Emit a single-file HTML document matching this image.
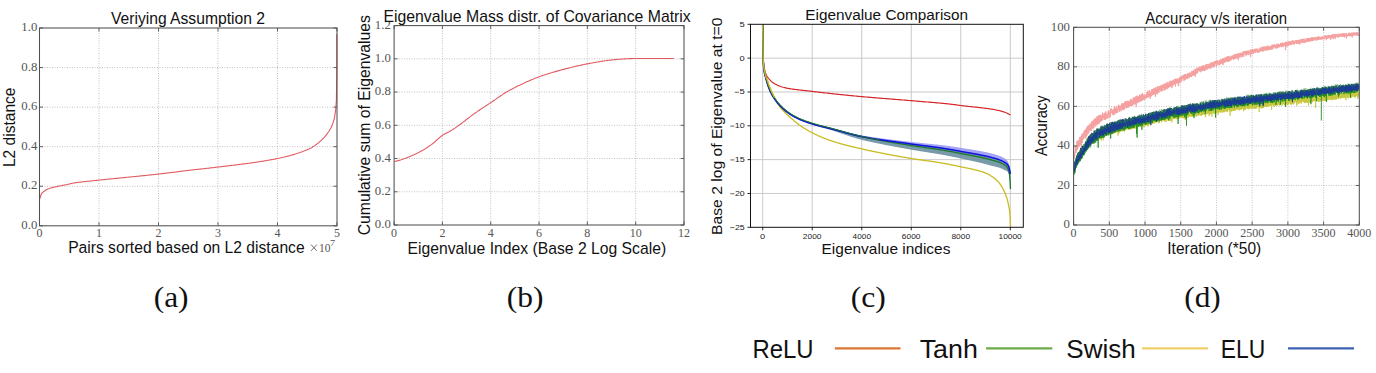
<!DOCTYPE html><html><head><meta charset="utf-8"><style>html,body{margin:0;padding:0;background:#fff;width:1376px;height:373px;overflow:hidden}svg{display:block}</style></head><body>
<svg width="1376" height="373" viewBox="0 0 1376 373">
<line x1="99" y1="28" x2="99" y2="225.8" stroke="#c0c0c0" stroke-width="1" stroke-dasharray="1 1.5"/>
<line x1="158.5" y1="28" x2="158.5" y2="225.8" stroke="#c0c0c0" stroke-width="1" stroke-dasharray="1 1.5"/>
<line x1="218" y1="28" x2="218" y2="225.8" stroke="#c0c0c0" stroke-width="1" stroke-dasharray="1 1.5"/>
<line x1="277.5" y1="28" x2="277.5" y2="225.8" stroke="#c0c0c0" stroke-width="1" stroke-dasharray="1 1.5"/>
<line x1="39.5" y1="186.24" x2="337" y2="186.24" stroke="#c0c0c0" stroke-width="1" stroke-dasharray="1 1.5"/>
<line x1="39.5" y1="146.68" x2="337" y2="146.68" stroke="#c0c0c0" stroke-width="1" stroke-dasharray="1 1.5"/>
<line x1="39.5" y1="107.12" x2="337" y2="107.12" stroke="#c0c0c0" stroke-width="1" stroke-dasharray="1 1.5"/>
<line x1="39.5" y1="67.56" x2="337" y2="67.56" stroke="#c0c0c0" stroke-width="1" stroke-dasharray="1 1.5"/>
<path d="M39.6 199 L40.3 197.2 L41.1 194.5 L41.8 193.3 L42.6 192.5 L43.3 191.8 L44.1 191.2 L44.8 190.7 L45.6 190.2 L46.3 189.8 L47 189.4 L47.8 189.1 L48.5 188.8 L49.3 188.5 L50 188.2 L50.8 188 L51.5 187.8 L52.2 187.6 L53 187.4 L53.7 187.2 L54.5 187 L55.2 186.9 L56 186.7 L56.7 186.6 L57.5 186.4 L58.2 186.3 L58.9 186.1 L59.7 186 L60.4 185.8 L61.2 185.7 L61.9 185.5 L62.7 185.4 L63.4 185.3 L64.1 185.1 L64.9 185 L65.6 184.8 L66.4 184.7 L67.1 184.5 L67.9 184.3 L68.6 184.2 L69.4 184 L70.1 183.8 L70.8 183.6 L71.6 183.5 L72.3 183.3 L73.1 183.2 L73.8 183 L74.6 182.9 L75.3 182.8 L76 182.7 L76.8 182.6 L77.5 182.5 L78.3 182.4 L79 182.3 L79.8 182.2 L80.5 182.1 L81.3 182 L82 181.9 L82.7 181.8 L83.5 181.7 L84.2 181.7 L85 181.6 L85.7 181.5 L86.5 181.4 L87.2 181.3 L88 181.3 L88.7 181.2 L89.4 181.1 L90.2 181 L90.9 181 L91.7 180.9 L92.4 180.8 L93.2 180.7 L93.9 180.7 L94.6 180.6 L95.4 180.5 L96.1 180.4 L96.9 180.4 L97.6 180.3 L98.4 180.2 L99.1 180.1 L99.9 180 L100.6 180 L101.3 179.9 L102.1 179.8 L102.8 179.7 L103.6 179.6 L104.3 179.6 L105.1 179.5 L105.8 179.4 L106.5 179.3 L107.3 179.3 L108 179.2 L108.8 179.1 L109.5 179 L110.3 179 L111 178.9 L111.8 178.8 L112.5 178.7 L113.2 178.7 L114 178.6 L114.7 178.5 L115.5 178.4 L116.2 178.4 L117 178.3 L117.7 178.2 L118.4 178.1 L119.2 178.1 L119.9 178 L120.7 177.9 L121.4 177.8 L122.2 177.8 L122.9 177.7 L123.7 177.6 L124.4 177.6 L125.1 177.5 L125.9 177.4 L126.6 177.3 L127.4 177.3 L128.1 177.2 L128.9 177.1 L129.6 177 L130.4 177 L131.1 176.9 L131.8 176.8 L132.6 176.8 L133.3 176.7 L134.1 176.6 L134.8 176.5 L135.6 176.5 L136.3 176.4 L137 176.3 L137.8 176.2 L138.5 176.2 L139.3 176.1 L140 176 L140.8 175.9 L141.5 175.9 L142.3 175.8 L143 175.7 L143.7 175.6 L144.5 175.6 L145.2 175.5 L146 175.4 L146.7 175.3 L147.5 175.3 L148.2 175.2 L148.9 175.1 L149.7 175 L150.4 174.9 L151.2 174.9 L151.9 174.8 L152.7 174.7 L153.4 174.6 L154.2 174.5 L154.9 174.5 L155.6 174.4 L156.4 174.3 L157.1 174.2 L157.9 174.1 L158.6 174.1 L159.4 174 L160.1 173.9 L160.8 173.8 L161.6 173.7 L162.3 173.6 L163.1 173.5 L163.8 173.4 L164.6 173.4 L165.3 173.3 L166.1 173.2 L166.8 173.1 L167.5 173 L168.3 172.9 L169 172.8 L169.8 172.7 L170.5 172.6 L171.3 172.5 L172 172.4 L172.8 172.3 L173.5 172.2 L174.2 172.2 L175 172.1 L175.7 172 L176.5 171.9 L177.2 171.8 L178 171.7 L178.7 171.6 L179.4 171.5 L180.2 171.4 L180.9 171.3 L181.7 171.2 L182.4 171.1 L183.2 171 L183.9 170.9 L184.7 170.8 L185.4 170.8 L186.1 170.7 L186.9 170.6 L187.6 170.5 L188.4 170.4 L189.1 170.3 L189.9 170.2 L190.6 170.1 L191.3 170 L192.1 170 L192.8 169.9 L193.6 169.8 L194.3 169.7 L195.1 169.6 L195.8 169.5 L196.6 169.5 L197.3 169.4 L198 169.3 L198.8 169.2 L199.5 169.1 L200.3 169.1 L201 169 L201.8 168.9 L202.5 168.8 L203.2 168.7 L204 168.7 L204.7 168.6 L205.5 168.5 L206.2 168.4 L207 168.3 L207.7 168.3 L208.5 168.2 L209.2 168.1 L209.9 168 L210.7 167.9 L211.4 167.8 L212.2 167.8 L212.9 167.7 L213.7 167.6 L214.4 167.5 L215.2 167.4 L215.9 167.3 L216.6 167.2 L217.4 167.1 L218.1 167 L218.9 167 L219.6 166.9 L220.4 166.8 L221.1 166.7 L221.8 166.6 L222.6 166.5 L223.3 166.4 L224.1 166.3 L224.8 166.2 L225.6 166.1 L226.3 166.1 L227.1 166 L227.8 165.9 L228.5 165.8 L229.3 165.7 L230 165.6 L230.8 165.5 L231.5 165.4 L232.3 165.3 L233 165.2 L233.7 165.2 L234.5 165.1 L235.2 165 L236 164.9 L236.7 164.8 L237.5 164.7 L238.2 164.6 L239 164.5 L239.7 164.4 L240.4 164.3 L241.2 164.2 L241.9 164.1 L242.7 164 L243.4 163.9 L244.2 163.9 L244.9 163.8 L245.6 163.7 L246.4 163.6 L247.1 163.5 L247.9 163.4 L248.6 163.3 L249.4 163.2 L250.1 163.1 L250.9 163 L251.6 162.9 L252.3 162.7 L253.1 162.6 L253.8 162.5 L254.6 162.4 L255.3 162.3 L256.1 162.2 L256.8 162.1 L257.6 162 L258.3 161.9 L259 161.8 L259.8 161.7 L260.5 161.5 L261.3 161.4 L262 161.3 L262.8 161.2 L263.5 161.1 L264.2 160.9 L265 160.8 L265.7 160.7 L266.5 160.6 L267.2 160.4 L268 160.3 L268.7 160.2 L269.5 160 L270.2 159.9 L270.9 159.8 L271.7 159.6 L272.4 159.5 L273.2 159.4 L273.9 159.2 L274.7 159.1 L275.4 158.9 L276.1 158.8 L276.9 158.6 L277.6 158.5 L278.4 158.3 L279.1 158.2 L279.9 158 L280.6 157.8 L281.4 157.7 L282.1 157.5 L282.8 157.3 L283.6 157.2 L284.3 157 L285.1 156.8 L285.8 156.6 L286.6 156.5 L287.3 156.3 L288 156.1 L288.8 155.9 L289.5 155.7 L290.3 155.5 L291 155.3 L291.8 155.1 L292.5 154.9 L293.3 154.6 L294 154.4 L294.7 154.2 L295.5 154 L296.2 153.7 L297 153.5 L297.7 153.2 L298.5 153 L299.2 152.7 L300 152.5 L300.7 152.2 L301.4 151.9 L302.2 151.7 L302.9 151.4 L303.7 151.1 L304.4 150.8 L305.2 150.5 L305.9 150.2 L306.6 149.9 L307.4 149.6 L308.1 149.2 L308.9 148.9 L309.6 148.6 L310.4 148.2 L311.1 147.9 L311.9 147.5 L312.6 147 L313.3 146.6 L314.1 146.1 L314.8 145.6 L315.6 145 L316.3 144.5 L317.1 143.9 L317.8 143.3 L318.5 142.7 L319.3 142.1 L320 141.4 L320.8 140.8 L321.5 140.1 L322.3 139.4 L323 138.7 L323.8 137.9 L324.5 137.1 L325.2 136.2 L326 135.3 L326.7 134.4 L327.5 133.4 L328.2 132.3 L329 131.2 L329.7 130 L330.4 128.8 L331.2 127.3 L331.9 125.7 L332.7 123.9 L333.4 121.7 L334.2 119 L334.9 115.2 L335.7 109.7 L336.4 100 L336.8 70 L336.8 34" fill="none" stroke="#e25a60" stroke-width="1.1"/>
<path d="M39.5 225.8V222.3M39.5 28V31.5M99 225.8V222.3M99 28V31.5M158.5 225.8V222.3M158.5 28V31.5M218 225.8V222.3M218 28V31.5M277.5 225.8V222.3M277.5 28V31.5M337 225.8V222.3M337 28V31.5M39.5 225.8H43M337 225.8H333.5M39.5 186.24H43M337 186.24H333.5M39.5 146.68H43M337 146.68H333.5M39.5 107.12H43M337 107.12H333.5M39.5 67.56H43M337 67.56H333.5M39.5 28H43M337 28H333.5" stroke="#505050" stroke-width="0.9" fill="none"/>
<rect x="39.5" y="28" width="297.5" height="197.8" fill="none" stroke="#505050" stroke-width="1.05"/>
<text x="39.5" y="236.7" font-family='"Liberation Serif",serif' font-size="12" text-anchor="middle" fill="#555" >0</text>
<text x="99" y="236.7" font-family='"Liberation Serif",serif' font-size="12" text-anchor="middle" fill="#555" >1</text>
<text x="158.5" y="236.7" font-family='"Liberation Serif",serif' font-size="12" text-anchor="middle" fill="#555" >2</text>
<text x="218" y="236.7" font-family='"Liberation Serif",serif' font-size="12" text-anchor="middle" fill="#555" >3</text>
<text x="277.5" y="236.7" font-family='"Liberation Serif",serif' font-size="12" text-anchor="middle" fill="#555" >4</text>
<text x="337" y="236.7" font-family='"Liberation Serif",serif' font-size="12" text-anchor="middle" fill="#555" >5</text>
<text x="37.3" y="229" font-family='"Liberation Serif",serif' font-size="12.8" text-anchor="end" fill="#555" >0.0</text>
<text x="37.3" y="189.44" font-family='"Liberation Serif",serif' font-size="12.8" text-anchor="end" fill="#555" >0.2</text>
<text x="37.3" y="149.88" font-family='"Liberation Serif",serif' font-size="12.8" text-anchor="end" fill="#555" >0.4</text>
<text x="37.3" y="110.32" font-family='"Liberation Serif",serif' font-size="12.8" text-anchor="end" fill="#555" >0.6</text>
<text x="37.3" y="70.76" font-family='"Liberation Serif",serif' font-size="12.8" text-anchor="end" fill="#555" >0.8</text>
<text x="37.3" y="31.2" font-family='"Liberation Serif",serif' font-size="12.8" text-anchor="end" fill="#555" >1.0</text>
<text x="110.92" y="23.6" font-family='"Liberation Sans",sans-serif' font-size="16.81" textLength="154.05" lengthAdjust="spacingAndGlyphs" fill="#111" >Veriying Assumption 2</text>
<text x="68.15" y="253.3" font-family='"Liberation Sans",sans-serif' font-size="16.67" textLength="236.47" lengthAdjust="spacingAndGlyphs" fill="#111" >Pairs sorted based on L2 distance</text>
<path d="M311 244.6L316.8 250.9M316.8 244.6L311 250.9" stroke="#555" stroke-width="0.85" fill="none"/>
<text x="319.03" y="251.6" font-family='"Liberation Serif",serif' font-size="12.52" textLength="11.43" lengthAdjust="spacingAndGlyphs" fill="#555" >10</text>
<text x="330.03" y="246.1" font-family='"Liberation Serif",serif' font-size="8.7" textLength="5.19" lengthAdjust="spacingAndGlyphs" fill="#555" >7</text>
<text x="14.8" y="167.04" font-family='"Liberation Sans",sans-serif' font-size="16.67" textLength="79.54" lengthAdjust="spacingAndGlyphs" fill="#111" transform="rotate(-90 14.8 167.04)">L2 distance</text>
<line x1="442.42" y1="25.6" x2="442.42" y2="225" stroke="#c0c0c0" stroke-width="1" stroke-dasharray="1 1.5"/>
<line x1="490.73" y1="25.6" x2="490.73" y2="225" stroke="#c0c0c0" stroke-width="1" stroke-dasharray="1 1.5"/>
<line x1="539.05" y1="25.6" x2="539.05" y2="225" stroke="#c0c0c0" stroke-width="1" stroke-dasharray="1 1.5"/>
<line x1="587.37" y1="25.6" x2="587.37" y2="225" stroke="#c0c0c0" stroke-width="1" stroke-dasharray="1 1.5"/>
<line x1="635.68" y1="25.6" x2="635.68" y2="225" stroke="#c0c0c0" stroke-width="1" stroke-dasharray="1 1.5"/>
<line x1="394.1" y1="191.77" x2="684" y2="191.77" stroke="#c0c0c0" stroke-width="1" stroke-dasharray="1 1.5"/>
<line x1="394.1" y1="158.53" x2="684" y2="158.53" stroke="#c0c0c0" stroke-width="1" stroke-dasharray="1 1.5"/>
<line x1="394.1" y1="125.3" x2="684" y2="125.3" stroke="#c0c0c0" stroke-width="1" stroke-dasharray="1 1.5"/>
<line x1="394.1" y1="92.07" x2="684" y2="92.07" stroke="#c0c0c0" stroke-width="1" stroke-dasharray="1 1.5"/>
<line x1="394.1" y1="58.83" x2="684" y2="58.83" stroke="#c0c0c0" stroke-width="1" stroke-dasharray="1 1.5"/>
<path d="M394.1 225V221.5M394.1 25.6V29.1M442.42 225V221.5M442.42 25.6V29.1M490.73 225V221.5M490.73 25.6V29.1M539.05 225V221.5M539.05 25.6V29.1M587.37 225V221.5M587.37 25.6V29.1M635.68 225V221.5M635.68 25.6V29.1M684 225V221.5M684 25.6V29.1M394.1 225H397.6M684 225H680.5M394.1 191.77H397.6M684 191.77H680.5M394.1 158.53H397.6M684 158.53H680.5M394.1 125.3H397.6M684 125.3H680.5M394.1 92.07H397.6M684 92.07H680.5M394.1 58.83H397.6M684 58.83H680.5M394.1 25.6H397.6M684 25.6H680.5" stroke="#505050" stroke-width="0.9" fill="none"/>
<rect x="394.1" y="25.6" width="289.9" height="199.4" fill="none" stroke="#505050" stroke-width="1.05"/>
<path d="M394.2 161.6 L395.1 161.4 L396.1 161.2 L397 160.9 L397.9 160.7 L398.9 160.4 L399.8 160.2 L400.7 159.9 L401.7 159.6 L402.6 159.3 L403.6 158.9 L404.5 158.6 L405.4 158.3 L406.4 157.9 L407.3 157.6 L408.2 157.2 L409.2 156.8 L410.1 156.4 L411 156 L412 155.6 L412.9 155.2 L413.8 154.8 L414.8 154.3 L415.7 153.9 L416.7 153.5 L417.6 153 L418.5 152.6 L419.5 152.1 L420.4 151.6 L421.3 151.1 L422.3 150.6 L423.2 150 L424.1 149.5 L425.1 148.9 L426 148.3 L426.9 147.7 L427.9 147 L428.8 146.4 L429.7 145.7 L430.7 145.1 L431.6 144.4 L432.6 143.7 L433.5 143 L434.4 142.2 L435.4 141.4 L436.3 140.5 L437.2 139.7 L438.2 138.8 L439.1 138 L440 137.2 L441 136.5 L441.9 135.8 L442.8 135.1 L443.8 134.5 L444.7 134 L445.6 133.5 L446.6 133 L447.5 132.5 L448.5 132 L449.4 131.5 L450.3 131 L451.3 130.4 L452.2 129.9 L453.1 129.3 L454.1 128.7 L455 128.1 L455.9 127.4 L456.9 126.8 L457.8 126.1 L458.7 125.4 L459.7 124.7 L460.6 124 L461.6 123.3 L462.5 122.6 L463.4 121.9 L464.4 121.2 L465.3 120.5 L466.2 119.7 L467.2 119 L468.1 118.3 L469 117.6 L470 116.9 L470.9 116.1 L471.8 115.4 L472.8 114.8 L473.7 114.1 L474.6 113.4 L475.6 112.7 L476.5 112.1 L477.5 111.4 L478.4 110.8 L479.3 110.2 L480.3 109.5 L481.2 108.9 L482.1 108.3 L483.1 107.7 L484 107.1 L484.9 106.4 L485.9 105.8 L486.8 105.2 L487.7 104.6 L488.7 104 L489.6 103.4 L490.6 102.7 L491.5 102.1 L492.4 101.5 L493.4 100.8 L494.3 100.2 L495.2 99.6 L496.2 98.9 L497.1 98.3 L498 97.6 L499 97 L499.9 96.3 L500.8 95.7 L501.8 95.1 L502.7 94.4 L503.6 93.8 L504.6 93.2 L505.5 92.6 L506.5 92.1 L507.4 91.5 L508.3 91 L509.3 90.4 L510.2 89.9 L511.1 89.4 L512.1 88.9 L513 88.4 L513.9 87.9 L514.9 87.5 L515.8 87 L516.7 86.5 L517.7 86.1 L518.6 85.6 L519.6 85.2 L520.5 84.7 L521.4 84.3 L522.4 83.9 L523.3 83.4 L524.2 83 L525.2 82.6 L526.1 82.1 L527 81.7 L528 81.3 L528.9 80.9 L529.8 80.5 L530.8 80.1 L531.7 79.7 L532.6 79.3 L533.6 78.9 L534.5 78.5 L535.5 78.1 L536.4 77.7 L537.3 77.4 L538.3 77 L539.2 76.7 L540.1 76.4 L541.1 76 L542 75.7 L542.9 75.4 L543.9 75.1 L544.8 74.8 L545.7 74.5 L546.7 74.2 L547.6 73.9 L548.5 73.6 L549.5 73.3 L550.4 73 L551.4 72.7 L552.3 72.5 L553.2 72.2 L554.2 71.9 L555.1 71.6 L556 71.4 L557 71.1 L557.9 70.9 L558.8 70.6 L559.8 70.3 L560.7 70.1 L561.6 69.8 L562.6 69.6 L563.5 69.4 L564.5 69.1 L565.4 68.9 L566.3 68.6 L567.3 68.4 L568.2 68.2 L569.1 67.9 L570.1 67.7 L571 67.5 L571.9 67.2 L572.9 67 L573.8 66.8 L574.7 66.6 L575.7 66.3 L576.6 66.1 L577.5 65.9 L578.5 65.7 L579.4 65.5 L580.4 65.3 L581.3 65.1 L582.2 64.9 L583.2 64.7 L584.1 64.5 L585 64.3 L586 64.1 L586.9 63.9 L587.8 63.8 L588.8 63.6 L589.7 63.4 L590.6 63.2 L591.6 63 L592.5 62.9 L593.5 62.7 L594.4 62.5 L595.3 62.4 L596.3 62.2 L597.2 62 L598.1 61.9 L599.1 61.7 L600 61.5 L600.9 61.4 L601.9 61.2 L602.8 61.1 L603.7 61 L604.7 60.8 L605.6 60.7 L606.5 60.6 L607.5 60.4 L608.4 60.3 L609.4 60.2 L610.3 60.1 L611.2 60 L612.2 59.9 L613.1 59.8 L614 59.7 L615 59.6 L615.9 59.6 L616.8 59.5 L617.8 59.4 L618.7 59.3 L619.6 59.2 L620.6 59.2 L621.5 59.1 L622.5 59 L623.4 59 L624.3 58.9 L625.3 58.9 L626.2 58.8 L627.1 58.8 L628.1 58.7 L629 58.7 L629.9 58.6 L630.9 58.6 L631.8 58.6 L632.7 58.5 L633.7 58.5 L634.6 58.5 L635.5 58.5 L636.5 58.5 L637.4 58.5 L638.4 58.5 L639.3 58.5 L640.2 58.5 L641.2 58.5 L642.1 58.5 L643 58.5 L644 58.5 L644.9 58.5 L645.8 58.5 L646.8 58.5 L647.7 58.5 L648.6 58.5 L649.6 58.5 L650.5 58.5 L651.4 58.5 L652.4 58.5 L653.3 58.5 L654.3 58.5 L655.2 58.5 L656.1 58.5 L657.1 58.5 L658 58.5 L658.9 58.5 L659.9 58.5 L660.8 58.5 L661.7 58.5 L662.7 58.5 L663.6 58.5 L664.5 58.5 L665.5 58.5 L666.4 58.5 L667.4 58.5 L668.3 58.5 L669.2 58.5 L670.2 58.5 L671.1 58.5 L672 58.5 L673 58.5 L673.9 58.5" fill="none" stroke="#e25a60" stroke-width="1.1"/>
<text x="394.1" y="236.8" font-family='"Liberation Serif",serif' font-size="12" text-anchor="middle" fill="#555" >0</text>
<text x="442.42" y="236.8" font-family='"Liberation Serif",serif' font-size="12" text-anchor="middle" fill="#555" >2</text>
<text x="490.73" y="236.8" font-family='"Liberation Serif",serif' font-size="12" text-anchor="middle" fill="#555" >4</text>
<text x="539.05" y="236.8" font-family='"Liberation Serif",serif' font-size="12" text-anchor="middle" fill="#555" >6</text>
<text x="587.37" y="236.8" font-family='"Liberation Serif",serif' font-size="12" text-anchor="middle" fill="#555" >8</text>
<text x="635.68" y="236.8" font-family='"Liberation Serif",serif' font-size="12" text-anchor="middle" fill="#555" >10</text>
<text x="684" y="236.8" font-family='"Liberation Serif",serif' font-size="12" text-anchor="middle" fill="#555" >12</text>
<text x="390.8" y="228.2" font-family='"Liberation Serif",serif' font-size="12.8" text-anchor="end" fill="#555" >0.0</text>
<text x="390.8" y="194.97" font-family='"Liberation Serif",serif' font-size="12.8" text-anchor="end" fill="#555" >0.2</text>
<text x="390.8" y="161.73" font-family='"Liberation Serif",serif' font-size="12.8" text-anchor="end" fill="#555" >0.4</text>
<text x="390.8" y="128.5" font-family='"Liberation Serif",serif' font-size="12.8" text-anchor="end" fill="#555" >0.6</text>
<text x="390.8" y="95.27" font-family='"Liberation Serif",serif' font-size="12.8" text-anchor="end" fill="#555" >0.8</text>
<text x="390.8" y="62.03" font-family='"Liberation Serif",serif' font-size="12.8" text-anchor="end" fill="#555" >1.0</text>
<text x="390.8" y="28.8" font-family='"Liberation Serif",serif' font-size="12.8" text-anchor="end" fill="#555" >1.2</text>
<text x="383.44" y="21.6" font-family='"Liberation Sans",sans-serif' font-size="16.81" textLength="307.29" lengthAdjust="spacingAndGlyphs" fill="#111" >Eigenvalue Mass distr. of Covariance Matrix</text>
<text x="407.54" y="253.7" font-family='"Liberation Sans",sans-serif' font-size="16.96" textLength="258.61" lengthAdjust="spacingAndGlyphs" fill="#111" >Eigenvalue Index (Base 2 Log Scale)</text>
<text x="369.6" y="235.29" font-family='"Liberation Sans",sans-serif' font-size="16.38" textLength="220.17" lengthAdjust="spacingAndGlyphs" fill="#111" transform="rotate(-90 369.6 235.29)">Cumulative sum of Eigenvalues</text>
<line x1="762.7" y1="24.3" x2="762.7" y2="227.3" stroke="#c4c4c4" stroke-width="0.9"/>
<line x1="812.22" y1="24.3" x2="812.22" y2="227.3" stroke="#c4c4c4" stroke-width="0.9"/>
<line x1="861.74" y1="24.3" x2="861.74" y2="227.3" stroke="#c4c4c4" stroke-width="0.9"/>
<line x1="911.26" y1="24.3" x2="911.26" y2="227.3" stroke="#c4c4c4" stroke-width="0.9"/>
<line x1="960.78" y1="24.3" x2="960.78" y2="227.3" stroke="#c4c4c4" stroke-width="0.9"/>
<line x1="1010.3" y1="24.3" x2="1010.3" y2="227.3" stroke="#c4c4c4" stroke-width="0.9"/>
<line x1="750.5" y1="58.13" x2="1023.3" y2="58.13" stroke="#c4c4c4" stroke-width="0.9"/>
<line x1="750.5" y1="91.97" x2="1023.3" y2="91.97" stroke="#c4c4c4" stroke-width="0.9"/>
<line x1="750.5" y1="125.8" x2="1023.3" y2="125.8" stroke="#c4c4c4" stroke-width="0.9"/>
<line x1="750.5" y1="159.63" x2="1023.3" y2="159.63" stroke="#c4c4c4" stroke-width="0.9"/>
<line x1="750.5" y1="193.47" x2="1023.3" y2="193.47" stroke="#c4c4c4" stroke-width="0.9"/>
<clipPath id="cc"><rect x="750.5" y="24.3" width="272.8" height="203"/></clipPath><g clip-path="url(#cc)">
<path d="M762.6 19.7 L763.1 56.9 L763.6 66.6 L764.1 70.6 L764.6 73.3 L765.1 75.3 L765.6 77.1 L766.1 79 L766.6 80.8 L767.1 82.5 L767.6 84.1 L768.1 85.6 L768.6 86.9 L769.1 88.2 L769.6 89.4 L770 90.5 L770.5 91.6 L771 92.6 L771.5 93.6 L772 94.5 L772.5 95.4 L773 96.2 L773.5 97 L774 97.8 L774.5 98.5 L775 99.2 L775.5 99.9 L776 100.6 L776.5 101.2 L777 101.8 L777.5 102.4 L778 103 L778.5 103.6 L779 104.2 L779.5 104.7 L780 105.2 L780.5 105.8 L781 106.3 L781.5 106.8 L782 107.3 L782.5 107.7 L783 108.2 L783.5 108.7 L784 109.1 L784.5 109.5 L784.9 109.9 L785.4 110.3 L785.9 110.7 L786.4 111.1 L786.9 111.5 L787.4 111.9 L787.9 112.2 L788.4 112.6 L788.9 112.9 L789.4 113.3 L789.9 113.6 L790.4 113.9 L790.9 114.2 L791.4 114.5 L791.9 114.8 L792.4 115.1 L792.9 115.4 L793.4 115.7 L793.9 116 L794.4 116.3 L794.9 116.5 L795.4 116.8 L795.9 117 L796.4 117.3 L796.9 117.5 L797.4 117.8 L797.9 118 L798.4 118.2 L798.9 118.4 L799.3 118.7 L799.8 118.9 L800.3 119.1 L800.8 119.3 L801.3 119.5 L801.8 119.7 L802.3 119.9 L802.8 120.1 L803.3 120.3 L803.8 120.4 L804.3 120.6 L804.8 120.8 L805.3 121 L805.8 121.2 L806.3 121.3 L806.8 121.5 L807.3 121.7 L807.8 121.8 L808.3 122 L808.8 122.2 L809.3 122.3 L809.8 122.5 L810.3 122.6 L810.8 122.8 L811.3 122.9 L811.8 123.1 L812.3 123.2 L812.8 123.4 L813.3 123.5 L813.7 123.7 L814.2 123.8 L814.7 123.9 L815.2 124.1 L815.7 124.2 L816.2 124.3 L816.7 124.5 L817.2 124.6 L817.7 124.7 L818.2 124.9 L818.7 125 L819.2 125.1 L819.7 125.2 L820.2 125.4 L820.7 125.5 L821.2 125.6 L821.7 125.7 L822.2 125.8 L822.7 125.9 L823.2 126.1 L823.7 126.2 L824.2 126.3 L824.7 126.4 L825.2 126.5 L825.7 126.6 L826.2 126.8 L826.7 126.9 L827.2 127 L827.7 127.1 L828.2 127.2 L828.6 127.3 L829.1 127.5 L829.6 127.6 L830.1 127.7 L830.6 127.8 L831.1 127.9 L831.6 128.1 L832.1 128.2 L832.6 128.3 L833.1 128.4 L833.6 128.5 L834.1 128.7 L834.6 128.8 L835.1 128.9 L835.6 129.1 L836.1 129.2 L836.6 129.3 L837.1 129.4 L837.6 129.6 L838.1 129.7 L838.6 129.8 L839.1 130 L839.6 130.1 L840.1 130.2 L840.6 130.4 L841.1 130.5 L841.6 130.6 L842.1 130.8 L842.6 130.9 L843 131 L843.5 131.2 L844 131.3 L844.5 131.4 L845 131.6 L845.5 131.7 L846 131.8 L846.5 132 L847 132.1 L847.5 132.2 L848 132.3 L848.5 132.5 L849 132.6 L849.5 132.7 L850 132.9 L850.5 133 L851 133.1 L851.5 133.2 L852 133.3 L852.5 133.5 L853 133.6 L853.5 133.7 L854 133.8 L854.5 133.9 L855 134 L855.5 134.1 L856 134.2 L856.5 134.3 L857 134.5 L857.4 134.6 L857.9 134.7 L858.4 134.8 L858.9 134.9 L859.4 135 L859.9 135 L860.4 135.1 L860.9 135.2 L861.4 135.3 L861.9 135.4 L862.4 135.5 L862.9 135.6 L863.4 135.7 L863.9 135.7 L864.4 135.8 L864.9 135.9 L865.4 136 L865.9 136.1 L866.4 136.2 L866.9 136.2 L867.4 136.3 L867.9 136.4 L868.4 136.5 L868.9 136.6 L869.4 136.6 L869.9 136.7 L870.4 136.8 L870.9 136.9 L871.4 136.9 L871.9 137 L872.3 137.1 L872.8 137.2 L873.3 137.2 L873.8 137.3 L874.3 137.4 L874.8 137.4 L875.3 137.5 L875.8 137.6 L876.3 137.6 L876.8 137.7 L877.3 137.8 L877.8 137.9 L878.3 137.9 L878.8 138 L879.3 138.1 L879.8 138.1 L880.3 138.2 L880.8 138.3 L881.3 138.3 L881.8 138.4 L882.3 138.4 L882.8 138.5 L883.3 138.6 L883.8 138.6 L884.3 138.7 L884.8 138.8 L885.3 138.8 L885.8 138.9 L886.3 139 L886.7 139 L887.2 139.1 L887.7 139.1 L888.2 139.2 L888.7 139.3 L889.2 139.3 L889.7 139.4 L890.2 139.4 L890.7 139.5 L891.2 139.6 L891.7 139.6 L892.2 139.7 L892.7 139.7 L893.2 139.8 L893.7 139.9 L894.2 139.9 L894.7 140 L895.2 140 L895.7 140.1 L896.2 140.2 L896.7 140.2 L897.2 140.3 L897.7 140.3 L898.2 140.4 L898.7 140.4 L899.2 140.5 L899.7 140.6 L900.2 140.6 L900.7 140.7 L901.1 140.7 L901.6 140.8 L902.1 140.9 L902.6 140.9 L903.1 141 L903.6 141 L904.1 141.1 L904.6 141.2 L905.1 141.2 L905.6 141.3 L906.1 141.3 L906.6 141.4 L907.1 141.5 L907.6 141.5 L908.1 141.6 L908.6 141.6 L909.1 141.7 L909.6 141.8 L910.1 141.8 L910.6 141.9 L911.1 142 L911.6 142 L912.1 142.1 L912.6 142.1 L913.1 142.2 L913.6 142.2 L914.1 142.3 L914.6 142.3 L915.1 142.4 L915.6 142.4 L916 142.5 L916.5 142.5 L917 142.6 L917.5 142.6 L918 142.7 L918.5 142.7 L919 142.8 L919.5 142.8 L920 142.9 L920.5 142.9 L921 143 L921.5 143 L922 143.1 L922.5 143.1 L923 143.2 L923.5 143.2 L924 143.3 L924.5 143.3 L925 143.4 L925.5 143.4 L926 143.5 L926.5 143.5 L927 143.6 L927.5 143.6 L928 143.7 L928.5 143.7 L929 143.8 L929.5 143.8 L930 143.9 L930.4 143.9 L930.9 144 L931.4 144 L931.9 144.1 L932.4 144.1 L932.9 144.2 L933.4 144.2 L933.9 144.3 L934.4 144.3 L934.9 144.4 L935.4 144.4 L935.9 144.5 L936.4 144.5 L936.9 144.6 L937.4 144.6 L937.9 144.7 L938.4 144.7 L938.9 144.8 L939.4 144.9 L939.9 144.9 L940.4 145 L940.9 145 L941.4 145.1 L941.9 145.1 L942.4 145.2 L942.9 145.3 L943.4 145.3 L943.9 145.4 L944.4 145.4 L944.8 145.5 L945.3 145.6 L945.8 145.6 L946.3 145.7 L946.8 145.7 L947.3 145.8 L947.8 145.9 L948.3 145.9 L948.8 146 L949.3 146.1 L949.8 146.2 L950.3 146.2 L950.8 146.3 L951.3 146.4 L951.8 146.4 L952.3 146.5 L952.8 146.6 L953.3 146.7 L953.8 146.7 L954.3 146.8 L954.8 146.9 L955.3 147 L955.8 147 L956.3 147.1 L956.8 147.2 L957.3 147.3 L957.8 147.3 L958.3 147.4 L958.8 147.5 L959.3 147.6 L959.7 147.6 L960.2 147.7 L960.7 147.8 L961.2 147.9 L961.7 148 L962.2 148 L962.7 148.1 L963.2 148.2 L963.7 148.3 L964.2 148.4 L964.7 148.4 L965.2 148.5 L965.7 148.6 L966.2 148.7 L966.7 148.8 L967.2 148.8 L967.7 148.9 L968.2 149 L968.7 149.1 L969.2 149.2 L969.7 149.2 L970.2 149.3 L970.7 149.4 L971.2 149.5 L971.7 149.6 L972.2 149.6 L972.7 149.7 L973.2 149.8 L973.7 149.9 L974.1 150 L974.6 150 L975.1 150.1 L975.6 150.2 L976.1 150.3 L976.6 150.4 L977.1 150.5 L977.6 150.6 L978.1 150.6 L978.6 150.7 L979.1 150.8 L979.6 150.9 L980.1 151 L980.6 151.1 L981.1 151.2 L981.6 151.3 L982.1 151.4 L982.6 151.5 L983.1 151.6 L983.6 151.7 L984.1 151.8 L984.6 151.9 L985.1 152 L985.6 152.1 L986.1 152.2 L986.6 152.3 L987.1 152.4 L987.6 152.5 L988.1 152.6 L988.5 152.7 L989 152.9 L989.5 153 L990 153.1 L990.5 153.2 L991 153.4 L991.5 153.5 L992 153.6 L992.5 153.8 L993 153.9 L993.5 154 L994 154.2 L994.5 154.3 L995 154.4 L995.5 154.6 L996 154.7 L996.5 154.9 L997 155 L997.5 155.2 L998 155.4 L998.5 155.5 L999 155.7 L999.5 155.9 L1000 156.1 L1000.5 156.3 L1001 156.5 L1001.5 156.7 L1002 156.9 L1002.5 157.2 L1003 157.4 L1003.4 157.6 L1003.9 157.9 L1004.4 158.2 L1004.9 158.5 L1005.4 158.8 L1005.9 159.3 L1006.4 159.7 L1006.9 160.3 L1007.4 160.9 L1007.9 161.6 L1008.4 162.5 L1008.9 163.7 L1009.4 165.7 L1009.9 168.2 L1010.4 170.9 L1010.4 174.2 L1009.9 171.6 L1009.4 169.2 L1008.9 167.3 L1008.4 166.2 L1007.9 165.4 L1007.4 164.8 L1006.9 164.2 L1006.4 163.8 L1005.9 163.4 L1005.4 163.1 L1004.9 162.8 L1004.4 162.5 L1003.9 162.2 L1003.4 161.9 L1003 161.7 L1002.5 161.5 L1002 161.2 L1001.5 161 L1001 160.8 L1000.5 160.6 L1000 160.4 L999.5 160.2 L999 160 L998.5 159.8 L998 159.7 L997.5 159.5 L997 159.3 L996.5 159.2 L996 159 L995.5 158.9 L995 158.7 L994.5 158.6 L994 158.5 L993.5 158.3 L993 158.2 L992.5 158.1 L992 157.9 L991.5 157.8 L991 157.7 L990.5 157.5 L990 157.4 L989.5 157.3 L989 157.2 L988.5 157 L988.1 156.9 L987.6 156.8 L987.1 156.7 L986.6 156.5 L986.1 156.4 L985.6 156.3 L985.1 156.2 L984.6 156.1 L984.1 156 L983.6 155.9 L983.1 155.8 L982.6 155.7 L982.1 155.6 L981.6 155.5 L981.1 155.4 L980.6 155.3 L980.1 155.2 L979.6 155.1 L979.1 155 L978.6 154.9 L978.1 154.8 L977.6 154.7 L977.1 154.6 L976.6 154.5 L976.1 154.4 L975.6 154.3 L975.1 154.2 L974.6 154.1 L974.1 154 L973.7 154 L973.2 153.9 L972.7 153.8 L972.2 153.7 L971.7 153.6 L971.2 153.5 L970.7 153.4 L970.2 153.3 L969.7 153.3 L969.2 153.2 L968.7 153.1 L968.2 153 L967.7 152.9 L967.2 152.8 L966.7 152.7 L966.2 152.7 L965.7 152.6 L965.2 152.5 L964.7 152.4 L964.2 152.3 L963.7 152.2 L963.2 152.1 L962.7 152 L962.2 152 L961.7 151.9 L961.2 151.8 L960.7 151.7 L960.2 151.6 L959.7 151.5 L959.3 151.4 L958.8 151.3 L958.3 151.2 L957.8 151.1 L957.3 151 L956.8 150.9 L956.3 150.9 L955.8 150.8 L955.3 150.7 L954.8 150.6 L954.3 150.5 L953.8 150.4 L953.3 150.3 L952.8 150.2 L952.3 150.1 L951.8 150 L951.3 150 L950.8 149.9 L950.3 149.8 L949.8 149.7 L949.3 149.6 L948.8 149.5 L948.3 149.4 L947.8 149.4 L947.3 149.3 L946.8 149.2 L946.3 149.1 L945.8 149 L945.3 149 L944.8 148.9 L944.4 148.8 L943.9 148.7 L943.4 148.6 L942.9 148.6 L942.4 148.5 L941.9 148.4 L941.4 148.3 L940.9 148.3 L940.4 148.2 L939.9 148.1 L939.4 148.1 L938.9 148 L938.4 147.9 L937.9 147.8 L937.4 147.8 L936.9 147.7 L936.4 147.6 L935.9 147.6 L935.4 147.5 L934.9 147.4 L934.4 147.4 L933.9 147.3 L933.4 147.2 L932.9 147.2 L932.4 147.1 L931.9 147 L931.4 147 L930.9 146.9 L930.4 146.8 L930 146.8 L929.5 146.7 L929 146.6 L928.5 146.6 L928 146.5 L927.5 146.4 L927 146.4 L926.5 146.3 L926 146.3 L925.5 146.2 L925 146.1 L924.5 146.1 L924 146 L923.5 145.9 L923 145.9 L922.5 145.8 L922 145.7 L921.5 145.7 L921 145.6 L920.5 145.5 L920 145.5 L919.5 145.4 L919 145.3 L918.5 145.3 L918 145.2 L917.5 145.1 L917 145.1 L916.5 145 L916 144.9 L915.6 144.9 L915.1 144.8 L914.6 144.7 L914.1 144.7 L913.6 144.6 L913.1 144.5 L912.6 144.5 L912.1 144.4 L911.6 144.3 L911.1 144.3 L910.6 144.2 L910.1 144.1 L909.6 144 L909.1 144 L908.6 143.9 L908.1 143.8 L907.6 143.8 L907.1 143.7 L906.6 143.6 L906.1 143.6 L905.6 143.5 L905.1 143.4 L904.6 143.4 L904.1 143.3 L903.6 143.2 L903.1 143.2 L902.6 143.1 L902.1 143 L901.6 142.9 L901.1 142.9 L900.7 142.8 L900.2 142.7 L899.7 142.7 L899.2 142.6 L898.7 142.5 L898.2 142.5 L897.7 142.4 L897.2 142.3 L896.7 142.3 L896.2 142.2 L895.7 142.1 L895.2 142.1 L894.7 142 L894.2 141.9 L893.7 141.9 L893.2 141.8 L892.7 141.7 L892.2 141.7 L891.7 141.6 L891.2 141.5 L890.7 141.5 L890.2 141.4 L889.7 141.3 L889.2 141.3 L888.7 141.2 L888.2 141.1 L887.7 141.1 L887.2 141 L886.7 140.9 L886.3 140.8 L885.8 140.8 L885.3 140.7 L884.8 140.6 L884.3 140.6 L883.8 140.5 L883.3 140.4 L882.8 140.3 L882.3 140.3 L881.8 140.2 L881.3 140.1 L880.8 140.1 L880.3 140 L879.8 139.9 L879.3 139.8 L878.8 139.8 L878.3 139.7 L877.8 139.6 L877.3 139.5 L876.8 139.5 L876.3 139.4 L875.8 139.3 L875.3 139.2 L874.8 139.1 L874.3 139.1 L873.8 139 L873.3 138.9 L872.8 138.8 L872.3 138.7 L871.9 138.7 L871.4 138.6 L870.9 138.5 L870.4 138.4 L869.9 138.3 L869.4 138.2 L868.9 138.2 L868.4 138.1 L867.9 138 L867.4 137.9 L866.9 137.8 L866.4 137.7 L865.9 137.6 L865.4 137.5 L864.9 137.5 L864.4 137.4 L863.9 137.3 L863.4 137.2 L862.9 137.1 L862.4 137 L861.9 136.9 L861.4 136.8 L860.9 136.7 L860.4 136.6 L859.9 136.5 L859.4 136.4 L858.9 136.3 L858.4 136.2 L857.9 136.1 L857.4 136 L857 135.9 L856.5 135.8 L856 135.6 L855.5 135.5 L855 135.4 L854.5 135.3 L854 135.2 L853.5 135 L853 134.9 L852.5 134.8 L852 134.7 L851.5 134.5 L851 134.4 L850.5 134.3 L850 134.2 L849.5 134 L849 133.9 L848.5 133.8 L848 133.6 L847.5 133.5 L847 133.4 L846.5 133.2 L846 133.1 L845.5 133 L845 132.8 L844.5 132.7 L844 132.6 L843.5 132.4 L843 132.3 L842.6 132.1 L842.1 132 L841.6 131.9 L841.1 131.7 L840.6 131.6 L840.1 131.5 L839.6 131.3 L839.1 131.2 L838.6 131.1 L838.1 130.9 L837.6 130.8 L837.1 130.6 L836.6 130.5 L836.1 130.4 L835.6 130.2 L835.1 130.1 L834.6 130 L834.1 129.8 L833.6 129.7 L833.1 129.6 L832.6 129.5 L832.1 129.3 L831.6 129.2 L831.1 129.1 L830.6 129 L830.1 128.8 L829.6 128.7 L829.1 128.6 L828.6 128.5 L828.2 128.3 L827.7 128.2 L827.2 128.1 L826.7 128 L826.2 127.9 L825.7 127.7 L825.2 127.6 L824.7 127.5 L824.2 127.4 L823.7 127.3 L823.2 127.1 L822.7 127 L822.2 126.9 L821.7 126.8 L821.2 126.7 L820.7 126.5 L820.2 126.4 L819.7 126.3 L819.2 126.2 L818.7 126 L818.2 125.9 L817.7 125.8 L817.2 125.6 L816.7 125.5 L816.2 125.4 L815.7 125.2 L815.2 125.1 L814.7 125 L814.2 124.8 L813.7 124.7 L813.3 124.5 L812.8 124.4 L812.3 124.2 L811.8 124.1 L811.3 123.9 L810.8 123.8 L810.3 123.6 L809.8 123.4 L809.3 123.3 L808.8 123.1 L808.3 123 L807.8 122.8 L807.3 122.6 L806.8 122.5 L806.3 122.3 L805.8 122.1 L805.3 121.9 L804.8 121.7 L804.3 121.6 L803.8 121.4 L803.3 121.2 L802.8 121 L802.3 120.8 L801.8 120.6 L801.3 120.4 L800.8 120.2 L800.3 120 L799.8 119.8 L799.3 119.6 L798.9 119.3 L798.4 119.1 L797.9 118.9 L797.4 118.6 L796.9 118.4 L796.4 118.2 L795.9 117.9 L795.4 117.7 L794.9 117.4 L794.4 117.1 L793.9 116.8 L793.4 116.6 L792.9 116.3 L792.4 116 L791.9 115.7 L791.4 115.4 L790.9 115.1 L790.4 114.7 L789.9 114.4 L789.4 114.1 L788.9 113.7 L788.4 113.4 L787.9 113 L787.4 112.7 L786.9 112.3 L786.4 111.9 L785.9 111.5 L785.4 111.1 L784.9 110.7 L784.5 110.3 L784 109.9 L783.5 109.4 L783 109 L782.5 108.5 L782 108 L781.5 107.5 L781 107 L780.5 106.5 L780 106 L779.5 105.5 L779 104.9 L778.5 104.3 L778 103.8 L777.5 103.2 L777 102.6 L776.5 101.9 L776 101.3 L775.5 100.6 L775 99.9 L774.5 99.2 L774 98.5 L773.5 97.7 L773 96.9 L772.5 96.1 L772 95.2 L771.5 94.2 L771 93.3 L770.5 92.3 L770 91.2 L769.6 90.1 L769.1 88.9 L768.6 87.6 L768.1 86.2 L767.6 84.7 L767.1 83.1 L766.6 81.4 L766.1 79.6 L765.6 77.7 L765.1 76 L764.6 74 L764.1 71.2 L763.6 67.2 L763.1 57.5 L762.6 20.3 Z" fill="#9a9af5" fill-opacity="0.9" stroke="none"/>
<path d="M762.6 20 L763.1 57.2 L763.6 66.9 L764.1 70.9 L764.6 73.7 L765.1 75.7 L765.6 77.4 L766.1 79.3 L766.6 81.1 L767.1 82.8 L767.6 84.4 L768.1 85.9 L768.6 87.3 L769.1 88.6 L769.6 89.8 L770.1 90.9 L770.5 92 L771 93 L771.5 93.9 L772 94.9 L772.5 95.8 L773 96.6 L773.5 97.4 L774 98.2 L774.5 98.9 L775 99.7 L775.5 100.3 L776 101 L776.5 101.6 L777 102.3 L777.5 102.9 L778 103.5 L778.5 104 L779 104.6 L779.5 105.2 L780 105.7 L780.5 106.2 L781 106.7 L781.5 107.2 L782 107.7 L782.5 108.2 L783 108.7 L783.5 109.1 L784 109.6 L784.5 110 L785 110.4 L785.5 110.8 L785.9 111.2 L786.4 111.6 L786.9 112 L787.4 112.4 L787.9 112.7 L788.4 113.1 L788.9 113.4 L789.4 113.8 L789.9 114.1 L790.4 114.5 L790.9 114.8 L791.4 115.1 L791.9 115.4 L792.4 115.7 L792.9 116 L793.4 116.3 L793.9 116.6 L794.4 116.8 L794.9 117.1 L795.4 117.4 L795.9 117.6 L796.4 117.9 L796.9 118.1 L797.4 118.4 L797.9 118.6 L798.4 118.8 L798.9 119 L799.4 119.3 L799.9 119.5 L800.4 119.7 L800.9 119.9 L801.3 120.1 L801.8 120.3 L802.3 120.5 L802.8 120.7 L803.3 120.9 L803.8 121.1 L804.3 121.3 L804.8 121.5 L805.3 121.6 L805.8 121.8 L806.3 122 L806.8 122.2 L807.3 122.3 L807.8 122.5 L808.3 122.7 L808.8 122.8 L809.3 123 L809.8 123.2 L810.3 123.3 L810.8 123.5 L811.3 123.6 L811.8 123.8 L812.3 123.9 L812.8 124.1 L813.3 124.2 L813.8 124.4 L814.3 124.5 L814.8 124.7 L815.3 124.8 L815.8 124.9 L816.3 125.1 L816.8 125.2 L817.2 125.4 L817.7 125.5 L818.2 125.6 L818.7 125.7 L819.2 125.9 L819.7 126 L820.2 126.1 L820.7 126.2 L821.2 126.4 L821.7 126.5 L822.2 126.6 L822.7 126.7 L823.2 126.9 L823.7 127 L824.2 127.1 L824.7 127.2 L825.2 127.3 L825.7 127.5 L826.2 127.6 L826.7 127.7 L827.2 127.8 L827.7 127.9 L828.2 128.1 L828.7 128.2 L829.2 128.3 L829.7 128.4 L830.2 128.5 L830.7 128.7 L831.2 128.8 L831.7 128.9 L832.2 129 L832.6 129.2 L833.1 129.3 L833.6 129.4 L834.1 129.6 L834.6 129.7 L835.1 129.8 L835.6 130 L836.1 130.1 L836.6 130.2 L837.1 130.4 L837.6 130.5 L838.1 130.6 L838.6 130.8 L839.1 130.9 L839.6 131 L840.1 131.2 L840.6 131.3 L841.1 131.4 L841.6 131.6 L842.1 131.7 L842.6 131.9 L843.1 132 L843.6 132.1 L844.1 132.3 L844.6 132.4 L845.1 132.5 L845.6 132.7 L846.1 132.8 L846.6 132.9 L847.1 133.1 L847.6 133.2 L848 133.3 L848.5 133.5 L849 133.6 L849.5 133.7 L850 133.9 L850.5 134 L851 134.1 L851.5 134.3 L852 134.4 L852.5 134.5 L853 134.6 L853.5 134.8 L854 134.9 L854.5 135 L855 135.1 L855.5 135.2 L856 135.3 L856.5 135.5 L857 135.6 L857.5 135.7 L858 135.8 L858.5 135.9 L859 136 L859.5 136.1 L860 136.2 L860.5 136.3 L861 136.4 L861.5 136.5 L862 136.6 L862.5 136.7 L863 136.8 L863.4 136.9 L863.9 137 L864.4 137.1 L864.9 137.2 L865.4 137.3 L865.9 137.3 L866.4 137.4 L866.9 137.5 L867.4 137.6 L867.9 137.7 L868.4 137.8 L868.9 137.9 L869.4 138 L869.9 138 L870.4 138.1 L870.9 138.2 L871.4 138.3 L871.9 138.4 L872.4 138.5 L872.9 138.5 L873.4 138.6 L873.9 138.7 L874.4 138.8 L874.9 138.9 L875.4 138.9 L875.9 139 L876.4 139.1 L876.9 139.2 L877.4 139.2 L877.9 139.3 L878.4 139.4 L878.8 139.5 L879.3 139.5 L879.8 139.6 L880.3 139.7 L880.8 139.8 L881.3 139.8 L881.8 139.9 L882.3 140 L882.8 140.1 L883.3 140.1 L883.8 140.2 L884.3 140.3 L884.8 140.3 L885.3 140.4 L885.8 140.5 L886.3 140.6 L886.8 140.6 L887.3 140.7 L887.8 140.8 L888.3 140.8 L888.8 140.9 L889.3 141 L889.8 141 L890.3 141.1 L890.8 141.2 L891.3 141.2 L891.8 141.3 L892.3 141.4 L892.8 141.4 L893.3 141.5 L893.8 141.6 L894.3 141.6 L894.7 141.7 L895.2 141.8 L895.7 141.9 L896.2 141.9 L896.7 142 L897.2 142.1 L897.7 142.1 L898.2 142.2 L898.7 142.3 L899.2 142.3 L899.7 142.4 L900.2 142.5 L900.7 142.5 L901.2 142.6 L901.7 142.7 L902.2 142.7 L902.7 142.8 L903.2 142.9 L903.7 142.9 L904.2 143 L904.7 143.1 L905.2 143.1 L905.7 143.2 L906.2 143.3 L906.7 143.3 L907.2 143.4 L907.7 143.5 L908.2 143.5 L908.7 143.6 L909.2 143.7 L909.7 143.8 L910.1 143.8 L910.6 143.9 L911.1 144 L911.6 144 L912.1 144.1 L912.6 144.2 L913.1 144.2 L913.6 144.3 L914.1 144.4 L914.6 144.5 L915.1 144.5 L915.6 144.6 L916.1 144.7 L916.6 144.7 L917.1 144.8 L917.6 144.9 L918.1 144.9 L918.6 145 L919.1 145.1 L919.6 145.1 L920.1 145.2 L920.6 145.2 L921.1 145.3 L921.6 145.4 L922.1 145.4 L922.6 145.5 L923.1 145.6 L923.6 145.6 L924.1 145.7 L924.6 145.8 L925.1 145.8 L925.5 145.9 L926 146 L926.5 146 L927 146.1 L927.5 146.2 L928 146.2 L928.5 146.3 L929 146.3 L929.5 146.4 L930 146.5 L930.5 146.5 L931 146.6 L931.5 146.7 L932 146.7 L932.5 146.8 L933 146.9 L933.5 146.9 L934 147 L934.5 147.1 L935 147.1 L935.5 147.2 L936 147.3 L936.5 147.3 L937 147.4 L937.5 147.5 L938 147.6 L938.5 147.6 L939 147.7 L939.5 147.8 L940 147.8 L940.5 147.9 L940.9 148 L941.4 148.1 L941.9 148.1 L942.4 148.2 L942.9 148.3 L943.4 148.4 L943.9 148.4 L944.4 148.5 L944.9 148.6 L945.4 148.7 L945.9 148.7 L946.4 148.8 L946.9 148.9 L947.4 149 L947.9 149.1 L948.4 149.2 L948.9 149.2 L949.4 149.3 L949.9 149.4 L950.4 149.5 L950.9 149.6 L951.4 149.7 L951.9 149.8 L952.4 149.8 L952.9 149.9 L953.4 150 L953.9 150.1 L954.4 150.2 L954.9 150.3 L955.4 150.4 L955.9 150.5 L956.3 150.6 L956.8 150.7 L957.3 150.7 L957.8 150.8 L958.3 150.9 L958.8 151 L959.3 151.1 L959.8 151.2 L960.3 151.3 L960.8 151.4 L961.3 151.5 L961.8 151.6 L962.3 151.7 L962.8 151.8 L963.3 151.8 L963.8 151.9 L964.3 152 L964.8 152.1 L965.3 152.2 L965.8 152.3 L966.3 152.4 L966.8 152.5 L967.3 152.5 L967.8 152.6 L968.3 152.7 L968.8 152.8 L969.3 152.9 L969.8 153 L970.3 153.1 L970.8 153.2 L971.3 153.2 L971.8 153.3 L972.2 153.4 L972.7 153.5 L973.2 153.6 L973.7 153.7 L974.2 153.8 L974.7 153.9 L975.2 153.9 L975.7 154 L976.2 154.1 L976.7 154.2 L977.2 154.3 L977.7 154.4 L978.2 154.5 L978.7 154.6 L979.2 154.7 L979.7 154.8 L980.2 154.9 L980.7 155 L981.2 155.1 L981.7 155.2 L982.2 155.3 L982.7 155.4 L983.2 155.5 L983.7 155.6 L984.2 155.7 L984.7 155.8 L985.2 155.9 L985.7 156 L986.2 156.2 L986.7 156.3 L987.2 156.4 L987.6 156.5 L988.1 156.6 L988.6 156.8 L989.1 156.9 L989.6 157 L990.1 157.1 L990.6 157.3 L991.1 157.4 L991.6 157.5 L992.1 157.7 L992.6 157.8 L993.1 157.9 L993.6 158 L994.1 158.2 L994.6 158.3 L995.1 158.5 L995.6 158.6 L996.1 158.7 L996.6 158.9 L997.1 159.1 L997.6 159.2 L998.1 159.4 L998.6 159.6 L999.1 159.7 L999.6 159.9 L1000.1 160.1 L1000.6 160.3 L1001.1 160.5 L1001.6 160.7 L1002.1 161 L1002.6 161.2 L1003 161.4 L1003.5 161.7 L1004 162 L1004.5 162.2 L1005 162.5 L1005.5 162.8 L1006 163.2 L1006.5 163.6 L1007 164 L1007.5 164.6 L1008 165.2 L1008.5 166.1 L1009 167.4 L1009.5 169.4 L1010 171.8 L1010.5 173.9 L1010.5 191 L1010 181.6 L1009.5 177.1 L1009 174.5 L1008.5 173.2 L1008 172.3 L1007.5 171.6 L1007 171.2 L1006.5 170.8 L1006 170.6 L1005.5 170.5 L1005 170.4 L1004.5 170.1 L1004 169.8 L1003.5 169.6 L1003 169.3 L1002.6 169 L1002.1 168.8 L1001.6 168.6 L1001.1 168.4 L1000.6 168.2 L1000.1 168 L999.6 167.8 L999.1 167.7 L998.6 167.5 L998.1 167.3 L997.6 167.2 L997.1 167.1 L996.6 166.9 L996.1 166.8 L995.6 166.7 L995.1 166.6 L994.6 166.4 L994.1 166.3 L993.6 166.2 L993.1 166.1 L992.6 166 L992.1 165.9 L991.6 165.8 L991.1 165.7 L990.6 165.5 L990.1 165.4 L989.6 165.3 L989.1 165.1 L988.6 165 L988.1 164.8 L987.6 164.7 L987.2 164.6 L986.7 164.4 L986.2 164.3 L985.7 164.2 L985.2 164 L984.7 163.9 L984.2 163.8 L983.7 163.6 L983.2 163.5 L982.7 163.4 L982.2 163.2 L981.7 163.1 L981.2 163 L980.7 162.9 L980.2 162.8 L979.7 162.6 L979.2 162.5 L978.7 162.4 L978.2 162.3 L977.7 162.2 L977.2 162.1 L976.7 162 L976.2 161.8 L975.7 161.7 L975.2 161.6 L974.7 161.5 L974.2 161.4 L973.7 161.3 L973.2 161.2 L972.7 161.1 L972.2 161 L971.8 160.9 L971.3 160.8 L970.8 160.6 L970.3 160.5 L969.8 160.4 L969.3 160.3 L968.8 160.2 L968.3 160.1 L967.8 160 L967.3 159.9 L966.8 159.8 L966.3 159.7 L965.8 159.6 L965.3 159.5 L964.8 159.4 L964.3 159.3 L963.8 159.1 L963.3 159 L962.8 158.9 L962.3 158.8 L961.8 158.7 L961.3 158.6 L960.8 158.5 L960.3 158.4 L959.8 158.3 L959.3 158.2 L958.8 158.1 L958.3 158 L957.8 157.8 L957.3 157.7 L956.8 157.6 L956.3 157.5 L955.9 157.4 L955.4 157.3 L954.9 157.2 L954.4 157.1 L953.9 157 L953.4 156.9 L952.9 156.8 L952.4 156.7 L951.9 156.6 L951.4 156.5 L950.9 156.4 L950.4 156.3 L949.9 156.2 L949.4 156.1 L948.9 156 L948.4 155.9 L947.9 155.8 L947.4 155.7 L946.9 155.6 L946.4 155.5 L945.9 155.4 L945.4 155.3 L944.9 155.2 L944.4 155.1 L943.9 155 L943.4 155 L942.9 154.9 L942.4 154.8 L941.9 154.7 L941.4 154.6 L940.9 154.5 L940.5 154.4 L940 154.3 L939.5 154.3 L939 154.2 L938.5 154.1 L938 154 L937.5 153.9 L937 153.8 L936.5 153.8 L936 153.7 L935.5 153.6 L935 153.5 L934.5 153.4 L934 153.4 L933.5 153.3 L933 153.2 L932.5 153.1 L932 153 L931.5 153 L931 152.9 L930.5 152.8 L930 152.7 L929.5 152.7 L929 152.6 L928.5 152.5 L928 152.4 L927.5 152.3 L927 152.3 L926.5 152.2 L926 152.1 L925.5 152 L925.1 151.9 L924.6 151.9 L924.1 151.8 L923.6 151.7 L923.1 151.6 L922.6 151.6 L922.1 151.5 L921.6 151.4 L921.1 151.3 L920.6 151.2 L920.1 151.2 L919.6 151.1 L919.1 151 L918.6 150.9 L918.1 150.8 L917.6 150.8 L917.1 150.7 L916.6 150.6 L916.1 150.5 L915.6 150.4 L915.1 150.3 L914.6 150.3 L914.1 150.2 L913.6 150.1 L913.1 150 L912.6 149.9 L912.1 149.8 L911.6 149.7 L911.1 149.7 L910.6 149.6 L910.1 149.5 L909.7 149.4 L909.2 149.3 L908.7 149.2 L908.2 149.1 L907.7 149 L907.2 148.9 L906.7 148.9 L906.2 148.8 L905.7 148.7 L905.2 148.6 L904.7 148.5 L904.2 148.4 L903.7 148.3 L903.2 148.2 L902.7 148.1 L902.2 148 L901.7 148 L901.2 147.9 L900.7 147.8 L900.2 147.7 L899.7 147.6 L899.2 147.5 L898.7 147.4 L898.2 147.3 L897.7 147.2 L897.2 147.1 L896.7 147 L896.2 147 L895.7 146.9 L895.2 146.8 L894.7 146.7 L894.3 146.6 L893.8 146.5 L893.3 146.4 L892.8 146.3 L892.3 146.2 L891.8 146.1 L891.3 146 L890.8 145.9 L890.3 145.8 L889.8 145.7 L889.3 145.7 L888.8 145.6 L888.3 145.5 L887.8 145.4 L887.3 145.3 L886.8 145.2 L886.3 145.1 L885.8 145 L885.3 144.9 L884.8 144.8 L884.3 144.7 L883.8 144.6 L883.3 144.5 L882.8 144.4 L882.3 144.3 L881.8 144.2 L881.3 144.1 L880.8 144 L880.3 143.9 L879.8 143.8 L879.3 143.7 L878.8 143.6 L878.4 143.5 L877.9 143.4 L877.4 143.3 L876.9 143.2 L876.4 143.1 L875.9 143 L875.4 142.9 L874.9 142.8 L874.4 142.7 L873.9 142.6 L873.4 142.5 L872.9 142.4 L872.4 142.3 L871.9 142.2 L871.4 142.1 L870.9 142 L870.4 141.8 L869.9 141.7 L869.4 141.6 L868.9 141.5 L868.4 141.4 L867.9 141.3 L867.4 141.2 L866.9 141.1 L866.4 141 L865.9 140.9 L865.4 140.7 L864.9 140.6 L864.4 140.5 L863.9 140.4 L863.4 140.3 L863 140.2 L862.5 140.1 L862 139.9 L861.5 139.8 L861 139.7 L860.5 139.6 L860 139.4 L859.5 139.3 L859 139.1 L858.5 139 L858 138.9 L857.5 138.7 L857 138.6 L856.5 138.4 L856 138.3 L855.5 138.1 L855 138 L854.5 137.8 L854 137.7 L853.5 137.5 L853 137.3 L852.5 137.2 L852 137 L851.5 136.9 L851 136.7 L850.5 136.6 L850 136.4 L849.5 136.2 L849 136.1 L848.5 135.9 L848 135.7 L847.6 135.6 L847.1 135.4 L846.6 135.2 L846.1 135.1 L845.6 134.9 L845.1 134.8 L844.6 134.6 L844.1 134.4 L843.6 134.3 L843.1 134.1 L842.6 133.9 L842.1 133.8 L841.6 133.6 L841.1 133.4 L840.6 133.3 L840.1 133.1 L839.6 132.9 L839.1 132.8 L838.6 132.6 L838.1 132.4 L837.6 132.3 L837.1 132.1 L836.6 131.9 L836.1 131.8 L835.6 131.6 L835.1 131.4 L834.6 131.3 L834.1 131.1 L833.6 130.9 L833.1 130.8 L832.6 130.6 L832.2 130.5 L831.7 130.3 L831.2 130.1 L830.7 130 L830.2 129.8 L829.7 129.7 L829.2 129.5 L828.7 129.4 L828.2 129.3 L827.7 129.1 L827.2 129 L826.7 128.9 L826.2 128.7 L825.7 128.6 L825.2 128.5 L824.7 128.3 L824.2 128.2 L823.7 128.1 L823.2 127.9 L822.7 127.8 L822.2 127.7 L821.7 127.5 L821.2 127.4 L820.7 127.3 L820.2 127.1 L819.7 127 L819.2 126.8 L818.7 126.7 L818.2 126.6 L817.7 126.4 L817.2 126.3 L816.8 126.1 L816.3 126 L815.8 125.8 L815.3 125.7 L814.8 125.5 L814.3 125.4 L813.8 125.2 L813.3 125 L812.8 124.9 L812.3 124.7 L811.8 124.6 L811.3 124.4 L810.8 124.2 L810.3 124 L809.8 123.9 L809.3 123.7 L808.8 123.5 L808.3 123.3 L807.8 123.2 L807.3 123 L806.8 122.8 L806.3 122.6 L805.8 122.4 L805.3 122.2 L804.8 122 L804.3 121.9 L803.8 121.7 L803.3 121.5 L802.8 121.2 L802.3 121 L801.8 120.8 L801.3 120.6 L800.9 120.4 L800.4 120.2 L799.9 120 L799.4 119.7 L798.9 119.5 L798.4 119.3 L797.9 119 L797.4 118.8 L796.9 118.5 L796.4 118.3 L795.9 118 L795.4 117.7 L794.9 117.5 L794.4 117.2 L793.9 116.9 L793.4 116.6 L792.9 116.3 L792.4 116 L791.9 115.7 L791.4 115.4 L790.9 115.1 L790.4 114.7 L789.9 114.4 L789.4 114.1 L788.9 113.7 L788.4 113.4 L787.9 113 L787.4 112.6 L786.9 112.2 L786.4 111.9 L785.9 111.5 L785.5 111.1 L785 110.6 L784.5 110.2 L784 109.8 L783.5 109.3 L783 108.8 L782.5 108.4 L782 107.9 L781.5 107.4 L781 106.9 L780.5 106.4 L780 105.8 L779.5 105.3 L779 104.7 L778.5 104.1 L778 103.5 L777.5 102.9 L777 102.3 L776.5 101.7 L776 101 L775.5 100.4 L775 99.7 L774.5 99 L774 98.2 L773.5 97.4 L773 96.6 L772.5 95.7 L772 94.9 L771.5 93.9 L771 92.9 L770.5 91.9 L770.1 90.9 L769.6 89.7 L769.1 88.5 L768.6 87.2 L768.1 85.8 L767.6 84.3 L767.1 82.7 L766.6 81 L766.1 79.2 L765.6 77.3 L765.1 75.5 L764.6 73.5 L764.1 70.7 L763.6 66.8 L763.1 57.3 L762.6 20.3 Z" fill="#6a8fa0" fill-opacity="0.9" stroke="none"/>
<path d="M762.6 20 L763.4 61.2 L764.3 67.8 L765.1 71.8 L765.9 74.1 L766.7 75.8 L767.6 77.2 L768.4 78.3 L769.2 79.2 L770.1 80.1 L770.9 80.9 L771.7 81.6 L772.5 82.3 L773.4 82.9 L774.2 83.5 L775 84 L775.9 84.4 L776.7 84.8 L777.5 85.2 L778.3 85.6 L779.2 85.9 L780 86.2 L780.8 86.5 L781.7 86.8 L782.5 87 L783.3 87.3 L784.1 87.5 L785 87.7 L785.8 87.9 L786.6 88.1 L787.5 88.3 L788.3 88.4 L789.1 88.6 L789.9 88.7 L790.8 88.8 L791.6 89 L792.4 89.1 L793.3 89.2 L794.1 89.3 L794.9 89.4 L795.8 89.5 L796.6 89.6 L797.4 89.7 L798.2 89.8 L799.1 89.9 L799.9 90 L800.7 90.1 L801.6 90.2 L802.4 90.3 L803.2 90.4 L804 90.5 L804.9 90.6 L805.7 90.6 L806.5 90.7 L807.4 90.8 L808.2 90.9 L809 91 L809.8 91.1 L810.7 91.2 L811.5 91.3 L812.3 91.4 L813.2 91.5 L814 91.6 L814.8 91.7 L815.6 91.8 L816.5 91.9 L817.3 92 L818.1 92.1 L819 92.2 L819.8 92.3 L820.6 92.4 L821.4 92.5 L822.3 92.6 L823.1 92.7 L823.9 92.8 L824.8 92.9 L825.6 93 L826.4 93 L827.2 93.1 L828.1 93.2 L828.9 93.3 L829.7 93.4 L830.6 93.5 L831.4 93.6 L832.2 93.7 L833 93.8 L833.9 93.9 L834.7 94 L835.5 94.1 L836.4 94.1 L837.2 94.2 L838 94.3 L838.8 94.4 L839.7 94.5 L840.5 94.6 L841.3 94.7 L842.2 94.7 L843 94.8 L843.8 94.9 L844.6 95 L845.5 95.1 L846.3 95.2 L847.1 95.2 L848 95.3 L848.8 95.4 L849.6 95.5 L850.4 95.6 L851.3 95.7 L852.1 95.7 L852.9 95.8 L853.8 95.9 L854.6 96 L855.4 96 L856.3 96.1 L857.1 96.2 L857.9 96.3 L858.7 96.4 L859.6 96.4 L860.4 96.5 L861.2 96.6 L862.1 96.7 L862.9 96.7 L863.7 96.8 L864.5 96.9 L865.4 97 L866.2 97 L867 97.1 L867.9 97.2 L868.7 97.2 L869.5 97.3 L870.3 97.4 L871.2 97.4 L872 97.5 L872.8 97.6 L873.7 97.7 L874.5 97.7 L875.3 97.8 L876.1 97.9 L877 97.9 L877.8 98 L878.6 98.1 L879.5 98.1 L880.3 98.2 L881.1 98.3 L881.9 98.3 L882.8 98.4 L883.6 98.5 L884.4 98.5 L885.3 98.6 L886.1 98.7 L886.9 98.7 L887.7 98.8 L888.6 98.9 L889.4 98.9 L890.2 99 L891.1 99.1 L891.9 99.1 L892.7 99.2 L893.5 99.2 L894.4 99.3 L895.2 99.4 L896 99.4 L896.9 99.5 L897.7 99.6 L898.5 99.6 L899.3 99.7 L900.2 99.8 L901 99.8 L901.8 99.9 L902.7 100 L903.5 100 L904.3 100.1 L905.1 100.2 L906 100.2 L906.8 100.3 L907.6 100.4 L908.5 100.5 L909.3 100.5 L910.1 100.6 L910.9 100.7 L911.8 100.7 L912.6 100.8 L913.4 100.9 L914.3 100.9 L915.1 101 L915.9 101.1 L916.7 101.1 L917.6 101.2 L918.4 101.3 L919.2 101.3 L920.1 101.4 L920.9 101.5 L921.7 101.6 L922.6 101.6 L923.4 101.7 L924.2 101.8 L925 101.8 L925.9 101.9 L926.7 102 L927.5 102 L928.4 102.1 L929.2 102.2 L930 102.2 L930.8 102.3 L931.7 102.4 L932.5 102.4 L933.3 102.5 L934.2 102.6 L935 102.6 L935.8 102.7 L936.6 102.8 L937.5 102.9 L938.3 102.9 L939.1 103 L940 103.1 L940.8 103.2 L941.6 103.2 L942.4 103.3 L943.3 103.4 L944.1 103.5 L944.9 103.6 L945.8 103.7 L946.6 103.7 L947.4 103.8 L948.2 103.9 L949.1 104 L949.9 104.1 L950.7 104.2 L951.6 104.3 L952.4 104.4 L953.2 104.5 L954 104.6 L954.9 104.7 L955.7 104.8 L956.5 104.9 L957.4 105 L958.2 105.2 L959 105.3 L959.8 105.4 L960.7 105.5 L961.5 105.6 L962.3 105.7 L963.2 105.8 L964 105.9 L964.8 106 L965.6 106.1 L966.5 106.2 L967.3 106.3 L968.1 106.4 L969 106.5 L969.8 106.5 L970.6 106.6 L971.4 106.7 L972.3 106.8 L973.1 106.9 L973.9 107 L974.8 107.1 L975.6 107.2 L976.4 107.2 L977.2 107.3 L978.1 107.4 L978.9 107.5 L979.7 107.6 L980.6 107.7 L981.4 107.8 L982.2 107.9 L983.1 108 L983.9 108.1 L984.7 108.2 L985.5 108.3 L986.4 108.4 L987.2 108.5 L988 108.6 L988.9 108.7 L989.7 108.9 L990.5 109 L991.3 109.1 L992.2 109.2 L993 109.4 L993.8 109.5 L994.7 109.7 L995.5 109.8 L996.3 110 L997.1 110.2 L998 110.3 L998.8 110.5 L999.6 110.7 L1000.5 110.9 L1001.3 111.1 L1002.1 111.4 L1002.9 111.6 L1003.8 111.9 L1004.6 112.2 L1005.4 112.5 L1006.3 112.8 L1007.1 113.2 L1007.9 113.6 L1008.7 114.1 L1009.6 114.6 L1010.4 115.1" fill="none" stroke="#d62728" stroke-width="1.2"/>
<path d="M762.6 20 L763.2 59.6 L763.8 66.9 L764.5 70.8 L765.1 73.8 L765.7 76.2 L766.3 78 L767 79.6 L767.6 81.2 L768.2 83.1 L768.8 84.9 L769.4 86.5 L770.1 88.1 L770.7 89.6 L771.3 91 L771.9 92.3 L772.5 93.6 L773.2 94.9 L773.8 96.2 L774.4 97.4 L775 98.6 L775.7 99.8 L776.3 101 L776.9 102.1 L777.5 103.1 L778.1 104.2 L778.8 105.2 L779.4 106.1 L780 107 L780.6 107.8 L781.2 108.6 L781.9 109.3 L782.5 110 L783.1 110.7 L783.7 111.4 L784.4 112 L785 112.6 L785.6 113.2 L786.2 113.8 L786.8 114.3 L787.5 114.9 L788.1 115.4 L788.7 116 L789.3 116.5 L789.9 117.1 L790.6 117.6 L791.2 118.2 L791.8 118.7 L792.4 119.3 L793.1 119.8 L793.7 120.3 L794.3 120.9 L794.9 121.4 L795.5 121.9 L796.2 122.4 L796.8 122.9 L797.4 123.4 L798 123.9 L798.7 124.4 L799.3 124.9 L799.9 125.3 L800.5 125.8 L801.1 126.2 L801.8 126.7 L802.4 127.1 L803 127.5 L803.6 127.9 L804.2 128.3 L804.9 128.6 L805.5 129 L806.1 129.4 L806.7 129.7 L807.4 130.1 L808 130.4 L808.6 130.8 L809.2 131.1 L809.8 131.5 L810.5 131.8 L811.1 132.1 L811.7 132.5 L812.3 132.8 L812.9 133.1 L813.6 133.4 L814.2 133.7 L814.8 134.1 L815.4 134.4 L816.1 134.7 L816.7 135 L817.3 135.2 L817.9 135.5 L818.5 135.8 L819.2 136.1 L819.8 136.4 L820.4 136.7 L821 136.9 L821.6 137.2 L822.3 137.5 L822.9 137.7 L823.5 138 L824.1 138.2 L824.8 138.5 L825.4 138.7 L826 138.9 L826.6 139.2 L827.2 139.4 L827.9 139.6 L828.5 139.9 L829.1 140.1 L829.7 140.3 L830.3 140.5 L831 140.7 L831.6 140.9 L832.2 141.1 L832.8 141.3 L833.5 141.5 L834.1 141.7 L834.7 141.9 L835.3 142.1 L835.9 142.3 L836.6 142.5 L837.2 142.7 L837.8 142.9 L838.4 143.1 L839.1 143.2 L839.7 143.4 L840.3 143.6 L840.9 143.8 L841.5 143.9 L842.2 144.1 L842.8 144.3 L843.4 144.5 L844 144.6 L844.6 144.8 L845.3 144.9 L845.9 145.1 L846.5 145.3 L847.1 145.4 L847.8 145.6 L848.4 145.7 L849 145.9 L849.6 146 L850.2 146.2 L850.9 146.3 L851.5 146.5 L852.1 146.6 L852.7 146.8 L853.3 146.9 L854 147.1 L854.6 147.2 L855.2 147.4 L855.8 147.5 L856.5 147.7 L857.1 147.8 L857.7 148 L858.3 148.1 L858.9 148.2 L859.6 148.4 L860.2 148.5 L860.8 148.7 L861.4 148.8 L862 148.9 L862.7 149.1 L863.3 149.2 L863.9 149.4 L864.5 149.5 L865.2 149.6 L865.8 149.8 L866.4 149.9 L867 150.1 L867.6 150.2 L868.3 150.3 L868.9 150.5 L869.5 150.6 L870.1 150.7 L870.8 150.9 L871.4 151 L872 151.1 L872.6 151.3 L873.2 151.4 L873.9 151.5 L874.5 151.7 L875.1 151.8 L875.7 151.9 L876.3 152 L877 152.2 L877.6 152.3 L878.2 152.4 L878.8 152.5 L879.5 152.7 L880.1 152.8 L880.7 152.9 L881.3 153 L881.9 153.2 L882.6 153.3 L883.2 153.4 L883.8 153.5 L884.4 153.7 L885 153.8 L885.7 153.9 L886.3 154 L886.9 154.1 L887.5 154.3 L888.2 154.4 L888.8 154.5 L889.4 154.6 L890 154.7 L890.6 154.8 L891.3 155 L891.9 155.1 L892.5 155.2 L893.1 155.3 L893.7 155.4 L894.4 155.5 L895 155.7 L895.6 155.8 L896.2 155.9 L896.9 156 L897.5 156.1 L898.1 156.2 L898.7 156.3 L899.3 156.4 L900 156.5 L900.6 156.7 L901.2 156.8 L901.8 156.9 L902.4 157 L903.1 157.1 L903.7 157.2 L904.3 157.3 L904.9 157.4 L905.6 157.5 L906.2 157.6 L906.8 157.7 L907.4 157.8 L908 157.9 L908.7 158 L909.3 158.1 L909.9 158.3 L910.5 158.4 L911.2 158.5 L911.8 158.6 L912.4 158.7 L913 158.8 L913.6 158.9 L914.3 159 L914.9 159.1 L915.5 159.1 L916.1 159.2 L916.7 159.3 L917.4 159.4 L918 159.5 L918.6 159.6 L919.2 159.7 L919.9 159.8 L920.5 159.9 L921.1 160 L921.7 160 L922.3 160.1 L923 160.2 L923.6 160.3 L924.2 160.4 L924.8 160.5 L925.4 160.6 L926.1 160.6 L926.7 160.7 L927.3 160.8 L927.9 160.9 L928.6 161 L929.2 161.1 L929.8 161.2 L930.4 161.2 L931 161.3 L931.7 161.4 L932.3 161.5 L932.9 161.6 L933.5 161.7 L934.1 161.8 L934.8 161.9 L935.4 162 L936 162.1 L936.6 162.2 L937.3 162.3 L937.9 162.4 L938.5 162.5 L939.1 162.6 L939.7 162.7 L940.4 162.8 L941 162.9 L941.6 163 L942.2 163.1 L942.9 163.2 L943.5 163.3 L944.1 163.4 L944.7 163.5 L945.3 163.6 L946 163.8 L946.6 163.9 L947.2 164 L947.8 164.1 L948.4 164.2 L949.1 164.4 L949.7 164.5 L950.3 164.6 L950.9 164.7 L951.6 164.8 L952.2 165 L952.8 165.1 L953.4 165.2 L954 165.3 L954.7 165.5 L955.3 165.6 L955.9 165.7 L956.5 165.9 L957.1 166 L957.8 166.1 L958.4 166.3 L959 166.4 L959.6 166.5 L960.3 166.7 L960.9 166.8 L961.5 166.9 L962.1 167.1 L962.7 167.2 L963.4 167.3 L964 167.4 L964.6 167.6 L965.2 167.7 L965.8 167.8 L966.5 167.9 L967.1 168.1 L967.7 168.2 L968.3 168.3 L969 168.4 L969.6 168.6 L970.2 168.7 L970.8 168.8 L971.4 169 L972.1 169.1 L972.7 169.2 L973.3 169.4 L973.9 169.5 L974.5 169.7 L975.2 169.8 L975.8 170 L976.4 170.1 L977 170.3 L977.7 170.4 L978.3 170.6 L978.9 170.8 L979.5 170.9 L980.1 171.1 L980.8 171.3 L981.4 171.5 L982 171.7 L982.6 171.9 L983.3 172.1 L983.9 172.4 L984.5 172.6 L985.1 172.8 L985.7 173.1 L986.4 173.4 L987 173.6 L987.6 173.9 L988.2 174.3 L988.8 174.6 L989.5 174.9 L990.1 175.3 L990.7 175.7 L991.3 176.1 L992 176.5 L992.6 176.9 L993.2 177.4 L993.8 177.8 L994.4 178.3 L995.1 178.8 L995.7 179.3 L996.3 179.9 L996.9 180.4 L997.5 181 L998.2 181.7 L998.8 182.4 L999.4 183.2 L1000 184 L1000.7 184.9 L1001.3 185.9 L1001.9 186.9 L1002.5 188 L1003.1 189.1 L1003.8 190.4 L1004.4 191.6 L1005 193 L1005.6 194.5 L1006.2 196.2 L1006.9 198.1 L1007.5 200.3 L1008.1 202.9 L1008.7 205.9 L1009.4 209.2 L1010 214.3 L1010.6 227.3" fill="none" stroke="#c8bc20" stroke-width="1.3"/>
<path d="M762.6 20 L763.1 57 L763.6 66.4 L764.1 70.4 L764.6 73.1 L765.1 75.1 L765.6 76.9 L766.1 78.8 L766.6 80.7 L767.1 82.3 L767.6 83.9 L768.1 85.4 L768.6 86.8 L769.1 88.1 L769.6 89.3 L770.1 90.4 L770.5 91.5 L771 92.5 L771.5 93.4 L772 94.4 L772.5 95.3 L773 96.1 L773.5 96.9 L774 97.7 L774.5 98.4 L775 99.2 L775.5 99.8 L776 100.5 L776.5 101.1 L777 101.8 L777.5 102.4 L778 103 L778.5 103.5 L779 104.1 L779.5 104.7 L780 105.2 L780.5 105.7 L781 106.2 L781.5 106.7 L782 107.2 L782.5 107.7 L783 108.2 L783.5 108.6 L784 109.1 L784.5 109.5 L785 109.9 L785.5 110.3 L785.9 110.7 L786.4 111.1 L786.9 111.5 L787.4 111.9 L787.9 112.2 L788.4 112.6 L788.9 112.9 L789.4 113.3 L789.9 113.6 L790.4 113.9 L790.9 114.3 L791.4 114.6 L791.9 114.9 L792.4 115.2 L792.9 115.5 L793.4 115.8 L793.9 116 L794.4 116.3 L794.9 116.6 L795.4 116.9 L795.9 117.1 L796.4 117.4 L796.9 117.6 L797.4 117.9 L797.9 118.1 L798.4 118.3 L798.9 118.5 L799.4 118.8 L799.9 119 L800.4 119.2 L800.9 119.4 L801.3 119.6 L801.8 119.8 L802.3 120 L802.8 120.2 L803.3 120.4 L803.8 120.6 L804.3 120.8 L804.8 121 L805.3 121.2 L805.8 121.4 L806.3 121.5 L806.8 121.7 L807.3 121.9 L807.8 122.1 L808.3 122.2 L808.8 122.4 L809.3 122.6 L809.8 122.7 L810.3 122.9 L810.8 123.1 L811.3 123.2 L811.8 123.4 L812.3 123.5 L812.8 123.7 L813.3 123.8 L813.8 124 L814.3 124.1 L814.8 124.3 L815.3 124.4 L815.8 124.6 L816.3 124.7 L816.8 124.9 L817.2 125 L817.7 125.1 L818.2 125.3 L818.7 125.4 L819.2 125.5 L819.7 125.7 L820.2 125.8 L820.7 125.9 L821.2 126.1 L821.7 126.2 L822.2 126.3 L822.7 126.4 L823.2 126.6 L823.7 126.7 L824.2 126.8 L824.7 126.9 L825.2 127.1 L825.7 127.2 L826.2 127.3 L826.7 127.4 L827.2 127.6 L827.7 127.7 L828.2 127.8 L828.7 127.9 L829.2 128.1 L829.7 128.2 L830.2 128.3 L830.7 128.4 L831.2 128.6 L831.7 128.7 L832.2 128.8 L832.6 129 L833.1 129.1 L833.6 129.2 L834.1 129.4 L834.6 129.5 L835.1 129.6 L835.6 129.8 L836.1 129.9 L836.6 130.1 L837.1 130.2 L837.6 130.3 L838.1 130.5 L838.6 130.6 L839.1 130.8 L839.6 130.9 L840.1 131 L840.6 131.2 L841.1 131.3 L841.6 131.4 L842.1 131.6 L842.6 131.7 L843.1 131.9 L843.6 132 L844.1 132.1 L844.6 132.3 L845.1 132.4 L845.6 132.6 L846.1 132.7 L846.6 132.8 L847.1 133 L847.6 133.1 L848 133.3 L848.5 133.4 L849 133.5 L849.5 133.7 L850 133.8 L850.5 133.9 L851 134.1 L851.5 134.2 L852 134.3 L852.5 134.5 L853 134.6 L853.5 134.7 L854 134.8 L854.5 135 L855 135.1 L855.5 135.2 L856 135.3 L856.5 135.5 L857 135.6 L857.5 135.7 L858 135.8 L858.5 135.9 L859 136.1 L859.5 136.2 L860 136.3 L860.5 136.4 L861 136.5 L861.5 136.6 L862 136.7 L862.5 136.8 L863 136.9 L863.4 137 L863.9 137.1 L864.4 137.2 L864.9 137.4 L865.4 137.5 L865.9 137.6 L866.4 137.7 L866.9 137.8 L867.4 137.9 L867.9 138 L868.4 138.1 L868.9 138.2 L869.4 138.3 L869.9 138.4 L870.4 138.5 L870.9 138.6 L871.4 138.7 L871.9 138.8 L872.4 138.8 L872.9 138.9 L873.4 139 L873.9 139.1 L874.4 139.2 L874.9 139.3 L875.4 139.4 L875.9 139.5 L876.4 139.6 L876.9 139.7 L877.4 139.8 L877.9 139.9 L878.4 140 L878.8 140.1 L879.3 140.1 L879.8 140.2 L880.3 140.3 L880.8 140.4 L881.3 140.5 L881.8 140.6 L882.3 140.7 L882.8 140.8 L883.3 140.9 L883.8 140.9 L884.3 141 L884.8 141.1 L885.3 141.2 L885.8 141.3 L886.3 141.4 L886.8 141.5 L887.3 141.6 L887.8 141.6 L888.3 141.7 L888.8 141.8 L889.3 141.9 L889.8 142 L890.3 142.1 L890.8 142.1 L891.3 142.2 L891.8 142.3 L892.3 142.4 L892.8 142.5 L893.3 142.6 L893.8 142.6 L894.3 142.7 L894.7 142.8 L895.2 142.9 L895.7 143 L896.2 143 L896.7 143.1 L897.2 143.2 L897.7 143.3 L898.2 143.4 L898.7 143.5 L899.2 143.5 L899.7 143.6 L900.2 143.7 L900.7 143.8 L901.2 143.9 L901.7 143.9 L902.2 144 L902.7 144.1 L903.2 144.2 L903.7 144.3 L904.2 144.3 L904.7 144.4 L905.2 144.5 L905.7 144.6 L906.2 144.7 L906.7 144.7 L907.2 144.8 L907.7 144.9 L908.2 145 L908.7 145.1 L909.2 145.1 L909.7 145.2 L910.1 145.3 L910.6 145.4 L911.1 145.5 L911.6 145.5 L912.1 145.6 L912.6 145.7 L913.1 145.8 L913.6 145.9 L914.1 145.9 L914.6 146 L915.1 146.1 L915.6 146.2 L916.1 146.2 L916.6 146.3 L917.1 146.4 L917.6 146.5 L918.1 146.5 L918.6 146.6 L919.1 146.7 L919.6 146.7 L920.1 146.8 L920.6 146.9 L921.1 147 L921.6 147 L922.1 147.1 L922.6 147.2 L923.1 147.2 L923.6 147.3 L924.1 147.4 L924.6 147.5 L925.1 147.5 L925.5 147.6 L926 147.7 L926.5 147.7 L927 147.8 L927.5 147.9 L928 147.9 L928.5 148 L929 148.1 L929.5 148.2 L930 148.2 L930.5 148.3 L931 148.4 L931.5 148.4 L932 148.5 L932.5 148.6 L933 148.6 L933.5 148.7 L934 148.8 L934.5 148.9 L935 148.9 L935.5 149 L936 149.1 L936.5 149.2 L937 149.2 L937.5 149.3 L938 149.4 L938.5 149.5 L939 149.5 L939.5 149.6 L940 149.7 L940.5 149.8 L940.9 149.8 L941.4 149.9 L941.9 150 L942.4 150.1 L942.9 150.2 L943.4 150.2 L943.9 150.3 L944.4 150.4 L944.9 150.5 L945.4 150.6 L945.9 150.7 L946.4 150.7 L946.9 150.8 L947.4 150.9 L947.9 151 L948.4 151.1 L948.9 151.2 L949.4 151.3 L949.9 151.4 L950.4 151.5 L950.9 151.6 L951.4 151.6 L951.9 151.7 L952.4 151.8 L952.9 151.9 L953.4 152 L953.9 152.1 L954.4 152.2 L954.9 152.3 L955.4 152.4 L955.9 152.5 L956.3 152.6 L956.8 152.7 L957.3 152.8 L957.8 152.9 L958.3 153 L958.8 153.1 L959.3 153.2 L959.8 153.3 L960.3 153.4 L960.8 153.5 L961.3 153.6 L961.8 153.7 L962.3 153.8 L962.8 153.9 L963.3 154 L963.8 154.1 L964.3 154.2 L964.8 154.3 L965.3 154.4 L965.8 154.4 L966.3 154.5 L966.8 154.6 L967.3 154.7 L967.8 154.8 L968.3 154.9 L968.8 155 L969.3 155.1 L969.8 155.2 L970.3 155.3 L970.8 155.4 L971.3 155.5 L971.8 155.6 L972.2 155.7 L972.7 155.7 L973.2 155.8 L973.7 155.9 L974.2 156 L974.7 156.1 L975.2 156.2 L975.7 156.3 L976.2 156.4 L976.7 156.5 L977.2 156.6 L977.7 156.7 L978.2 156.8 L978.7 156.9 L979.2 157 L979.7 157.1 L980.2 157.2 L980.7 157.3 L981.2 157.4 L981.7 157.6 L982.2 157.7 L982.7 157.8 L983.2 157.9 L983.7 158 L984.2 158.1 L984.7 158.2 L985.2 158.4 L985.7 158.5 L986.2 158.6 L986.7 158.7 L987.2 158.8 L987.6 159 L988.1 159.1 L988.6 159.2 L989.1 159.4 L989.6 159.5 L990.1 159.6 L990.6 159.8 L991.1 159.9 L991.6 160 L992.1 160.2 L992.6 160.3 L993.1 160.4 L993.6 160.6 L994.1 160.7 L994.6 160.8 L995.1 161 L995.6 161.1 L996.1 161.2 L996.6 161.4 L997.1 161.5 L997.6 161.7 L998.1 161.9 L998.6 162 L999.1 162.2 L999.6 162.4 L1000.1 162.6 L1000.6 162.8 L1001.1 163 L1001.6 163.3 L1002.1 163.5 L1002.6 163.8 L1003 164 L1003.5 164.3 L1004 164.6 L1004.5 164.9 L1005 165.2 L1005.5 165.6 L1006 166 L1006.5 166.5 L1007 167.2 L1007.5 167.9 L1008 168.9 L1008.5 170 L1009 171.7 L1009.5 174.6 L1010 179.4 L1010.5 189" fill="none" stroke="#1a7a2a" stroke-width="1.3"/>
<path d="M762.6 20 L763.1 57.2 L763.6 66.9 L764.1 70.9 L764.6 73.7 L765.1 75.7 L765.6 77.4 L766.1 79.3 L766.6 81.1 L767.1 82.8 L767.6 84.4 L768.1 85.9 L768.6 87.3 L769.1 88.6 L769.6 89.8 L770 90.9 L770.5 92 L771 93 L771.5 93.9 L772 94.9 L772.5 95.8 L773 96.6 L773.5 97.4 L774 98.2 L774.5 98.9 L775 99.6 L775.5 100.3 L776 101 L776.5 101.6 L777 102.3 L777.5 102.9 L778 103.5 L778.5 104 L779 104.6 L779.5 105.2 L780 105.7 L780.5 106.2 L781 106.7 L781.5 107.2 L782 107.7 L782.5 108.2 L783 108.7 L783.5 109.1 L784 109.6 L784.5 110 L784.9 110.4 L785.4 110.8 L785.9 111.2 L786.4 111.6 L786.9 112 L787.4 112.4 L787.9 112.7 L788.4 113.1 L788.9 113.4 L789.4 113.8 L789.9 114.1 L790.4 114.4 L790.9 114.8 L791.4 115.1 L791.9 115.4 L792.4 115.7 L792.9 116 L793.4 116.3 L793.9 116.5 L794.4 116.8 L794.9 117.1 L795.4 117.4 L795.9 117.6 L796.4 117.9 L796.9 118.1 L797.4 118.3 L797.9 118.6 L798.4 118.8 L798.9 119 L799.3 119.3 L799.8 119.5 L800.3 119.7 L800.8 119.9 L801.3 120.1 L801.8 120.3 L802.3 120.5 L802.8 120.7 L803.3 120.9 L803.8 121.1 L804.3 121.3 L804.8 121.4 L805.3 121.6 L805.8 121.8 L806.3 122 L806.8 122.2 L807.3 122.3 L807.8 122.5 L808.3 122.7 L808.8 122.8 L809.3 123 L809.8 123.1 L810.3 123.3 L810.8 123.5 L811.3 123.6 L811.8 123.8 L812.3 123.9 L812.8 124.1 L813.3 124.2 L813.7 124.4 L814.2 124.5 L814.7 124.7 L815.2 124.8 L815.7 124.9 L816.2 125.1 L816.7 125.2 L817.2 125.3 L817.7 125.5 L818.2 125.6 L818.7 125.7 L819.2 125.9 L819.7 126 L820.2 126.1 L820.7 126.2 L821.2 126.4 L821.7 126.5 L822.2 126.6 L822.7 126.7 L823.2 126.8 L823.7 127 L824.2 127.1 L824.7 127.2 L825.2 127.3 L825.7 127.4 L826.2 127.6 L826.7 127.7 L827.2 127.8 L827.7 127.9 L828.2 128 L828.6 128.2 L829.1 128.3 L829.6 128.4 L830.1 128.5 L830.6 128.7 L831.1 128.8 L831.6 128.9 L832.1 129 L832.6 129.2 L833.1 129.3 L833.6 129.4 L834.1 129.5 L834.6 129.7 L835.1 129.8 L835.6 129.9 L836.1 130.1 L836.6 130.2 L837.1 130.3 L837.6 130.5 L838.1 130.6 L838.6 130.8 L839.1 130.9 L839.6 131 L840.1 131.2 L840.6 131.3 L841.1 131.4 L841.6 131.6 L842.1 131.7 L842.6 131.8 L843 132 L843.5 132.1 L844 132.3 L844.5 132.4 L845 132.5 L845.5 132.7 L846 132.8 L846.5 132.9 L847 133.1 L847.5 133.2 L848 133.3 L848.5 133.5 L849 133.6 L849.5 133.7 L850 133.9 L850.5 134 L851 134.1 L851.5 134.2 L852 134.4 L852.5 134.5 L853 134.6 L853.5 134.7 L854 134.9 L854.5 135 L855 135.1 L855.5 135.2 L856 135.3 L856.5 135.5 L857 135.6 L857.4 135.7 L857.9 135.8 L858.4 135.9 L858.9 136 L859.4 136.1 L859.9 136.2 L860.4 136.3 L860.9 136.4 L861.4 136.5 L861.9 136.6 L862.4 136.7 L862.9 136.8 L863.4 136.9 L863.9 137 L864.4 137.1 L864.9 137.2 L865.4 137.2 L865.9 137.3 L866.4 137.4 L866.9 137.5 L867.4 137.6 L867.9 137.7 L868.4 137.8 L868.9 137.9 L869.4 137.9 L869.9 138 L870.4 138.1 L870.9 138.2 L871.4 138.3 L871.9 138.4 L872.3 138.4 L872.8 138.5 L873.3 138.6 L873.8 138.7 L874.3 138.8 L874.8 138.8 L875.3 138.9 L875.8 139 L876.3 139.1 L876.8 139.2 L877.3 139.2 L877.8 139.3 L878.3 139.4 L878.8 139.5 L879.3 139.5 L879.8 139.6 L880.3 139.7 L880.8 139.8 L881.3 139.8 L881.8 139.9 L882.3 140 L882.8 140 L883.3 140.1 L883.8 140.2 L884.3 140.3 L884.8 140.3 L885.3 140.4 L885.8 140.5 L886.3 140.5 L886.7 140.6 L887.2 140.7 L887.7 140.8 L888.2 140.8 L888.7 140.9 L889.2 141 L889.7 141 L890.2 141.1 L890.7 141.2 L891.2 141.2 L891.7 141.3 L892.2 141.4 L892.7 141.4 L893.2 141.5 L893.7 141.6 L894.2 141.6 L894.7 141.7 L895.2 141.8 L895.7 141.8 L896.2 141.9 L896.7 142 L897.2 142 L897.7 142.1 L898.2 142.2 L898.7 142.2 L899.2 142.3 L899.7 142.4 L900.2 142.4 L900.7 142.5 L901.1 142.6 L901.6 142.6 L902.1 142.7 L902.6 142.8 L903.1 142.9 L903.6 142.9 L904.1 143 L904.6 143.1 L905.1 143.1 L905.6 143.2 L906.1 143.3 L906.6 143.3 L907.1 143.4 L907.6 143.5 L908.1 143.5 L908.6 143.6 L909.1 143.7 L909.6 143.7 L910.1 143.8 L910.6 143.9 L911.1 144 L911.6 144 L912.1 144.1 L912.6 144.2 L913.1 144.2 L913.6 144.3 L914.1 144.4 L914.6 144.4 L915.1 144.5 L915.6 144.6 L916 144.6 L916.5 144.7 L917 144.8 L917.5 144.8 L918 144.9 L918.5 145 L919 145 L919.5 145.1 L920 145.2 L920.5 145.2 L921 145.3 L921.5 145.4 L922 145.4 L922.5 145.5 L923 145.6 L923.5 145.6 L924 145.7 L924.5 145.8 L925 145.8 L925.5 145.9 L926 146 L926.5 146 L927 146.1 L927.5 146.1 L928 146.2 L928.5 146.3 L929 146.3 L929.5 146.4 L930 146.5 L930.4 146.5 L930.9 146.6 L931.4 146.7 L931.9 146.7 L932.4 146.8 L932.9 146.9 L933.4 146.9 L933.9 147 L934.4 147.1 L934.9 147.1 L935.4 147.2 L935.9 147.3 L936.4 147.3 L936.9 147.4 L937.4 147.5 L937.9 147.5 L938.4 147.6 L938.9 147.7 L939.4 147.8 L939.9 147.8 L940.4 147.9 L940.9 148 L941.4 148 L941.9 148.1 L942.4 148.2 L942.9 148.3 L943.4 148.3 L943.9 148.4 L944.4 148.5 L944.8 148.6 L945.3 148.7 L945.8 148.7 L946.3 148.8 L946.8 148.9 L947.3 149 L947.8 149.1 L948.3 149.1 L948.8 149.2 L949.3 149.3 L949.8 149.4 L950.3 149.5 L950.8 149.6 L951.3 149.7 L951.8 149.7 L952.3 149.8 L952.8 149.9 L953.3 150 L953.8 150.1 L954.3 150.2 L954.8 150.3 L955.3 150.4 L955.8 150.5 L956.3 150.6 L956.8 150.6 L957.3 150.7 L957.8 150.8 L958.3 150.9 L958.8 151 L959.3 151.1 L959.7 151.2 L960.2 151.3 L960.7 151.4 L961.2 151.5 L961.7 151.6 L962.2 151.7 L962.7 151.7 L963.2 151.8 L963.7 151.9 L964.2 152 L964.7 152.1 L965.2 152.2 L965.7 152.3 L966.2 152.4 L966.7 152.4 L967.2 152.5 L967.7 152.6 L968.2 152.7 L968.7 152.8 L969.2 152.9 L969.7 153 L970.2 153 L970.7 153.1 L971.2 153.2 L971.7 153.3 L972.2 153.4 L972.7 153.5 L973.2 153.6 L973.7 153.7 L974.1 153.7 L974.6 153.8 L975.1 153.9 L975.6 154 L976.1 154.1 L976.6 154.2 L977.1 154.3 L977.6 154.4 L978.1 154.5 L978.6 154.6 L979.1 154.7 L979.6 154.8 L980.1 154.9 L980.6 155 L981.1 155.1 L981.6 155.2 L982.1 155.3 L982.6 155.4 L983.1 155.5 L983.6 155.6 L984.1 155.7 L984.6 155.8 L985.1 155.9 L985.6 156 L986.1 156.1 L986.6 156.2 L987.1 156.4 L987.6 156.5 L988.1 156.6 L988.5 156.7 L989 156.9 L989.5 157 L990 157.1 L990.5 157.2 L991 157.4 L991.5 157.5 L992 157.6 L992.5 157.8 L993 157.9 L993.5 158 L994 158.2 L994.5 158.3 L995 158.4 L995.5 158.6 L996 158.7 L996.5 158.9 L997 159 L997.5 159.2 L998 159.4 L998.5 159.5 L999 159.7 L999.5 159.9 L1000 160.1 L1000.5 160.3 L1001 160.5 L1001.5 160.7 L1002 160.9 L1002.5 161.2 L1003 161.4 L1003.4 161.6 L1003.9 161.9 L1004.4 162.2 L1004.9 162.5 L1005.4 162.8 L1005.9 163.1 L1006.4 163.5 L1006.9 163.9 L1007.4 164.5 L1007.9 165.1 L1008.4 165.9 L1008.9 167 L1009.4 168.9 L1009.9 171.3 L1010.4 173.9" fill="none" stroke="#1010e0" stroke-width="1.5"/>
<path d="M762.6 19.7 L763.1 56.7 L763.6 66.1 L764.1 70.1 L764.6 72.8 L765.1 74.8 L765.6 76.6 L766.1 78.5 L766.6 80.4 L767.1 82 L767.6 83.6 L768.1 85.1 L768.6 86.5 L769.1 87.8 L769.6 89 L770.1 90.1 L770.5 91.2 L771 92.2 L771.5 93.1 L772 94.1 L772.5 95 L773 95.8 L773.5 96.6 L774 97.4 L774.5 98.1 L775 98.9 L775.5 99.5 L776 100.2 L776.5 100.8 L777 101.5 L777.5 102.1 L778 102.7 L778.5 103.2 L779 103.8 L779.5 104.4 L780 104.9 L780.5 105.4 L781 105.9 L781.5 106.4 L782 106.9 L782.5 107.4 L783 107.9 L783.5 108.3 L784 108.8 L784.5 109.2 L785 109.6 L785.5 110 L785.9 110.4 L786.4 110.8 L786.9 111.2 L787.4 111.6 L787.9 111.9 L788.4 112.3 L788.9 112.6 L789.4 113 L789.9 113.3 L790.4 113.6 L790.9 114 L791.4 114.3 L791.9 114.6 L792.4 114.9 L792.9 115.2 L793.4 115.5 L793.9 115.7 L794.4 116 L794.9 116.3 L795.4 116.6 L795.9 116.8 L796.4 117.1 L796.9 117.3 L797.4 117.6 L797.9 117.8 L798.4 118 L798.9 118.2 L799.4 118.5 L799.9 118.7 L800.4 118.9 L800.9 119.1 L801.3 119.3 L801.8 119.5 L802.3 119.7 L802.8 119.9 L803.3 120.1 L803.8 120.3 L804.3 120.5 L804.8 120.7 L805.3 120.9 L805.8 121.1 L806.3 121.2 L806.8 121.4 L807.3 121.6 L807.8 121.8 L808.3 121.9 L808.8 122.1 L809.3 122.3 L809.8 122.4 L810.3 122.6 L810.8 122.8 L811.3 122.9 L811.8 123.1 L812.3 123.2 L812.8 123.4 L813.3 123.5 L813.8 123.7 L814.3 123.8 L814.8 124 L815.3 124.1 L815.8 124.3 L816.3 124.4 L816.8 124.6 L817.2 124.7 L817.7 124.8 L818.2 125 L818.7 125.1 L819.2 125.2 L819.7 125.4 L820.2 125.5 L820.7 125.6 L821.2 125.8 L821.7 125.9 L822.2 126 L822.7 126.1 L823.2 126.3 L823.7 126.4 L824.2 126.5 L824.7 126.6 L825.2 126.8 L825.7 126.9 L826.2 127 L826.7 127.1 L827.2 127.3 L827.7 127.4 L828.2 127.5 L828.7 127.6 L829.2 127.8 L829.7 127.9 L830.2 128 L830.7 128.1 L831.2 128.3 L831.7 128.4 L832.2 128.5 L832.6 128.7 L833.1 128.8 L833.6 128.9 L834.1 129.1 L834.6 129.2 L835.1 129.3 L835.6 129.5 L836.1 129.6 L836.6 129.8 L837.1 129.9 L837.6 130 L838.1 130.2 L838.6 130.3 L839.1 130.5 L839.6 130.6 L840.1 130.7 L840.6 130.9 L841.1 131 L841.6 131.1 L842.1 131.3 L842.6 131.4 L843.1 131.6 L843.6 131.7 L844.1 131.8 L844.6 132 L845.1 132.1 L845.6 132.3 L846.1 132.4 L846.6 132.5 L847.1 132.7 L847.6 132.8 L848 133 L848.5 133.1 L849 133.2 L849.5 133.4 L850 133.5 L850.5 133.6 L851 133.8 L851.5 133.9 L852 134 L852.5 134.2 L853 134.3 L853.5 134.4 L854 134.5 L854.5 134.7 L855 134.8 L855.5 134.9 L856 135 L856.5 135.2 L857 135.3 L857.5 135.4 L858 135.5 L858.5 135.6 L859 135.8 L859.5 135.9 L860 136 L860.5 136.1 L861 136.2 L861.5 136.3 L862 136.4 L862.5 136.5 L863 136.6 L863.4 136.7 L863.9 136.8 L864.4 136.9 L864.9 137.1 L865.4 137.2 L865.9 137.3 L866.4 137.4 L866.9 137.5 L867.4 137.6 L867.9 137.7 L868.4 137.8 L868.9 137.9 L869.4 138 L869.9 138.1 L870.4 138.2 L870.9 138.3 L871.4 138.4 L871.9 138.5 L872.4 138.5 L872.9 138.6 L873.4 138.7 L873.9 138.8 L874.4 138.9 L874.9 139 L875.4 139.1 L875.9 139.2 L876.4 139.3 L876.9 139.4 L877.4 139.5 L877.9 139.6 L878.4 139.7 L878.8 139.8 L879.3 139.8 L879.8 139.9" fill="none" stroke="#1a7a2a" stroke-width="1.1" stroke-opacity="0.8"/>
<path d="M762.6 20 L763.2 59.6 L763.8 66.9 L764.5 70.8 L765.1 73.8 L765.7 76.2 L766.3 78 L767 79.6 L767.6 81.2 L768.2 83.1 L768.8 84.9 L769.4 86.5 L770.1 88.1 L770.7 89.6 L771.3 91 L771.9 92.3 L772.5 93.6 L773.2 94.9 L773.8 96.2 L774.4 97.4" fill="none" stroke="#c8bc20" stroke-width="1.3"/>
</g>
<rect x="750.5" y="24.3" width="272.8" height="203" fill="none" stroke="#111" stroke-width="1"/>
<path d="M762.7 227.3V230.3M812.22 227.3V230.3M861.74 227.3V230.3M911.26 227.3V230.3M960.78 227.3V230.3M1010.3 227.3V230.3M747.5 24.3H750.5M747.5 58.13H750.5M747.5 91.97H750.5M747.5 125.8H750.5M747.5 159.63H750.5M747.5 193.47H750.5M747.5 227.3H750.5" stroke="#111" stroke-width="0.9" fill="none"/>
<text x="760.09" y="238.7" font-family='"Liberation Sans",sans-serif' font-size="7.1" textLength="5.19" lengthAdjust="spacingAndGlyphs" fill="#222" >0</text>
<text x="802.84" y="238.7" font-family='"Liberation Sans",sans-serif' font-size="7.1" textLength="18.63" lengthAdjust="spacingAndGlyphs" fill="#222" >2000</text>
<text x="852.61" y="238.7" font-family='"Liberation Sans",sans-serif' font-size="7.1" textLength="18.37" lengthAdjust="spacingAndGlyphs" fill="#222" >4000</text>
<text x="901.88" y="238.7" font-family='"Liberation Sans",sans-serif' font-size="7.1" textLength="18.63" lengthAdjust="spacingAndGlyphs" fill="#222" >6000</text>
<text x="951.44" y="238.7" font-family='"Liberation Sans",sans-serif' font-size="7.1" textLength="18.59" lengthAdjust="spacingAndGlyphs" fill="#222" >8000</text>
<text x="998.47" y="238.7" font-family='"Liberation Sans",sans-serif' font-size="7.1" textLength="23.33" lengthAdjust="spacingAndGlyphs" fill="#222" >10000</text>
<text x="739.44" y="26.7" font-family='"Liberation Sans",sans-serif' font-size="6.96" textLength="5.25" lengthAdjust="spacingAndGlyphs" fill="#222" >5</text>
<text x="739.45" y="60.53" font-family='"Liberation Sans",sans-serif' font-size="6.96" textLength="5.19" lengthAdjust="spacingAndGlyphs" fill="#222" >0</text>
<text x="739.44" y="94.37" font-family='"Liberation Sans",sans-serif' font-size="6.96" textLength="5.25" lengthAdjust="spacingAndGlyphs" fill="#222" >5</text>
<line x1="734.82" y1="92.27" x2="738.92" y2="92.27" stroke="#222" stroke-width="0.7"/>
<text x="734.67" y="128.2" font-family='"Liberation Sans",sans-serif' font-size="6.96" textLength="9.97" lengthAdjust="spacingAndGlyphs" fill="#222" >10</text>
<line x1="730.34" y1="126.1" x2="734.44" y2="126.1" stroke="#222" stroke-width="0.7"/>
<text x="734.66" y="162.03" font-family='"Liberation Sans",sans-serif' font-size="6.96" textLength="10.02" lengthAdjust="spacingAndGlyphs" fill="#222" >15</text>
<line x1="730.34" y1="159.93" x2="734.44" y2="159.93" stroke="#222" stroke-width="0.7"/>
<text x="734.9" y="195.87" font-family='"Liberation Sans",sans-serif' font-size="6.96" textLength="9.72" lengthAdjust="spacingAndGlyphs" fill="#222" >20</text>
<line x1="730.34" y1="193.77" x2="734.44" y2="193.77" stroke="#222" stroke-width="0.7"/>
<text x="734.9" y="229.7" font-family='"Liberation Sans",sans-serif' font-size="6.96" textLength="9.77" lengthAdjust="spacingAndGlyphs" fill="#222" >25</text>
<line x1="730.34" y1="227.6" x2="734.44" y2="227.6" stroke="#222" stroke-width="0.7"/>
<text x="805.27" y="19.6" font-family='"Liberation Sans",sans-serif' font-size="14.06" textLength="162.76" lengthAdjust="spacingAndGlyphs" fill="#111" >Eigenvalue Comparison</text>
<text x="821.56" y="253.8" font-family='"Liberation Sans",sans-serif' font-size="14.2" textLength="128.86" lengthAdjust="spacingAndGlyphs" fill="#111" >Eigenvalue indices</text>
<text x="722.5" y="234.95" font-family='"Liberation Sans",sans-serif' font-size="14.78" textLength="217.42" lengthAdjust="spacingAndGlyphs" fill="#111" transform="rotate(-90 722.5 234.95)">Base 2 log of Eigenvalue at t=0</text>
<line x1="1109.31" y1="27.3" x2="1109.31" y2="225" stroke="#c0c0c0" stroke-width="1" stroke-dasharray="1 1.5"/>
<line x1="1145.02" y1="27.3" x2="1145.02" y2="225" stroke="#c0c0c0" stroke-width="1" stroke-dasharray="1 1.5"/>
<line x1="1180.74" y1="27.3" x2="1180.74" y2="225" stroke="#c0c0c0" stroke-width="1" stroke-dasharray="1 1.5"/>
<line x1="1216.45" y1="27.3" x2="1216.45" y2="225" stroke="#c0c0c0" stroke-width="1" stroke-dasharray="1 1.5"/>
<line x1="1252.16" y1="27.3" x2="1252.16" y2="225" stroke="#c0c0c0" stroke-width="1" stroke-dasharray="1 1.5"/>
<line x1="1287.88" y1="27.3" x2="1287.88" y2="225" stroke="#c0c0c0" stroke-width="1" stroke-dasharray="1 1.5"/>
<line x1="1323.59" y1="27.3" x2="1323.59" y2="225" stroke="#c0c0c0" stroke-width="1" stroke-dasharray="1 1.5"/>
<line x1="1073.6" y1="185.46" x2="1359.3" y2="185.46" stroke="#c0c0c0" stroke-width="1" stroke-dasharray="1 1.5"/>
<line x1="1073.6" y1="145.92" x2="1359.3" y2="145.92" stroke="#c0c0c0" stroke-width="1" stroke-dasharray="1 1.5"/>
<line x1="1073.6" y1="106.38" x2="1359.3" y2="106.38" stroke="#c0c0c0" stroke-width="1" stroke-dasharray="1 1.5"/>
<line x1="1073.6" y1="66.84" x2="1359.3" y2="66.84" stroke="#c0c0c0" stroke-width="1" stroke-dasharray="1 1.5"/>
<path d="M1074.1 159.1 L1074.2 153.9 L1074.3 156.7 L1074.4 157.8 L1074.5 155.1 L1074.6 153.7 L1074.8 155.3 L1074.9 154.4 L1075 151.4 L1075.1 152 L1075.2 153.3 L1075.3 146.1 L1075.4 151.5 L1075.5 152 L1075.6 148.2 L1075.7 149 L1075.9 145.9 L1076 149.8 L1076.1 152.7 L1076.2 145.8 L1076.3 147.1 L1076.4 151.1 L1076.5 147.5 L1076.6 146 L1076.7 148.2 L1076.8 141.6 L1076.9 142.6 L1077.1 149.5 L1077.2 142.2 L1077.3 140.8 L1077.4 149.4 L1077.5 147.5 L1077.6 149.5 L1077.7 147.2 L1077.8 148.6 L1077.9 142.7 L1078 146.5 L1078.2 140.5 L1078.3 146.9 L1078.4 145.8 L1078.5 140.3 L1078.6 140 L1078.7 139.7 L1078.8 145.9 L1078.9 144.3 L1079 140.3 L1079.1 143.8 L1079.2 144 L1079.4 143.9 L1079.5 146.7 L1079.6 145.1 L1079.7 140.9 L1079.8 137 L1079.9 138.6 L1080 137 L1080.1 143.8 L1080.2 143.7 L1080.3 137.9 L1080.5 144.9 L1080.6 138.7 L1080.7 139.9 L1080.8 140.9 L1080.9 144.9 L1081 143.7 L1081.1 136.2 L1081.2 149.2 L1081.3 136.5 L1081.4 142.3 L1081.5 140.8 L1081.7 135.6 L1081.8 134.5 L1081.9 142.9 L1082 133.8 L1082.1 135 L1082.2 142.9 L1082.3 140.1 L1082.4 138.6 L1082.5 139.1 L1082.6 138.4 L1082.8 137.2 L1082.9 133.2 L1083 137 L1083.1 135.3 L1083.2 136.9 L1083.3 135.7 L1083.4 138.7 L1083.5 139.4 L1083.6 138.9 L1083.7 135.7 L1083.8 134.9 L1084 131.2 L1084.1 134.2 L1084.2 138.3 L1084.3 133.9 L1084.4 133.1 L1084.5 131.7 L1084.6 136.1 L1084.7 134.7 L1084.8 130.1 L1084.9 131.9 L1085.1 131.2 L1085.2 130.7 L1085.3 131.5 L1085.4 129.6 L1085.5 138.3 L1085.6 134.7 L1085.7 129.6 L1085.8 133.3 L1085.9 131.9 L1086 129.8 L1086.1 131.8 L1086.3 133.1 L1086.4 128.5 L1086.5 136.5 L1086.6 132 L1086.7 127.8 L1086.8 133.5 L1086.9 135.8 L1087 126.8 L1087.1 133 L1087.2 134.4 L1087.4 130.4 L1087.5 126.8 L1087.6 133.1 L1087.7 128.9 L1087.8 128.5 L1087.9 132.8 L1088 125.4 L1088.1 127.5 L1088.2 133.7 L1088.3 126.4 L1088.5 125.5 L1088.6 125.5 L1088.7 129.4 L1088.8 127.9 L1088.9 129.1 L1089 132.8 L1089.1 132.4 L1089.2 131.1 L1089.3 129.2 L1089.4 129.5 L1089.5 123.7 L1089.7 123.8 L1089.8 124.7 L1089.9 127.3 L1090 126.4 L1090.1 125.7 L1090.2 130.9 L1090.3 128 L1090.4 125.7 L1090.5 128.2 L1090.6 130.5 L1090.8 124 L1090.9 125.8 L1091 123.9 L1091.1 126.7 L1091.2 122.9 L1091.3 124.8 L1091.4 130.9 L1091.5 130 L1091.6 121.4 L1091.7 124.4 L1091.8 128.7 L1092 128.8 L1092.1 123.8 L1092.2 126.9 L1092.3 127.8 L1092.4 124.3 L1092.5 121.4 L1092.6 127.6 L1092.7 127.1 L1092.8 125.3 L1092.9 127.3 L1093.1 129.1 L1093.2 121.8 L1093.3 119.7 L1093.4 125.4 L1093.5 121.2 L1093.6 127.4 L1093.7 126.3 L1093.8 123.5 L1093.9 126.3 L1094 127.7 L1094.1 125.6 L1094.3 121.2 L1094.4 122.9 L1094.5 119.3 L1094.6 124.3 L1094.7 121.4 L1094.8 119.5 L1094.9 120.3 L1095 120.9 L1095.1 125.5 L1095.2 118 L1095.4 119.3 L1095.5 120.1 L1095.6 125.2 L1095.7 118.4 L1095.8 126.5 L1095.9 124.5 L1096 121 L1096.1 122.9 L1096.2 123.3 L1096.3 124.2 L1096.4 119 L1096.6 124.8 L1096.7 123.2 L1096.8 117.4 L1096.9 116.6 L1097 122.3 L1097.1 123.8 L1097.2 122.3 L1097.3 124.2 L1097.4 116 L1097.5 124.5 L1097.7 119.2 L1097.8 119.5 L1097.9 122.9 L1098 120.8 L1098.1 119.5 L1098.2 116.2 L1098.3 123.7 L1098.4 120.6 L1098.5 115.4 L1098.6 119.9 L1098.7 121.2 L1098.9 119.2 L1099 120.4 L1099.1 116.4 L1099.2 123.9 L1099.3 119.1 L1099.4 115 L1099.5 116.8 L1099.6 122.2 L1099.7 121.1 L1099.8 119.3 L1100 116.5 L1100.1 120.8 L1100.2 121.5 L1100.3 115 L1100.4 114.7 L1100.5 120.7 L1100.6 119.6 L1100.7 120.5 L1100.8 115.3 L1100.9 121.8 L1101 117.6 L1101.2 120.4 L1101.3 115.3 L1101.4 116.7 L1101.5 116.5 L1101.6 116.9 L1101.7 121 L1101.8 118.1 L1101.9 120.2 L1102 118.6 L1102.1 119.8 L1102.3 117.2 L1102.4 112.9 L1102.5 117.3 L1102.6 113.6 L1102.7 112.6 L1102.8 120.1 L1102.9 117.4 L1103 117.4 L1103.1 117.4 L1103.2 116.3 L1103.3 116.6 L1103.5 116.2 L1103.6 116.6 L1103.7 118.4 L1103.8 115.7 L1103.9 114.1 L1104 117.5 L1104.1 118 L1104.2 113.3 L1104.3 119.9 L1104.4 118.6 L1104.6 114.1 L1104.7 119.2 L1104.8 117.8 L1104.9 113.5 L1105 113.1 L1105.1 120 L1105.2 120.1 L1105.3 111.8 L1105.4 112.4 L1105.5 119.5 L1105.6 116.9 L1105.8 116.4 L1105.9 111.4 L1106 117.3 L1106.1 115.5 L1106.2 116.8 L1106.3 117.4 L1106.4 116.4 L1106.5 116.4 L1106.6 118.8 L1106.7 116.9 L1106.9 114.4 L1107 117.9 L1107.1 116.7 L1107.2 115.5 L1107.3 113.3 L1107.4 115.4 L1107.5 118.4 L1107.6 115.9 L1107.7 115.7 L1107.8 114.2 L1107.9 116.3 L1108.1 118.4 L1108.2 111.3 L1108.3 114.3 L1108.4 115.4 L1108.5 111.6 L1108.6 112.6 L1108.7 110.9 L1108.8 110.3 L1108.9 114 L1109 112.8 L1109.2 116.2 L1109.3 115.1 L1109.4 116.1 L1109.5 112.5 L1109.6 117.8 L1109.7 114.4 L1109.8 111.7 L1109.9 116.6 L1110 114.8 L1110.1 117 L1110.2 111.3 L1110.4 116.7 L1110.5 112 L1110.6 109.6 L1110.7 108.6 L1110.8 112.5 L1110.9 113.7 L1111 110.5 L1111.1 109.3 L1111.2 109.8 L1111.3 109.7 L1111.5 108.4 L1111.6 109.2 L1111.7 109.1 L1111.8 111.4 L1111.9 112.9 L1112 113.1 L1112.1 110.8 L1112.2 110.5 L1112.3 109.9 L1112.4 114.8 L1112.5 114.7 L1112.7 111.4 L1112.8 112.3 L1112.9 109.9 L1113 112.5 L1113.1 115 L1113.2 115.2 L1113.3 112.3 L1113.4 109.6 L1113.5 113.8 L1113.6 108.9 L1113.8 109 L1113.9 110 L1114 111.5 L1114.1 111.2 L1114.2 111.1 L1114.3 111.5 L1114.4 106.6 L1114.5 114.1 L1114.6 114.8 L1114.7 106.4 L1114.8 108.1 L1115 110.2 L1115.1 113.4 L1115.2 107.4 L1115.3 110.7 L1115.4 110.2 L1115.5 112.6 L1115.6 110.3 L1115.7 108.9 L1115.8 109.1 L1115.9 112.1 L1116.1 109.3 L1116.2 113.5 L1116.3 111.1 L1116.4 108.2 L1116.5 109.7 L1116.6 106.1 L1116.7 112.5 L1116.8 112.5 L1116.9 108 L1117 107.9 L1117.2 108.2 L1117.3 108.8 L1117.4 112.6 L1117.5 110.3 L1117.6 112.8 L1117.7 109.4 L1117.8 111.5 L1117.9 111.3 L1118 106.5 L1118.1 105.8 L1118.2 106.7 L1118.4 108.2 L1118.5 104.7 L1118.6 105.6 L1118.7 109.8 L1118.8 107.7 L1118.9 108.7 L1119 109 L1119.1 108.3 L1119.2 105.2 L1119.3 112 L1119.5 111.9 L1119.6 105.9 L1119.7 107.6 L1119.8 108.6 L1119.9 109.8 L1120 108.7 L1120.1 110.4 L1120.2 110.6 L1120.3 108.2 L1120.4 105.9 L1120.5 107.7 L1120.7 106.2 L1120.8 106.7 L1120.9 106.1 L1121 111.3 L1121.1 105.6 L1121.2 108 L1121.3 106.4 L1121.4 104.7 L1121.5 108.2 L1121.6 103.5 L1121.8 109.3 L1121.9 105.7 L1122 108.6 L1122.1 103.4 L1122.2 105.3 L1122.3 109.7 L1122.4 104 L1122.5 108.8 L1122.6 106 L1122.7 108.7 L1122.8 103.9 L1123 109.8 L1123.1 105.5 L1123.2 103.6 L1123.3 109.7 L1123.4 107.5 L1123.5 109.9 L1123.6 110.1 L1123.7 103 L1123.8 105.9 L1123.9 107.4 L1124.1 107.1 L1124.2 109.7 L1124.3 103 L1124.4 107.5 L1124.5 102.7 L1124.6 103.5 L1124.7 108.7 L1124.8 103.3 L1124.9 102.7 L1125 101.3 L1125.1 105.4 L1125.3 108 L1125.4 102.9 L1125.5 101.2 L1125.6 103.5 L1125.7 105 L1125.8 101.3 L1125.9 101.1 L1126 104.8 L1126.1 104 L1126.2 102.4 L1126.4 106.5 L1126.5 108.3 L1126.6 105.4 L1126.7 101.1 L1126.8 107.9 L1126.9 106.9 L1127 103.4 L1127.1 106.2 L1127.2 102.3 L1127.3 101.5 L1127.4 107.6 L1127.6 107.3 L1127.7 102.7 L1127.8 106.2 L1127.9 100.6 L1128 103.9 L1128.1 106.1 L1128.2 101.5 L1128.3 100.9 L1128.4 105 L1128.5 106.8 L1128.7 105 L1128.8 107.7 L1128.9 103.7 L1129 101.7 L1129.1 104.9 L1129.2 102.2 L1129.3 105.8 L1129.4 101.5 L1129.5 106.2 L1129.6 101.2 L1129.7 103 L1129.9 102.5 L1130 105.9 L1130.1 104.5 L1130.2 101.7 L1130.3 104.6 L1130.4 99.1 L1130.5 104.1 L1130.6 106 L1130.7 104.6 L1130.8 104.4 L1131 99.4 L1131.1 100.6 L1131.2 106.2 L1131.3 99.2 L1131.4 100.3 L1131.5 104.1 L1131.6 101.6 L1131.7 105.9 L1131.8 104.1 L1131.9 104.5 L1132 101.1 L1132.2 105.4 L1132.3 104.6 L1132.4 104.2 L1132.5 105.5 L1132.6 104.8 L1132.7 100.7 L1132.8 104.4 L1132.9 102 L1133 98.1 L1133.1 98.8 L1133.3 103.6 L1133.4 102.7 L1133.5 97.3 L1133.6 100.4 L1133.7 104.4 L1133.8 103 L1133.9 99.9 L1134 104.3 L1134.1 101 L1134.2 104.3 L1134.3 101.1 L1134.5 97.3 L1134.6 99.7 L1134.7 102.7 L1134.8 99.7 L1134.9 102.5 L1135 98.3 L1135.1 103.6 L1135.2 101 L1135.3 98.7 L1135.4 101.7 L1135.6 104.2 L1135.7 101.6 L1135.8 99.4 L1135.9 96.4 L1136 99.4 L1136.1 96.1 L1136.2 107.1 L1136.3 98.4 L1136.4 101.8 L1136.5 97.2 L1136.6 99.6 L1136.8 100.4 L1136.9 103.2 L1137 101.1 L1137.1 99.1 L1137.2 95.5 L1137.3 96.2 L1137.4 97.9 L1137.5 96.2 L1137.6 102.9 L1137.7 99.5 L1137.9 96.6 L1138 102.6 L1138.1 100.7 L1138.2 99.2 L1138.3 101.5 L1138.4 101.1 L1138.5 98 L1138.6 99.4 L1138.7 96.4 L1138.8 99.2 L1138.9 97.2 L1139.1 102.1 L1139.2 98.1 L1139.3 96.1 L1139.4 100 L1139.5 101.3 L1139.6 96.4 L1139.7 94.5 L1139.8 98.3 L1139.9 95 L1140 100.2 L1140.2 101 L1140.3 96.3 L1140.4 101.7 L1140.5 99.8 L1140.6 96.1 L1140.7 96.4 L1140.8 94.9 L1140.9 95.8 L1141 101.3 L1141.1 97.1 L1141.2 99.5 L1141.4 94.4 L1141.5 99.7 L1141.6 94.2 L1141.7 95.9 L1141.8 99.1 L1141.9 100.6 L1142 95.7 L1142.1 94.2 L1142.2 100.6 L1142.3 94.4 L1142.5 93.1 L1142.6 94.5 L1142.7 98.1 L1142.8 95.8 L1142.9 99.7 L1143 99 L1143.1 97.3 L1143.2 95.4 L1143.3 98.2 L1143.4 99.6 L1143.5 96.1 L1143.7 99.5 L1143.8 98.5 L1143.9 98.8 L1144 94.2 L1144.1 96.5 L1144.2 96.1 L1144.3 94.3 L1144.4 100.3 L1144.5 97.2 L1144.6 98.3 L1144.8 96 L1144.9 97.7 L1145 95.8 L1145.1 98.9 L1145.2 97.1 L1145.3 95.5 L1145.4 97.6 L1145.5 97.8 L1145.6 98.3 L1145.7 96.5 L1145.9 96.6 L1146 98.2 L1146.1 98.3 L1146.2 94 L1146.3 98.1 L1146.4 97.9 L1146.5 97.7 L1146.6 98.2 L1146.7 95 L1146.8 96.6 L1146.9 92.4 L1147.1 95.6 L1147.2 91.9 L1147.3 93 L1147.4 91.7 L1147.5 93.4 L1147.6 97.3 L1147.7 93.9 L1147.8 97.5 L1147.9 93.4 L1148 90.7 L1148.2 97 L1148.3 94.7 L1148.4 92.4 L1148.5 93 L1148.6 95.2 L1148.7 96 L1148.8 93.6 L1148.9 93.4 L1149 97.6 L1149.1 97.3 L1149.2 95.3 L1149.4 90.6 L1149.5 95.9 L1149.6 94.6 L1149.7 90.3 L1149.8 94.6 L1149.9 96 L1150 96.1 L1150.1 93.4 L1150.2 96.5 L1150.3 98.8 L1150.5 93.1 L1150.6 92.8 L1150.7 92.4 L1150.8 96.6 L1150.9 94.9 L1151 96.4 L1151.1 92.4 L1151.2 95.9 L1151.3 91.5 L1151.4 94.8 L1151.5 94.8 L1151.7 91.1 L1151.8 89.2 L1151.9 95.2 L1152 91.7 L1152.1 89.1 L1152.2 91.5 L1152.3 89.6 L1152.4 89 L1152.5 93.7 L1152.6 95.2 L1152.8 94 L1152.9 90.6 L1153 94.9 L1153.1 93.1 L1153.2 90.6 L1153.3 89.3 L1153.4 94.9 L1153.5 94.7 L1153.6 90 L1153.7 90.4 L1153.8 94.1 L1154 87.9 L1154.1 93 L1154.2 92.7 L1154.3 91.1 L1154.4 92.7 L1154.5 90.6 L1154.6 93.9 L1154.7 88.4 L1154.8 94.5 L1154.9 92.7 L1155.1 89.5 L1155.2 88.3 L1155.3 89.9 L1155.4 97 L1155.5 87.3 L1155.6 91.1 L1155.7 92.6 L1155.8 93.8 L1155.9 93.6 L1156 92.7 L1156.1 89.3 L1156.3 88.8 L1156.4 89.5 L1156.5 93.8 L1156.6 93.5 L1156.7 89.2 L1156.8 94 L1156.9 88.6 L1157 89 L1157.1 86.6 L1157.2 94.5 L1157.4 90.8 L1157.5 87.4 L1157.6 87.7 L1157.7 86.5 L1157.8 86.6 L1157.9 90.9 L1158 90.4 L1158.1 92.2 L1158.2 86 L1158.3 86.3 L1158.4 92.4 L1158.6 87.8 L1158.7 90.4 L1158.8 88.7 L1158.9 92 L1159 92.8 L1159.1 86.3 L1159.2 86.5 L1159.3 90.4 L1159.4 87.9 L1159.5 87.7 L1159.7 87.4 L1159.8 87.9 L1159.9 86.5 L1160 86.3 L1160.1 90 L1160.2 91.7 L1160.3 85.9 L1160.4 89.6 L1160.5 90.2 L1160.6 90.7 L1160.7 86.8 L1160.9 86.1 L1161 90.5 L1161.1 86.8 L1161.2 84.9 L1161.3 90.5 L1161.4 87.9 L1161.5 91 L1161.6 85.5 L1161.7 86.7 L1161.8 91.3 L1162 89.1 L1162.1 86.3 L1162.2 90.5 L1162.3 84.7 L1162.4 86.8 L1162.5 89.3 L1162.6 87.4 L1162.7 86.5 L1162.8 89.8 L1162.9 91.1 L1163 88.9 L1163.2 87.7 L1163.3 85.8 L1163.4 84.5 L1163.5 87.6 L1163.6 85.7 L1163.7 85.1 L1163.8 88.3 L1163.9 85.4 L1164 84.2 L1164.1 88.1 L1164.3 83.8 L1164.4 90.5 L1164.5 85.7 L1164.6 86.2 L1164.7 84 L1164.8 88.6 L1164.9 88.6 L1165 86.3 L1165.1 89 L1165.2 90 L1165.3 85.6 L1165.5 87.4 L1165.6 82.8 L1165.7 89.6 L1165.8 89.7 L1165.9 84.5 L1166 85.5 L1166.1 83.7 L1166.2 88 L1166.3 85.7 L1166.4 84.6 L1166.6 88.1 L1166.7 84.3 L1166.8 84.7 L1166.9 86.2 L1167 89.1 L1167.1 82.8 L1167.2 84.7 L1167.3 87.8 L1167.4 82.5 L1167.5 83.1 L1167.6 88.7 L1167.8 81.9 L1167.9 82.9 L1168 86.8 L1168.1 85.9 L1168.2 88.1 L1168.3 85.2 L1168.4 87.3 L1168.5 84.7 L1168.6 84.4 L1168.7 83.3 L1168.9 84.9 L1169 83 L1169.1 87.4 L1169.2 87.2 L1169.3 83.7 L1169.4 81.1 L1169.5 85.3 L1169.6 86.2 L1169.7 82.3 L1169.8 86.1 L1169.9 83.2 L1170.1 86.9 L1170.2 86.9 L1170.3 81.1 L1170.4 80.7 L1170.5 84.9 L1170.6 87 L1170.7 81.2 L1170.8 81.9 L1170.9 85.9 L1171 82.7 L1171.2 81.3 L1171.3 84.2 L1171.4 81.3 L1171.5 83.1 L1171.6 85.3 L1171.7 83.5 L1171.8 85.3 L1171.9 88.2 L1172 83.9 L1172.1 86.6 L1172.2 80.2 L1172.4 80.1 L1172.5 84.5 L1172.6 85.1 L1172.7 80.8 L1172.8 82.5 L1172.9 84.2 L1173 82.2 L1173.1 85.8 L1173.2 84.5 L1173.3 84 L1173.5 81.5 L1173.6 83 L1173.7 83.2 L1173.8 80.5 L1173.9 83.6 L1174 80.3 L1174.1 84.8 L1174.2 83.2 L1174.3 80.6 L1174.4 79 L1174.6 83.6 L1174.7 83.7 L1174.8 84 L1174.9 79.2 L1175 79.5 L1175.1 84.2 L1175.2 81.2 L1175.3 83.1 L1175.4 79.5 L1175.5 86.8 L1175.6 84.1 L1175.8 78.5 L1175.9 83.7 L1176 81.6 L1176.1 82.5 L1176.2 78.9 L1176.3 79.8 L1176.4 81.8 L1176.5 81.7 L1176.6 81 L1176.7 79.7 L1176.9 82.7 L1177 78.8 L1177.1 83.9 L1177.2 79.8 L1177.3 80.9 L1177.4 81 L1177.5 80.6 L1177.6 82.4 L1177.7 82.3 L1177.8 79 L1177.9 81.5 L1178.1 78.9 L1178.2 78.3 L1178.3 83.8 L1178.4 86.1 L1178.5 81.1 L1178.6 78.6 L1178.7 85.9 L1178.8 80.2 L1178.9 79.4 L1179 82.4 L1179.2 82.3 L1179.3 82.2 L1179.4 81.7 L1179.5 82 L1179.6 77.3 L1179.7 78.6 L1179.8 77.8 L1179.9 81.7 L1180 83 L1180.1 77.2 L1180.2 79 L1180.4 77.7 L1180.5 80.7 L1180.6 77 L1180.7 82.6 L1180.8 79.6 L1180.9 77.1 L1181 76 L1181.1 76.6 L1181.2 76.9 L1181.3 80.2 L1181.5 78.8 L1181.6 79.4 L1181.7 76.2 L1181.8 81.3 L1181.9 77.6 L1182 79.3 L1182.1 78.8 L1182.2 76.5 L1182.3 76 L1182.4 75.7 L1182.5 77.1 L1182.7 75.5 L1182.8 79 L1182.9 76.9 L1183 77.9 L1183.1 77.9 L1183.2 76.3 L1183.3 76.4 L1183.4 78.9 L1183.5 78.9 L1183.6 77.8 L1183.8 75.5 L1183.9 79 L1184 81 L1184.1 74.4 L1184.2 79.4 L1184.3 77.6 L1184.4 77.2 L1184.5 79.5 L1184.6 79.2 L1184.7 74.8 L1184.8 77.3 L1185 76.5 L1185.1 76.1 L1185.2 74 L1185.3 80.1 L1185.4 74.2 L1185.5 74.7 L1185.6 77.6 L1185.7 78.1 L1185.8 79.2 L1185.9 75.6 L1186.1 75.3 L1186.2 75 L1186.3 77.8 L1186.4 74.5 L1186.5 76.4 L1186.6 77.9 L1186.7 75.1 L1186.8 77.9 L1186.9 78.5 L1187 76.9 L1187.1 78.9 L1187.3 78.8 L1187.4 73.4 L1187.5 75.1 L1187.6 77.2 L1187.7 74 L1187.8 74 L1187.9 76.6 L1188 76 L1188.1 76.1 L1188.2 76.9 L1188.4 75 L1188.5 73.3 L1188.6 73.2 L1188.7 77.7 L1188.8 78.4 L1188.9 77.2 L1189 77.5 L1189.1 77.9 L1189.2 72.5 L1189.3 73.7 L1189.4 76.6 L1189.6 75 L1189.7 74.2 L1189.8 74 L1189.9 75.1 L1190 76.7 L1190.1 73.9 L1190.2 72.9 L1190.3 74.4 L1190.4 77 L1190.5 75.4 L1190.7 76.8 L1190.8 73.6 L1190.9 76.2 L1191 73.5 L1191.1 71.7 L1191.2 75.9 L1191.3 77.1 L1191.4 74.7 L1191.5 74.7 L1191.6 75.6 L1191.7 76.4 L1191.9 75.7 L1192 70.9 L1192.1 74.8 L1192.2 71.3 L1192.3 74.3 L1192.4 71.4 L1192.5 73.8 L1192.6 75.9 L1192.7 76 L1192.8 74 L1193 73 L1193.1 70.9 L1193.2 74 L1193.3 75.5 L1193.4 74.4 L1193.5 70.5 L1193.6 69.8 L1193.7 73.6 L1193.8 72.7 L1193.9 72 L1194 74.9 L1194.2 70.6 L1194.3 74.6 L1194.4 74.8 L1194.5 75.5 L1194.6 74.7 L1194.7 72.4 L1194.8 72.1 L1194.9 73.7 L1195 70.4 L1195.1 68.9 L1195.3 76.8 L1195.4 71.8 L1195.5 74.4 L1195.6 70.3 L1195.7 69.1 L1195.8 69.3 L1195.9 70.4 L1196 74.3 L1196.1 69.4 L1196.2 68.3 L1196.3 71.9 L1196.5 72.4 L1196.6 69 L1196.7 72.6 L1196.8 70.1 L1196.9 70 L1197 73.5 L1197.1 73.6 L1197.2 70.2 L1197.3 70.6 L1197.4 67.8 L1197.6 73 L1197.7 69.5 L1197.8 70.1 L1197.9 70.5 L1198 68.5 L1198.1 69 L1198.2 67.7 L1198.3 69.8 L1198.4 67.5 L1198.5 70.4 L1198.6 67.6 L1198.8 70.9 L1198.9 67.6 L1199 69.1 L1199.1 71.1 L1199.2 68.4 L1199.3 70.5 L1199.4 67.9 L1199.5 71.6 L1199.6 71.6 L1199.7 70.5 L1199.9 66.6 L1200 69.9 L1200.1 70.9 L1200.2 68.6 L1200.3 67.6 L1200.4 70.4 L1200.5 68.3 L1200.6 72.3 L1200.7 70.6 L1200.8 70.8 L1200.9 66.4 L1201.1 69.5 L1201.2 70.4 L1201.3 70.4 L1201.4 69.2 L1201.5 66.4 L1201.6 68.4 L1201.7 66.2 L1201.8 71.3 L1201.9 68 L1202 65.9 L1202.2 69.5 L1202.3 66 L1202.4 70.8 L1202.5 68.7 L1202.6 67.2 L1202.7 65.5 L1202.8 65.9 L1202.9 70.8 L1203 67.8 L1203.1 67.2 L1203.3 66.4 L1203.4 68.3 L1203.5 65.2 L1203.6 70.5 L1203.7 69.9 L1203.8 66.4 L1203.9 69.2 L1204 67.8 L1204.1 70 L1204.2 70.7 L1204.3 70.2 L1204.5 69.8 L1204.6 70.8 L1204.7 66.2 L1204.8 68.7 L1204.9 66.2 L1205 69.5 L1205.1 65.8 L1205.2 70.6 L1205.3 65.5 L1205.4 65.9 L1205.6 67.4 L1205.7 64.6 L1205.8 65.9 L1205.9 68 L1206 65.7 L1206.1 69.2 L1206.2 64.7 L1206.3 64.6 L1206.4 68.5 L1206.5 66.7 L1206.6 64 L1206.8 68.2 L1206.9 69.3 L1207 64 L1207.1 69.9 L1207.2 69.3 L1207.3 68.5 L1207.4 68.3 L1207.5 67.3 L1207.6 68 L1207.7 67.7 L1207.9 63.9 L1208 64.1 L1208.1 63.9 L1208.2 64.5 L1208.3 68.8 L1208.4 65.4 L1208.5 64.6 L1208.6 64.3 L1208.7 67.7 L1208.8 65.8 L1208.9 67.8 L1209.1 64.8 L1209.2 65.4 L1209.3 65.6 L1209.4 65.7 L1209.5 63.7 L1209.6 66.7 L1209.7 65.3 L1209.8 68.6 L1209.9 68.4 L1210 66.1 L1210.2 66.7 L1210.3 67.2 L1210.4 68.4 L1210.5 62.7 L1210.6 64.3 L1210.7 67.6 L1210.8 68.3 L1210.9 65.3 L1211 66.3 L1211.1 66.7 L1211.2 65.9 L1211.4 63.3 L1211.5 66.9 L1211.6 64.7 L1211.7 66.9 L1211.8 62.1 L1211.9 65.9 L1212 67.7 L1212.1 65.5 L1212.2 67 L1212.3 64.5 L1212.5 64.9 L1212.6 62.7 L1212.7 65 L1212.8 63.4 L1212.9 65 L1213 65.6 L1213.1 63.4 L1213.2 64.2 L1213.3 62.6 L1213.4 62.2 L1213.5 64.7 L1213.7 64.5 L1213.8 67.4 L1213.9 62.3 L1214 62.9 L1214.1 62.5 L1214.2 64.4 L1214.3 61.4 L1214.4 67 L1214.5 61.8 L1214.6 61.1 L1214.8 61.6 L1214.9 66.3 L1215 61.2 L1215.1 63.9 L1215.2 64 L1215.3 63.9 L1215.4 63.1 L1215.5 62.4 L1215.6 63.4 L1215.7 63.4 L1215.8 62.5 L1216 60.7 L1216.1 60.7 L1216.2 63.1 L1216.3 61.9 L1216.4 66.3 L1216.5 66 L1216.6 61.2 L1216.7 65.9 L1216.8 63 L1216.9 62.4 L1217.1 63.1 L1217.2 61.6 L1217.3 63.4 L1217.4 61.4 L1217.5 60.7 L1217.6 62.5 L1217.7 60.2 L1217.8 62.3 L1217.9 62.3 L1218 65.1 L1218.1 64.4 L1218.3 63.5 L1218.4 63.8 L1218.5 62.8 L1218.6 64.4 L1218.7 62.7 L1218.8 62 L1218.9 63.7 L1219 64.9 L1219.1 60.7 L1219.2 65.2 L1219.4 64.9 L1219.5 62.3 L1219.6 63.4 L1219.7 60.8 L1219.8 64.9 L1219.9 62.8 L1220 59.6 L1220.1 61.5 L1220.2 62.9 L1220.3 61.6 L1220.4 60 L1220.6 63.9 L1220.7 60.7 L1220.8 63.7 L1220.9 59 L1221 62.3 L1221.1 59 L1221.2 59.6 L1221.3 63.9 L1221.4 62.7 L1221.5 62.6 L1221.7 61.3 L1221.8 62.7 L1221.9 62.6 L1222 59.5 L1222.1 60.8 L1222.2 61.3 L1222.3 63.6 L1222.4 59.8 L1222.5 60 L1222.6 58.5 L1222.7 63.6 L1222.9 62.2 L1223 58.3 L1223.1 65.2 L1223.2 59.6 L1223.3 61.8 L1223.4 62.3 L1223.5 58.5 L1223.6 58 L1223.7 58.3 L1223.8 62.8 L1224 60.1 L1224.1 60.5 L1224.2 60.6 L1224.3 60.9 L1224.4 58.8 L1224.5 62.6 L1224.6 57.7 L1224.7 60 L1224.8 59.8 L1224.9 58.6 L1225 62.2 L1225.2 60.1 L1225.3 62.1 L1225.4 58.3 L1225.5 57.4 L1225.6 57.4 L1225.7 61.5 L1225.8 59.6 L1225.9 61.7 L1226 61.7 L1226.1 60.3 L1226.3 57.4 L1226.4 57.7 L1226.5 60.5 L1226.6 58 L1226.7 57.7 L1226.8 58.9 L1226.9 56.7 L1227 59.6 L1227.1 62.1 L1227.2 56.7 L1227.3 59 L1227.5 61.7 L1227.6 59.7 L1227.7 60.8 L1227.8 56.3 L1227.9 60 L1228 61.4 L1228.1 61.7 L1228.2 56.2 L1228.3 59.2 L1228.4 61.4 L1228.6 57.1 L1228.7 61.5 L1228.8 60.8 L1228.9 60.4 L1229 57.1 L1229.1 58.1 L1229.2 60.7 L1229.3 58.2 L1229.4 61.2 L1229.5 57.6 L1229.6 56.4 L1229.8 55.9 L1229.9 59.4 L1230 59.9 L1230.1 57.8 L1230.2 60.3 L1230.3 57.2 L1230.4 60.2 L1230.5 60.7 L1230.6 56.7 L1230.7 58.7 L1230.9 57.6 L1231 58.2 L1231.1 59.7 L1231.2 60 L1231.3 60.2 L1231.4 56.3 L1231.5 58.6 L1231.6 57.5 L1231.7 58.5 L1231.8 56 L1232 55.5 L1232.1 58.2 L1232.2 59.1 L1232.3 56.1 L1232.4 57.9 L1232.5 57.4 L1232.6 57.1 L1232.7 57.5 L1232.8 55.6 L1232.9 58.3 L1233 57.7 L1233.2 56.9 L1233.3 58.7 L1233.4 60 L1233.5 55.6 L1233.6 55.3 L1233.7 57.1 L1233.8 58.8 L1233.9 54.4 L1234 58.2 L1234.1 56.9 L1234.3 58.2 L1234.4 58.6 L1234.5 55.3 L1234.6 54.4 L1234.7 54.6 L1234.8 59.2 L1234.9 55.6 L1235 55.1 L1235.1 55 L1235.2 59 L1235.3 57.7 L1235.5 56.7 L1235.6 54.1 L1235.7 57.1 L1235.8 55.8 L1235.9 58.2 L1236 57.9 L1236.1 58.4 L1236.2 58.4 L1236.3 54.2 L1236.4 53.7 L1236.6 57.1 L1236.7 56.7 L1236.8 56.4 L1236.9 56.3 L1237 54 L1237.1 56.4 L1237.2 58.1 L1237.3 56.3 L1237.4 53.6 L1237.5 57.3 L1237.6 58.6 L1237.8 57.1 L1237.9 53.8 L1238 57.5 L1238.1 55.1 L1238.2 56.8 L1238.3 60.3 L1238.4 55.7 L1238.5 56.3 L1238.6 56.5 L1238.7 53.7 L1238.9 56.9 L1239 55.9 L1239.1 56 L1239.2 53 L1239.3 57.2 L1239.4 57.8 L1239.5 56.4 L1239.6 56.2 L1239.7 54.4 L1239.8 52.9 L1239.9 53.5 L1240.1 53.5 L1240.2 55.9 L1240.3 56.1 L1240.4 52.8 L1240.5 53.7 L1240.6 54.9 L1240.7 53.8 L1240.8 53.4 L1240.9 57.5 L1241 55.5 L1241.2 54 L1241.3 56.5 L1241.4 57 L1241.5 55.8 L1241.6 55.4 L1241.7 56.1 L1241.8 53.1 L1241.9 53.6 L1242 55.9 L1242.1 52.5 L1242.2 56.2 L1242.4 56 L1242.5 53.6 L1242.6 56.6 L1242.7 56.5 L1242.8 51.7 L1242.9 52.7 L1243 56.9 L1243.1 55.6 L1243.2 54.5 L1243.3 52.9 L1243.5 51.5 L1243.6 55.3 L1243.7 56.2 L1243.8 56.6 L1243.9 54.2 L1244 54.8 L1244.1 53.7 L1244.2 53.6 L1244.3 54.1 L1244.4 51.3 L1244.5 52.6 L1244.7 51.1 L1244.8 51.7 L1244.9 52.9 L1245 52.8 L1245.1 52.1 L1245.2 51.7 L1245.3 52.4 L1245.4 54.1 L1245.5 51 L1245.6 53 L1245.8 54.8 L1245.9 56.2 L1246 53.4 L1246.1 54.7 L1246.2 50.7 L1246.3 51.8 L1246.4 51.5 L1246.5 51.3 L1246.6 54.3 L1246.7 54.1 L1246.8 51 L1247 53.5 L1247.1 54.1 L1247.2 53 L1247.3 53.8 L1247.4 51.2 L1247.5 54.3 L1247.6 54 L1247.7 54.6 L1247.8 54.3 L1247.9 50.5 L1248.1 54 L1248.2 54.8 L1248.3 53.8 L1248.4 54.1 L1248.5 53.2 L1248.6 50.6 L1248.7 53.4 L1248.8 54 L1248.9 55.1 L1249 53.4 L1249.1 52.4 L1249.3 52.2 L1249.4 52.8 L1249.5 51.6 L1249.6 51.6 L1249.7 51.6 L1249.8 50.4 L1249.9 53.1 L1250 52.7 L1250.1 54.4 L1250.2 53 L1250.4 51.8 L1250.5 54.1 L1250.6 53.6 L1250.7 57.1 L1250.8 49.6 L1250.9 52.4 L1251 49.7 L1251.1 53.6 L1251.2 52.3 L1251.3 53 L1251.4 49.4 L1251.6 49.5 L1251.7 51 L1251.8 53.9 L1251.9 50.1 L1252 53.5 L1252.1 52.7 L1252.2 50.4 L1252.3 49.4 L1252.4 51.3 L1252.5 49.7 L1252.7 51.7 L1252.8 50.7 L1252.9 49.3 L1253 52.3 L1253.1 53.8 L1253.2 50 L1253.3 52.8 L1253.4 49.6 L1253.5 50.4 L1253.6 53.7 L1253.7 50.3 L1253.9 50.6 L1254 51.9 L1254.1 51.3 L1254.2 50.6 L1254.3 51.8 L1254.4 49.1 L1254.5 50.1 L1254.6 49.5 L1254.7 49.4 L1254.8 52.7 L1255 50.9 L1255.1 49.6 L1255.2 50.8 L1255.3 50.2 L1255.4 49.3 L1255.5 52.7 L1255.6 52.8 L1255.7 51.4 L1255.8 48.3 L1255.9 48.5 L1256 49.6 L1256.2 50.6 L1256.3 50.4 L1256.4 51.4 L1256.5 51.5 L1256.6 51.2 L1256.7 49.4 L1256.8 50.5 L1256.9 48.7 L1257 51.9 L1257.1 50.5 L1257.3 52.7 L1257.4 50.8 L1257.5 52 L1257.6 50 L1257.7 49.9 L1257.8 48.7 L1257.9 50.9 L1258 52.3 L1258.1 51.1 L1258.2 52.6 L1258.3 52.6 L1258.5 50.9 L1258.6 52.1 L1258.7 51.8 L1258.8 52.1 L1258.9 49.7 L1259 49.5 L1259.1 49.3 L1259.2 50.5 L1259.3 52.2 L1259.4 51.7 L1259.6 48.5 L1259.7 50.9 L1259.8 49 L1259.9 51.9 L1260 51.8 L1260.1 50.5 L1260.2 47.6 L1260.3 50.8 L1260.4 50 L1260.5 51.1 L1260.7 51.1 L1260.8 49.4 L1260.9 50.2 L1261 49.4 L1261.1 48.7 L1261.2 47.5 L1261.3 49.2 L1261.4 48.4 L1261.5 51.1 L1261.6 48.9 L1261.7 47.2 L1261.9 48.5 L1262 47.3 L1262.1 48 L1262.2 49.1 L1262.3 49.1 L1262.4 50.2 L1262.5 48 L1262.6 49.6 L1262.7 51.4 L1262.8 46.7 L1263 49.6 L1263.1 47.9 L1263.2 51.4 L1263.3 47.3 L1263.4 47.5 L1263.5 50.7 L1263.6 48.8 L1263.7 50.5 L1263.8 51.3 L1263.9 48.5 L1264 46.3 L1264.2 49.3 L1264.3 48.9 L1264.4 49.6 L1264.5 50.1 L1264.6 48.2 L1264.7 46.5 L1264.8 48.2 L1264.9 47 L1265 47.3 L1265.1 50.8 L1265.3 47.6 L1265.4 50 L1265.5 47.3 L1265.6 48 L1265.7 49.3 L1265.8 49.3 L1265.9 46.8 L1266 50.2 L1266.1 49.2 L1266.2 47.6 L1266.3 50.2 L1266.5 47.2 L1266.6 49.5 L1266.7 49.2 L1266.8 47.1 L1266.9 45.9 L1267 47.9 L1267.1 48.4 L1267.2 45.7 L1267.3 46.3 L1267.4 50.4 L1267.6 47.3 L1267.7 45.7 L1267.8 47.1 L1267.9 50.3 L1268 45.9 L1268.1 49.5 L1268.2 50.2 L1268.3 48.1 L1268.4 48 L1268.5 47.4 L1268.6 50 L1268.8 48.9 L1268.9 47.8 L1269 46.4 L1269.1 47.4 L1269.2 48.7 L1269.3 46.6 L1269.4 49.4 L1269.5 48.7 L1269.6 49.3 L1269.7 49 L1269.9 48.9 L1270 48.2 L1270.1 47.1 L1270.2 49.6 L1270.3 45.8 L1270.4 46.3 L1270.5 46.6 L1270.6 50 L1270.7 47.7 L1270.8 47.9 L1270.9 46.5 L1271.1 48.3 L1271.2 48 L1271.3 48.7 L1271.4 47.9 L1271.5 46.9 L1271.6 49.2 L1271.7 45.7 L1271.8 49.4 L1271.9 44.8 L1272 45 L1272.2 47.7 L1272.3 48.3 L1272.4 45.6 L1272.5 49.2 L1272.6 44.7 L1272.7 46.9 L1272.8 46.7 L1272.9 48.1 L1273 49.2 L1273.1 45.1 L1273.2 46.8 L1273.4 47.9 L1273.5 45.4 L1273.6 44.8 L1273.7 44.9 L1273.8 45.2 L1273.9 47.1 L1274 45.9 L1274.1 46.7 L1274.2 44.4 L1274.3 45.6 L1274.5 44.5 L1274.6 47.3 L1274.7 45.5 L1274.8 45.1 L1274.9 46.3 L1275 45.6 L1275.1 44.9 L1275.2 47.2 L1275.3 45.9 L1275.4 48.6 L1275.5 46.2 L1275.7 45.9 L1275.8 48.1 L1275.9 46.6 L1276 47.3 L1276.1 48.3 L1276.2 46.6 L1276.3 44.3 L1276.4 44.5 L1276.5 45.9 L1276.6 45.1 L1276.8 48.2 L1276.9 43.9 L1277 44.1 L1277.1 46.5 L1277.2 44.9 L1277.3 48.3 L1277.4 47.1 L1277.5 44.4 L1277.6 46.1 L1277.7 47.9 L1277.8 44.9 L1278 43.6 L1278.1 47.1 L1278.2 45.8 L1278.3 47.3 L1278.4 47.4 L1278.5 47.5 L1278.6 45 L1278.7 44.4 L1278.8 45 L1278.9 46.7 L1279.1 45.8 L1279.2 44.6 L1279.3 47.2 L1279.4 45.1 L1279.5 44.6 L1279.6 47.1 L1279.7 46.9 L1279.8 46.8 L1279.9 45.6 L1280 46.9 L1280.1 45.4 L1280.3 44.5 L1280.4 43.8 L1280.5 45.9 L1280.6 42.9 L1280.7 45 L1280.8 44.8 L1280.9 43.9 L1281 44.1 L1281.1 43.9 L1281.2 43.5 L1281.4 46.8 L1281.5 43 L1281.6 42.9 L1281.7 47.1 L1281.8 45.2 L1281.9 47.1 L1282 45.6 L1282.1 43.8 L1282.2 46.6 L1282.3 46.5 L1282.4 42.9 L1282.6 45.4 L1282.7 46.4 L1282.8 42.5 L1282.9 47 L1283 45.2 L1283.1 46 L1283.2 44.8 L1283.3 45.3 L1283.4 43.9 L1283.5 43.7 L1283.7 42.8 L1283.8 45.5 L1283.9 44.2 L1284 45 L1284.1 43.3 L1284.2 43.4 L1284.3 46 L1284.4 45.4 L1284.5 43.7 L1284.6 43.8 L1284.7 45.9 L1284.9 43.3 L1285 44.3 L1285.1 42.4 L1285.2 43.4 L1285.3 44.2 L1285.4 50.3 L1285.5 42.9 L1285.6 43.2 L1285.7 44.7 L1285.8 41.8 L1286 46 L1286.1 45.8 L1286.2 42.6 L1286.3 42.9 L1286.4 43.1 L1286.5 45.5 L1286.6 43.4 L1286.7 44.2 L1286.8 41.7 L1286.9 47.2 L1287 44.8 L1287.2 41.8 L1287.3 45.1 L1287.4 42.7 L1287.5 45.1 L1287.6 45.2 L1287.7 42 L1287.8 42 L1287.9 44.4 L1288 43.8 L1288.1 45.3 L1288.3 45.2 L1288.4 45.5 L1288.5 43.7 L1288.6 41.5 L1288.7 41.9 L1288.8 45.6 L1288.9 41.9 L1289 42.7 L1289.1 43.5 L1289.2 41.6 L1289.4 44.7 L1289.5 43.1 L1289.6 41.4 L1289.7 43 L1289.8 44.2 L1289.9 44.2 L1290 44.6 L1290.1 43.2 L1290.2 44.2 L1290.3 43.3 L1290.4 44.3 L1290.6 41.6 L1290.7 42.4 L1290.8 44.7 L1290.9 43.4 L1291 45.3 L1291.1 44.9 L1291.2 41.1 L1291.3 41 L1291.4 44.3 L1291.5 43.7 L1291.7 41.6 L1291.8 42.5 L1291.9 42.3 L1292 41.7 L1292.1 40.7 L1292.2 42.4 L1292.3 42.5 L1292.4 40.8 L1292.5 41.6 L1292.6 41.5 L1292.7 40.8 L1292.9 44.4 L1293 41.3 L1293.1 42.5 L1293.2 41.5 L1293.3 43.4 L1293.4 42.3 L1293.5 44.9 L1293.6 41.8 L1293.7 41.3 L1293.8 40.4 L1294 41.2 L1294.1 42.3 L1294.2 43.1 L1294.3 44.1 L1294.4 42.9 L1294.5 43.7 L1294.6 42 L1294.7 42.9 L1294.8 44.1 L1294.9 42.3 L1295 41.2 L1295.2 40.4 L1295.3 42.2 L1295.4 42 L1295.5 41.8 L1295.6 42.6 L1295.7 41 L1295.8 43.1 L1295.9 40.5 L1296 40.9 L1296.1 42.7 L1296.3 40.3 L1296.4 40.4 L1296.5 41.7 L1296.6 43.8 L1296.7 40 L1296.8 44 L1296.9 42 L1297 43.2 L1297.1 40.9 L1297.2 40.2 L1297.3 42 L1297.5 42.7 L1297.6 43.3 L1297.7 41.3 L1297.8 42.9 L1297.9 40.4 L1298 41.2 L1298.1 40.4 L1298.2 43.7 L1298.3 44 L1298.4 43.7 L1298.6 40 L1298.7 39.7 L1298.8 42.4 L1298.9 42.5 L1299 43.5 L1299.1 41.9 L1299.2 43.5 L1299.3 40.1 L1299.4 43.6 L1299.5 42.8 L1299.6 40.9 L1299.8 44.6 L1299.9 40 L1300 40.4 L1300.1 41.3 L1300.2 42.1 L1300.3 42.9 L1300.4 41.2 L1300.5 39.2 L1300.6 40.5 L1300.7 41.1 L1300.9 41.6 L1301 39.1 L1301.1 40.2 L1301.2 40.5 L1301.3 39.3 L1301.4 41.2 L1301.5 42.3 L1301.6 39.3 L1301.7 43.2 L1301.8 42.9 L1301.9 39.4 L1302.1 40.6 L1302.2 41.3 L1302.3 39.6 L1302.4 42.6 L1302.5 39.4 L1302.6 39.1 L1302.7 42.5 L1302.8 43.1 L1302.9 42.4 L1303 42.2 L1303.2 39.9 L1303.3 39 L1303.4 41.6 L1303.5 41.6 L1303.6 42.5 L1303.7 42.2 L1303.8 41.8 L1303.9 38.7 L1304 41.3 L1304.1 40.7 L1304.2 38.6 L1304.4 39.6 L1304.5 39.3 L1304.6 42.6 L1304.7 41.4 L1304.8 42.5 L1304.9 40.6 L1305 41.9 L1305.1 41 L1305.2 41.9 L1305.3 42.7 L1305.5 41.6 L1305.6 42.2 L1305.7 39.5 L1305.8 41.7 L1305.9 42.4 L1306 40.9 L1306.1 40.6 L1306.2 41.7 L1306.3 41.5 L1306.4 38.2 L1306.5 41.2 L1306.7 39.5 L1306.8 39.6 L1306.9 39 L1307 39.3 L1307.1 39.3 L1307.2 38.4 L1307.3 41.8 L1307.4 40 L1307.5 39.6 L1307.6 38.1 L1307.8 41.1 L1307.9 38.9 L1308 40 L1308.1 39.8 L1308.2 39 L1308.3 38.6 L1308.4 41.3 L1308.5 38 L1308.6 40.8 L1308.7 41.9 L1308.8 38.5 L1309 38.9 L1309.1 38.7 L1309.2 39.7 L1309.3 39.5 L1309.4 41.6 L1309.5 40.9 L1309.6 40.6 L1309.7 38.8 L1309.8 38.7 L1309.9 38 L1310.1 40.1 L1310.2 38.1 L1310.3 40.3 L1310.4 39.7 L1310.5 41.4 L1310.6 38.4 L1310.7 37.8 L1310.8 40 L1310.9 40 L1311 39.3 L1311.1 40.7 L1311.3 41.2 L1311.4 37.8 L1311.5 38 L1311.6 41 L1311.7 37.3 L1311.8 38.2 L1311.9 37.5 L1312 40 L1312.1 37.8 L1312.2 40.7 L1312.4 41.1 L1312.5 38 L1312.6 38.8 L1312.7 37.5 L1312.8 39.8 L1312.9 40.3 L1313 37.5 L1313.1 40.3 L1313.2 38 L1313.3 39.1 L1313.4 37.6 L1313.6 40.8 L1313.7 39.4 L1313.8 40 L1313.9 39 L1314 40.2 L1314.1 37.9 L1314.2 39.2 L1314.3 39.2 L1314.4 37.3 L1314.5 38.9 L1314.7 39.1 L1314.8 38.3 L1314.9 39 L1315 39 L1315.1 37.5 L1315.2 38.3 L1315.3 38.3 L1315.4 37.8 L1315.5 37.5 L1315.6 39.9 L1315.7 37.1 L1315.9 38.5 L1316 39.1 L1316.1 40.7 L1316.2 39.8 L1316.3 39 L1316.4 38.7 L1316.5 38.7 L1316.6 40.6 L1316.7 39.2 L1316.8 37 L1317 37.7 L1317.1 38.3 L1317.2 37.3 L1317.3 39.8 L1317.4 38.4 L1317.5 39.1 L1317.6 37.2 L1317.7 39.3 L1317.8 37.5 L1317.9 36.3 L1318.1 40.2 L1318.2 37.3 L1318.3 39.1 L1318.4 36.8 L1318.5 37.2 L1318.6 39.9 L1318.7 38.3 L1318.8 37.9 L1318.9 36.3 L1319 36.9 L1319.1 38.5 L1319.3 37.6 L1319.4 37.9 L1319.5 39.6 L1319.6 39.1 L1319.7 38.3 L1319.8 37.3 L1319.9 39 L1320 38.1 L1320.1 38.7 L1320.2 38.6 L1320.4 38.6 L1320.5 37.2 L1320.6 37.9 L1320.7 39.5 L1320.8 38.5 L1320.9 39.5 L1321 38.5 L1321.1 36.8 L1321.2 39.5 L1321.3 37.9 L1321.4 37.3 L1321.6 37.6 L1321.7 36.8 L1321.8 36.4 L1321.9 39.2 L1322 37.1 L1322.1 37.4 L1322.2 38.7 L1322.3 37.6 L1322.4 39.2 L1322.5 36.5 L1322.7 38.8 L1322.8 39 L1322.9 38.7 L1323 36.7 L1323.1 38.7 L1323.2 37.9 L1323.3 37.6 L1323.4 37.7 L1323.5 37.7 L1323.6 39.3 L1323.7 38.3 L1323.9 38.3 L1324 39.2 L1324.1 37.1 L1324.2 37.9 L1324.3 37.5 L1324.4 36.6 L1324.5 38.6 L1324.6 35.9 L1324.7 38.1 L1324.8 37 L1325 37.2 L1325.1 35.2 L1325.2 36.3 L1325.3 37.2 L1325.4 37.2 L1325.5 38 L1325.6 35.2 L1325.7 38 L1325.8 35.4 L1325.9 36.1 L1326 38.6 L1326.2 40.2 L1326.3 36 L1326.4 36.6 L1326.5 38.2 L1326.6 35.7 L1326.7 36.7 L1326.8 36.5 L1326.9 36.9 L1327 38 L1327.1 36.2 L1327.3 36.1 L1327.4 38.8 L1327.5 35.4 L1327.6 38.4 L1327.7 38.7 L1327.8 37.1 L1327.9 38.7 L1328 36.3 L1328.1 37.2 L1328.2 38 L1328.3 36.5 L1328.5 37.4 L1328.6 35.1 L1328.7 35.6 L1328.8 34.9 L1328.9 36.7 L1329 36.7 L1329.1 38.2 L1329.2 36.5 L1329.3 36.3 L1329.4 35.7 L1329.6 37.6 L1329.7 35 L1329.8 36.5 L1329.9 37.5 L1330 38.3 L1330.1 36.1 L1330.2 35.9 L1330.3 37.7 L1330.4 35.8 L1330.5 38.1 L1330.6 35.4 L1330.8 40 L1330.9 37.5 L1331 36.5 L1331.1 36.4 L1331.2 37.2 L1331.3 35.9 L1331.4 36.9 L1331.5 37.1 L1331.6 34.7 L1331.7 38.2 L1331.9 36.8 L1332 37.8 L1332.1 37.7 L1332.2 38.1 L1332.3 38.3 L1332.4 34.6 L1332.5 37.9 L1332.6 34.7 L1332.7 36.7 L1332.8 34.9 L1332.9 36.3 L1333.1 35 L1333.2 34.3 L1333.3 35.4 L1333.4 36.8 L1333.5 37.9 L1333.6 37.5 L1333.7 39.1 L1333.8 38.1 L1333.9 35 L1334 34.6 L1334.2 34.3 L1334.3 37.2 L1334.4 37 L1334.5 34.2 L1334.6 35.9 L1334.7 37.2 L1334.8 35.4 L1334.9 35.4 L1335 36.4 L1335.1 37.9 L1335.2 38.9 L1335.4 37.4 L1335.5 34.5 L1335.6 34.1 L1335.7 37.3 L1335.8 34.6 L1335.9 37.3 L1336 34.7 L1336.1 34.6 L1336.2 36.1 L1336.3 35 L1336.5 35 L1336.6 34.6 L1336.7 35.1 L1336.8 35.2 L1336.9 34.5 L1337 36.2 L1337.1 36.5 L1337.2 36.2 L1337.3 36.6 L1337.4 34.3 L1337.5 36.1 L1337.7 35.7 L1337.8 37.6 L1337.9 36.1 L1338 36 L1338.1 35.1 L1338.2 35.2 L1338.3 37.4 L1338.4 36.6 L1338.5 35.7 L1338.6 35.5 L1338.8 33.7 L1338.9 36.2 L1339 35.4 L1339.1 34.5 L1339.2 33.7 L1339.3 35 L1339.4 35 L1339.5 36.5 L1339.6 36.9 L1339.7 35.1 L1339.8 34.3 L1340 34.9 L1340.1 34.3 L1340.2 36 L1340.3 35.9 L1340.4 35.2 L1340.5 34.3 L1340.6 34.8 L1340.7 36.9 L1340.8 33.8 L1340.9 34.5 L1341.1 35.9 L1341.2 34.4 L1341.3 36.9 L1341.4 36.5 L1341.5 36.7 L1341.6 34.8 L1341.7 33.5 L1341.8 34 L1341.9 34.6 L1342 35.7 L1342.1 36.2 L1342.3 33.7 L1342.4 36.6 L1342.5 34.6 L1342.6 33.4 L1342.7 34 L1342.8 33.4 L1342.9 33.3 L1343 34.5 L1343.1 34.1 L1343.2 34.3 L1343.4 36.7 L1343.5 35.8 L1343.6 33.4 L1343.7 36.8 L1343.8 35.6 L1343.9 35.9 L1344 35.6 L1344.1 36 L1344.2 36.9 L1344.3 36.7 L1344.4 33.1 L1344.6 34.6 L1344.7 36.3 L1344.8 37.4 L1344.9 35.6 L1345 35.2 L1345.1 36.6 L1345.2 34.2 L1345.3 35.9 L1345.4 35.7 L1345.5 35 L1345.7 35 L1345.8 35.7 L1345.9 34.7 L1346 33.4 L1346.1 34.1 L1346.2 33.2 L1346.3 34.4 L1346.4 34 L1346.5 38.5 L1346.6 33.4 L1346.8 35.9 L1346.9 35.8 L1347 34.5 L1347.1 34.5 L1347.2 36.5 L1347.3 34.9 L1347.4 35.4 L1347.5 34.7 L1347.6 36.1 L1347.7 35.5 L1347.8 34.9 L1348 35.9 L1348.1 34.5 L1348.2 34.5 L1348.3 36 L1348.4 34.6 L1348.5 33.7 L1348.6 34.7 L1348.7 32.8 L1348.8 34.6 L1348.9 35.2 L1349.1 33.2 L1349.2 34.5 L1349.3 32.8 L1349.4 34.7 L1349.5 36.1 L1349.6 36.4 L1349.7 34.2 L1349.8 33.7 L1349.9 34.8 L1350 34.1 L1350.1 33 L1350.3 35.4 L1350.4 33 L1350.5 34.6 L1350.6 35.7 L1350.7 35.3 L1350.8 36.1 L1350.9 33.9 L1351 35.9 L1351.1 34 L1351.2 33.6 L1351.4 33 L1351.5 34.7 L1351.6 33.8 L1351.7 32.9 L1351.8 36.1 L1351.9 32.8 L1352 34.5 L1352.1 34.4 L1352.2 37.6 L1352.3 33.3 L1352.4 35.9 L1352.6 35.3 L1352.7 34 L1352.8 36.1 L1352.9 32.8 L1353 33.6 L1353.1 32.6 L1353.2 33.2 L1353.3 33.6 L1353.4 34.2 L1353.5 34.4 L1353.7 32.6 L1353.8 35.1 L1353.9 35.9 L1354 33.4 L1354.1 33.4 L1354.2 33.8 L1354.3 33.3 L1354.4 35.1 L1354.5 34.1 L1354.6 32.5 L1354.7 35 L1354.9 34.4 L1355 32.9 L1355.1 33.9 L1355.2 34.6 L1355.3 32.8 L1355.4 33.3 L1355.5 32.9 L1355.6 33.8 L1355.7 35.1 L1355.8 33.5 L1356 35.1 L1356.1 34.5 L1356.2 32.6 L1356.3 35.6 L1356.4 33.5 L1356.5 32.9 L1356.6 33.3 L1356.7 32.5 L1356.8 34.6 L1356.9 35.5 L1357 35.3 L1357.2 32.7 L1357.3 33.6 L1357.4 33.4 L1357.5 32.2 L1357.6 34.7 L1357.7 32.4 L1357.8 32.7 L1357.9 35.7 L1358 34 L1358.1 35.4 L1358.3 34 L1358.4 34.5 L1358.5 35.1 L1358.6 33.5 L1358.7 35.4 L1358.8 35.4" fill="none" stroke="#f5a0a0" stroke-width="0.8" stroke-opacity="1" stroke-linejoin="bevel"/>
<path d="M1074.1 166.3 L1074.2 171.1 L1074.3 169.5 L1074.4 163.9 L1074.5 164.5 L1074.6 171 L1074.8 162.8 L1074.9 162.9 L1075 169.8 L1075.1 166.4 L1075.2 163.7 L1075.3 164.6 L1075.4 165.5 L1075.5 161.9 L1075.6 160.1 L1075.7 165.6 L1075.9 164.2 L1076 162.5 L1076.1 166.6 L1076.2 162.3 L1076.3 165.9 L1076.4 158.7 L1076.5 161.5 L1076.6 160.7 L1076.7 159.3 L1076.8 161.2 L1076.9 157.7 L1077.1 162.6 L1077.2 162.9 L1077.3 156.1 L1077.4 158.9 L1077.5 157 L1077.6 155.1 L1077.7 163 L1077.8 157.8 L1077.9 155.1 L1078 159.6 L1078.2 155.2 L1078.3 162 L1078.4 155 L1078.5 153.1 L1078.6 156.3 L1078.7 155.6 L1078.8 156.5 L1078.9 160.2 L1079 158.2 L1079.1 154.9 L1079.2 151.8 L1079.4 152.9 L1079.5 160.2 L1079.6 155.3 L1079.7 157.2 L1079.8 151.4 L1079.9 151.1 L1080 158.1 L1080.1 155.7 L1080.2 153.1 L1080.3 153 L1080.5 150.8 L1080.6 151.4 L1080.7 150 L1080.8 157 L1080.9 153.6 L1081 150.5 L1081.1 155.7 L1081.2 150.8 L1081.3 149.5 L1081.4 154 L1081.5 156.5 L1081.7 148.7 L1081.8 155.4 L1081.9 150.2 L1082 148.9 L1082.1 148.1 L1082.2 150.4 L1082.3 154 L1082.4 151.8 L1082.5 154.8 L1082.6 149.1 L1082.8 149.8 L1082.9 149.1 L1083 155.3 L1083.1 154.8 L1083.2 149.4 L1083.3 150.1 L1083.4 148.8 L1083.5 152.5 L1083.6 146.1 L1083.7 146.2 L1083.8 149 L1084 147.4 L1084.1 152.5 L1084.2 152.3 L1084.3 149.6 L1084.4 150.4 L1084.5 150.5 L1084.6 151.2 L1084.7 153.3 L1084.8 145.3 L1084.9 149.3 L1085.1 145 L1085.2 147.4 L1085.3 150.2 L1085.4 151 L1085.5 149.7 L1085.6 143.2 L1085.7 145.9 L1085.8 144.2 L1085.9 151.1 L1086 143.6 L1086.1 144.3 L1086.3 146.7 L1086.4 142.4 L1086.5 149.3 L1086.6 147.1 L1086.7 142.8 L1086.8 145.6 L1086.9 141.8 L1087 146.3 L1087.1 142.8 L1087.2 141 L1087.4 141.5 L1087.5 145.2 L1087.6 145.8 L1087.7 142.9 L1087.8 145.5 L1087.9 142.9 L1088 140.8 L1088.1 142.3 L1088.2 142.9 L1088.3 147.2 L1088.5 140.2 L1088.6 139.8 L1088.7 143.9 L1088.8 147.1 L1088.9 146.5 L1089 144.6 L1089.1 139 L1089.2 145.3 L1089.3 144.1 L1089.4 139.4 L1089.5 142 L1089.7 138.3 L1089.8 144.7 L1089.9 143.9 L1090 144.5 L1090.1 144 L1090.2 139.7 L1090.3 144.1 L1090.4 139.3 L1090.5 138.3 L1090.6 140.3 L1090.8 141.2 L1090.9 139.2 L1091 141.9 L1091.1 141.8 L1091.2 138.6 L1091.3 141.7 L1091.4 139.4 L1091.5 142.5 L1091.6 138.6 L1091.7 142.9 L1091.8 139.5 L1092 143.1 L1092.1 141.5 L1092.2 140.1 L1092.3 138.2 L1092.4 143.8 L1092.5 136.2 L1092.6 138.1 L1092.7 139.9 L1092.8 135.4 L1092.9 136.4 L1093.1 141.7 L1093.2 141.5 L1093.3 140.2 L1093.4 142.4 L1093.5 141 L1093.6 137.1 L1093.7 139.9 L1093.8 137.2 L1093.9 140.6 L1094 137.5 L1094.1 135.4 L1094.3 141.5 L1094.4 139.8 L1094.5 140.2 L1094.6 138.5 L1094.7 140.3 L1094.8 137.4 L1094.9 138.3 L1095 134 L1095.1 138.1 L1095.2 140.2 L1095.4 139.2 L1095.5 140 L1095.6 137.3 L1095.7 140.5 L1095.8 133.9 L1095.9 140.3 L1096 136 L1096.1 133.5 L1096.2 138.4 L1096.3 136.5 L1096.4 136.2 L1096.6 139.7 L1096.7 133.9 L1096.8 137.6 L1096.9 135.8 L1097 136.7 L1097.1 136.4 L1097.2 133.3 L1097.3 136.4 L1097.4 139.2 L1097.5 133.4 L1097.7 132 L1097.8 132.4 L1097.9 135.6 L1098 139.9 L1098.1 132 L1098.2 139.9 L1098.3 136 L1098.4 132.5 L1098.5 134.9 L1098.6 133.1 L1098.7 137.3 L1098.9 135.8 L1099 133.7 L1099.1 133.3 L1099.2 138.4 L1099.3 137.5 L1099.4 134.7 L1099.5 134.4 L1099.6 137.1 L1099.7 139 L1099.8 131.6 L1100 132.2 L1100.1 133.8 L1100.2 139.4 L1100.3 131.3 L1100.4 131.1 L1100.5 132.4 L1100.6 133.8 L1100.7 136.7 L1100.8 135.5 L1100.9 130.7 L1101 130.8 L1101.2 134.1 L1101.3 137.5 L1101.4 140.4 L1101.5 134.5 L1101.6 137.5 L1101.7 137.8 L1101.8 133.4 L1101.9 136.2 L1102 133 L1102.1 131.2 L1102.3 134.6 L1102.4 130.6 L1102.5 135.3 L1102.6 136.4 L1102.7 137.3 L1102.8 133.4 L1102.9 130.6 L1103 137 L1103.1 136.7 L1103.2 140.4 L1103.3 134.3 L1103.5 134.9 L1103.6 132.4 L1103.7 130.8 L1103.8 131.7 L1103.9 135.1 L1104 131.9 L1104.1 134.8 L1104.2 135.1 L1104.3 132.7 L1104.4 137 L1104.6 136.8 L1104.7 134.6 L1104.8 130.2 L1104.9 136.5 L1105 132.8 L1105.1 131.5 L1105.2 130.1 L1105.3 133.5 L1105.4 131.9 L1105.5 129.7 L1105.6 128.8 L1105.8 131.7 L1105.9 133.2 L1106 132.7 L1106.1 135.7 L1106.2 135.8 L1106.3 136 L1106.4 134.8 L1106.5 132.1 L1106.6 132.5 L1106.7 131.4 L1106.9 131.4 L1107 128.4 L1107.1 134.6 L1107.2 130 L1107.3 128.2 L1107.4 131.7 L1107.5 133.7 L1107.6 131.4 L1107.7 130.8 L1107.8 133.1 L1107.9 129.1 L1108.1 127.8 L1108.2 133.6 L1108.3 131.9 L1108.4 134.6 L1108.5 130.9 L1108.6 133.9 L1108.7 127.6 L1108.8 127.7 L1108.9 132.3 L1109 129.2 L1109.2 127.9 L1109.3 128.4 L1109.4 130.3 L1109.5 130 L1109.6 131.8 L1109.7 134.3 L1109.8 130.1 L1109.9 128.6 L1110 131.7 L1110.1 127.1 L1110.2 130.1 L1110.4 129.5 L1110.5 130.1 L1110.6 127.3 L1110.7 131.3 L1110.8 131.8 L1110.9 132.8 L1111 134.4 L1111.1 129.6 L1111.2 132 L1111.3 130.2 L1111.5 128.4 L1111.6 133.7 L1111.7 132.5 L1111.8 134.1 L1111.9 134.5 L1112 133.8 L1112.1 127.5 L1112.2 126.5 L1112.3 128 L1112.4 129.6 L1112.5 131.8 L1112.7 129.8 L1112.8 130.3 L1112.9 132.3 L1113 126.7 L1113.1 131.6 L1113.2 126.5 L1113.3 128.1 L1113.4 131.8 L1113.5 131.5 L1113.6 129.2 L1113.8 128.3 L1113.9 132.5 L1114 128.1 L1114.1 126.1 L1114.2 129.9 L1114.3 126 L1114.4 132.2 L1114.5 126.7 L1114.6 133.4 L1114.7 127.4 L1114.8 128.1 L1115 130.3 L1115.1 128 L1115.2 128.6 L1115.3 126.4 L1115.4 128.6 L1115.5 126 L1115.6 127.2 L1115.7 132.6 L1115.8 127.6 L1115.9 127.5 L1116.1 130.7 L1116.2 132.3 L1116.3 127.6 L1116.4 129.6 L1116.5 130.8 L1116.6 131.4 L1116.7 130 L1116.8 126.5 L1116.9 126.5 L1117 131 L1117.2 130.6 L1117.3 132.1 L1117.4 131.1 L1117.5 128.3 L1117.6 126 L1117.7 131.9 L1117.8 130.3 L1117.9 129.4 L1118 135.7 L1118.1 127.8 L1118.2 127.5 L1118.4 129.2 L1118.5 128.5 L1118.6 130.2 L1118.7 132 L1118.8 131.3 L1118.9 133.5 L1119 127.5 L1119.1 131.8 L1119.2 127.6 L1119.3 131.5 L1119.5 125.2 L1119.6 128 L1119.7 128.4 L1119.8 130.7 L1119.9 131.2 L1120 125.5 L1120.1 129.1 L1120.2 129.2 L1120.3 125.4 L1120.4 130.7 L1120.5 128.5 L1120.7 131.7 L1120.8 125.6 L1120.9 128.2 L1121 126.6 L1121.1 129.1 L1121.2 128.8 L1121.3 128 L1121.4 126.5 L1121.5 127.9 L1121.6 126.8 L1121.8 130.8 L1121.9 127.5 L1122 127.6 L1122.1 125.9 L1122.2 125.8 L1122.3 131.2 L1122.4 127.1 L1122.5 130.5 L1122.6 128.3 L1122.7 131.3 L1122.8 125.8 L1123 130.9 L1123.1 129.6 L1123.2 128 L1123.3 129.1 L1123.4 129.1 L1123.5 127 L1123.6 128.4 L1123.7 125.3 L1123.8 123.6 L1123.9 128.7 L1124.1 127.1 L1124.2 130.4 L1124.3 125.4 L1124.4 129.6 L1124.5 130.9 L1124.6 130.2 L1124.7 131.7 L1124.8 125.8 L1124.9 124.5 L1125 125 L1125.1 126 L1125.3 124.1 L1125.4 124.3 L1125.5 123.3 L1125.6 130.2 L1125.7 125.8 L1125.8 127.8 L1125.9 126.5 L1126 128.7 L1126.1 129.1 L1126.2 125.9 L1126.4 127 L1126.5 123.7 L1126.6 125.1 L1126.7 124.6 L1126.8 125.2 L1126.9 125.3 L1127 127.2 L1127.1 125.3 L1127.2 125.3 L1127.3 129.1 L1127.4 122.8 L1127.6 122.7 L1127.7 123.1 L1127.8 129.2 L1127.9 127.4 L1128 128.1 L1128.1 129.8 L1128.2 124.2 L1128.3 129.5 L1128.4 124.4 L1128.5 126.4 L1128.7 127.6 L1128.8 128.5 L1128.9 124.3 L1129 126 L1129.1 122.7 L1129.2 124.5 L1129.3 129.7 L1129.4 129.2 L1129.5 126.7 L1129.6 128.2 L1129.7 129.1 L1129.9 124.7 L1130 129.6 L1130.1 125.6 L1130.2 123.4 L1130.3 126.1 L1130.4 126.6 L1130.5 127.3 L1130.6 127.1 L1130.7 122.4 L1130.8 126.8 L1131 128.9 L1131.1 127 L1131.2 129.3 L1131.3 125.8 L1131.4 128 L1131.5 123 L1131.6 128.6 L1131.7 125.1 L1131.8 128.4 L1131.9 124.2 L1132 126.5 L1132.2 128.1 L1132.3 127.1 L1132.4 126.4 L1132.5 129 L1132.6 122.4 L1132.7 122.4 L1132.8 125.8 L1132.9 128.8 L1133 126.7 L1133.1 123.9 L1133.3 122.4 L1133.4 124.9 L1133.5 125.2 L1133.6 125 L1133.7 126.1 L1133.8 123.5 L1133.9 128 L1134 123.6 L1134.1 122.2 L1134.2 124 L1134.3 128.8 L1134.5 122.5 L1134.6 123.4 L1134.7 128.2 L1134.8 123.9 L1134.9 127.5 L1135 121.6 L1135.1 127.8 L1135.2 123 L1135.3 123.9 L1135.4 126.6 L1135.6 128.4 L1135.7 128.2 L1135.8 126.6 L1135.9 127.8 L1136 128.3 L1136.1 125.1 L1136.2 124.3 L1136.3 127.2 L1136.4 123.9 L1136.5 125.9 L1136.6 124.6 L1136.8 121.2 L1136.9 121 L1137 122.8 L1137.1 125.2 L1137.2 126.3 L1137.3 127.8 L1137.4 126.8 L1137.5 127.7 L1137.6 125.4 L1137.7 126.1 L1137.9 125 L1138 121.5 L1138.1 121.1 L1138.2 126.2 L1138.3 122.1 L1138.4 126.4 L1138.5 124 L1138.6 120.6 L1138.7 124.6 L1138.8 123.7 L1138.9 121 L1139.1 122.4 L1139.2 122.7 L1139.3 122.9 L1139.4 126 L1139.5 121.6 L1139.6 123.6 L1139.7 124.7 L1139.8 127.2 L1139.9 121.1 L1140 120.8 L1140.2 121.6 L1140.3 121.8 L1140.4 121.4 L1140.5 120.7 L1140.6 121.7 L1140.7 121.8 L1140.8 123.6 L1140.9 124.8 L1141 122.7 L1141.1 121.3 L1141.2 120.7 L1141.4 121.9 L1141.5 122.3 L1141.6 123.4 L1141.7 126.2 L1141.8 125.1 L1141.9 121.4 L1142 120.1 L1142.1 120.3 L1142.2 123 L1142.3 122.4 L1142.5 124.7 L1142.6 120.4 L1142.7 121.6 L1142.8 124.7 L1142.9 123.8 L1143 123.4 L1143.1 126.1 L1143.2 120.4 L1143.3 121 L1143.4 123.6 L1143.5 123.6 L1143.7 126.6 L1143.8 127.2 L1143.9 123.7 L1144 124.9 L1144.1 124.4 L1144.2 127.1 L1144.3 123.7 L1144.4 121.6 L1144.5 121.9 L1144.6 120.4 L1144.8 119.4 L1144.9 125.4 L1145 124.4 L1145.1 124.6 L1145.2 121.3 L1145.3 122.2 L1145.4 120.4 L1145.5 123.4 L1145.6 125.1 L1145.7 124.6 L1145.9 125.7 L1146 120.9 L1146.1 124 L1146.2 119.9 L1146.3 122.8 L1146.4 119.7 L1146.5 122.8 L1146.6 122.8 L1146.7 121.4 L1146.8 121.3 L1146.9 123.9 L1147.1 125.1 L1147.2 121.7 L1147.3 119.6 L1147.4 120.8 L1147.5 124.7 L1147.6 125.6 L1147.7 121.3 L1147.8 126.5 L1147.9 124.8 L1148 120.2 L1148.2 120.5 L1148.3 123.5 L1148.4 120.7 L1148.5 125.3 L1148.6 121.1 L1148.7 123.6 L1148.8 123.4 L1148.9 119.9 L1149 124.5 L1149.1 120.7 L1149.2 119.1 L1149.4 118.7 L1149.5 121.5 L1149.6 122.7 L1149.7 120.2 L1149.8 124.2 L1149.9 120.4 L1150 124.1 L1150.1 118.4 L1150.2 120 L1150.3 119.3 L1150.5 121.2 L1150.6 120.5 L1150.7 120.8 L1150.8 124 L1150.9 122.1 L1151 122.2 L1151.1 120.7 L1151.2 123.6 L1151.3 121.4 L1151.4 123.1 L1151.5 124.3 L1151.7 122.1 L1151.8 120.9 L1151.9 119.7 L1152 124.2 L1152.1 123.1 L1152.2 123.3 L1152.3 119.3 L1152.4 120.7 L1152.5 123.8 L1152.6 119.4 L1152.8 123.8 L1152.9 121.4 L1153 119.1 L1153.1 120.2 L1153.2 118.1 L1153.3 122.2 L1153.4 122.6 L1153.5 117.7 L1153.6 119.5 L1153.7 122.8 L1153.8 118.8 L1154 121.1 L1154.1 123 L1154.2 121.3 L1154.3 119.3 L1154.4 123.6 L1154.5 122.5 L1154.6 121.2 L1154.7 119.5 L1154.8 121.2 L1154.9 119.9 L1155.1 120.1 L1155.2 118 L1155.3 117.4 L1155.4 121.3 L1155.5 118.7 L1155.6 121.4 L1155.7 121 L1155.8 121.1 L1155.9 122.7 L1156 117.6 L1156.1 119.6 L1156.3 117.4 L1156.4 119.8 L1156.5 117.4 L1156.6 117.3 L1156.7 117.5 L1156.8 119.5 L1156.9 122.1 L1157 118.7 L1157.1 121.9 L1157.2 118.3 L1157.4 118.6 L1157.5 119.9 L1157.6 117.1 L1157.7 119.7 L1157.8 120.6 L1157.9 122.3 L1158 116.9 L1158.1 122.1 L1158.2 120.4 L1158.3 120.5 L1158.4 116.8 L1158.6 122.5 L1158.7 118.3 L1158.8 120.2 L1158.9 120.1 L1159 122.7 L1159.1 120.5 L1159.2 123.2 L1159.3 117.8 L1159.4 120.8 L1159.5 120.2 L1159.7 119.7 L1159.8 120.5 L1159.9 120 L1160 118.4 L1160.1 120.5 L1160.2 116.6 L1160.3 119.4 L1160.4 119.2 L1160.5 117.5 L1160.6 119.9 L1160.7 120.6 L1160.9 116.8 L1161 118 L1161.1 116.3 L1161.2 120 L1161.3 116.4 L1161.4 117.4 L1161.5 118.9 L1161.6 118.9 L1161.7 115.9 L1161.8 122.3 L1162 117.3 L1162.1 119.9 L1162.2 117.2 L1162.3 119.8 L1162.4 118 L1162.5 117.8 L1162.6 118.9 L1162.7 119.6 L1162.8 119.7 L1162.9 120.3 L1163 117.3 L1163.2 116.1 L1163.3 117.2 L1163.4 117.7 L1163.5 120.8 L1163.6 118.2 L1163.7 118.2 L1163.8 116 L1163.9 119.4 L1164 116 L1164.1 118.8 L1164.3 120 L1164.4 119.5 L1164.5 116.3 L1164.6 120.3 L1164.7 121.7 L1164.8 115.7 L1164.9 119.8 L1165 118.1 L1165.1 119.3 L1165.2 117.8 L1165.3 116 L1165.5 118.9 L1165.6 115 L1165.7 121.4 L1165.8 120.5 L1165.9 117.5 L1166 118.6 L1166.1 118.5 L1166.2 121.7 L1166.3 115.1 L1166.4 116.8 L1166.6 117.6 L1166.7 120.2 L1166.8 119.8 L1166.9 117.6 L1167 114.7 L1167.1 119.2 L1167.2 117.5 L1167.3 115.4 L1167.4 119 L1167.5 117.7 L1167.6 116.7 L1167.8 116.4 L1167.9 118.1 L1168 116.2 L1168.1 117.2 L1168.2 121 L1168.3 117.7 L1168.4 116.1 L1168.5 118 L1168.6 120.7 L1168.7 120.4 L1168.9 120.2 L1169 120.6 L1169.1 119.5 L1169.2 119 L1169.3 117.2 L1169.4 115.2 L1169.5 119.3 L1169.6 118.6 L1169.7 120.9 L1169.8 116.3 L1169.9 120.2 L1170.1 115.6 L1170.2 120.6 L1170.3 121 L1170.4 114.3 L1170.5 116.2 L1170.6 120.9 L1170.7 120.7 L1170.8 118.6 L1170.9 114.8 L1171 113.9 L1171.2 115.6 L1171.3 120.4 L1171.4 119.4 L1171.5 116.8 L1171.6 119.1 L1171.7 120 L1171.8 115.8 L1171.9 122.4 L1172 115.6 L1172.1 115.9 L1172.2 113.9 L1172.4 114.7 L1172.5 117.4 L1172.6 113.7 L1172.7 117.4 L1172.8 114.7 L1172.9 118.7 L1173 114.4 L1173.1 114.9 L1173.2 115.3 L1173.3 117.5 L1173.5 119.1 L1173.6 118.6 L1173.7 118.5 L1173.8 118.1 L1173.9 117.1 L1174 115.7 L1174.1 114.5 L1174.2 119.3 L1174.3 116.1 L1174.4 117.8 L1174.6 113.7 L1174.7 115.7 L1174.8 113.9 L1174.9 115.6 L1175 119 L1175.1 115.5 L1175.2 117.8 L1175.3 113.9 L1175.4 115.7 L1175.5 115.9 L1175.6 116.5 L1175.8 114.6 L1175.9 117.8 L1176 119.1 L1176.1 118.6 L1176.2 113.1 L1176.3 116.3 L1176.4 115.3 L1176.5 116.8 L1176.6 113.4 L1176.7 117.9 L1176.9 115.7 L1177 119.3 L1177.1 112.9 L1177.2 115.6 L1177.3 116.1 L1177.4 118.5 L1177.5 117.9 L1177.6 113.9 L1177.7 114.8 L1177.8 117.7 L1177.9 115.5 L1178.1 114.4 L1178.2 119 L1178.3 118.4 L1178.4 115 L1178.5 116.3 L1178.6 118.9 L1178.7 113.9 L1178.8 118.8 L1178.9 118.6 L1179 117.4 L1179.2 117.1 L1179.3 117.1 L1179.4 116.1 L1179.5 116.4 L1179.6 113.6 L1179.7 116.2 L1179.8 116.9 L1179.9 115.6 L1180 116.9 L1180.1 115.4 L1180.2 117.8 L1180.4 117.2 L1180.5 112.7 L1180.6 117.5 L1180.7 114.1 L1180.8 112.6 L1180.9 112.9 L1181 114.3 L1181.1 115.7 L1181.2 114.3 L1181.3 116.1 L1181.5 117.3 L1181.6 114.5 L1181.7 118 L1181.8 113.6 L1181.9 116.7 L1182 114.3 L1182.1 117.8 L1182.2 116.3 L1182.3 116.5 L1182.4 112.4 L1182.5 117 L1182.7 114.2 L1182.8 116.9 L1182.9 117.6 L1183 112.5 L1183.1 111.8 L1183.2 116.9 L1183.3 118.4 L1183.4 117.9 L1183.5 114.6 L1183.6 117.4 L1183.8 111.7 L1183.9 111.9 L1184 115.6 L1184.1 115.2 L1184.2 117.2 L1184.3 113.1 L1184.4 114.7 L1184.5 118.3 L1184.6 113.5 L1184.7 114.2 L1184.8 115.6 L1185 118.3 L1185.1 112.6 L1185.2 119.9 L1185.3 114.2 L1185.4 114.1 L1185.5 113 L1185.6 114.5 L1185.7 115.2 L1185.8 113.9 L1185.9 114.7 L1186.1 116 L1186.2 117.1 L1186.3 115 L1186.4 113.8 L1186.5 117.8 L1186.6 112.3 L1186.7 111.4 L1186.8 117.4 L1186.9 112.9 L1187 112 L1187.1 115 L1187.3 113.3 L1187.4 113.4 L1187.5 116.9 L1187.6 112.9 L1187.7 111.8 L1187.8 112.4 L1187.9 117.5 L1188 113.8 L1188.1 113.3 L1188.2 116.2 L1188.4 117.3 L1188.5 114.6 L1188.6 116.4 L1188.7 112.6 L1188.8 113.1 L1188.9 114.7 L1189 112.3 L1189.1 112.6 L1189.2 111.9 L1189.3 112.4 L1189.4 116.5 L1189.6 116.1 L1189.7 111.3 L1189.8 113 L1189.9 115.6 L1190 116.5 L1190.1 114.4 L1190.2 115.5 L1190.3 112.1 L1190.4 115.9 L1190.5 116.2 L1190.7 113.2 L1190.8 112 L1190.9 110.6 L1191 114.7 L1191.1 114.8 L1191.2 110.3 L1191.3 113.9 L1191.4 116.8 L1191.5 110.5 L1191.6 111.2 L1191.7 110.6 L1191.9 113.3 L1192 112.9 L1192.1 116.3 L1192.2 110.6 L1192.3 111.5 L1192.4 116.7 L1192.5 110.2 L1192.6 111.9 L1192.7 112.8 L1192.8 110.1 L1193 112 L1193.1 114.2 L1193.2 114.3 L1193.3 114.2 L1193.4 114.5 L1193.5 114.3 L1193.6 110.2 L1193.7 114.5 L1193.8 114 L1193.9 111.4 L1194 112.8 L1194.2 111.5 L1194.3 115.9 L1194.4 111.8 L1194.5 110.9 L1194.6 115.4 L1194.7 115.1 L1194.8 115.7 L1194.9 114.5 L1195 112.6 L1195.1 113 L1195.3 113.6 L1195.4 113.8 L1195.5 116.3 L1195.6 116.2 L1195.7 115 L1195.8 109.7 L1195.9 110.9 L1196 116.2 L1196.1 111.3 L1196.2 114 L1196.3 115.9 L1196.5 114.1 L1196.6 112.9 L1196.7 114.4 L1196.8 116.3 L1196.9 116 L1197 110.7 L1197.1 110.4 L1197.2 111.4 L1197.3 110.4 L1197.4 114.7 L1197.6 115.2 L1197.7 110.3 L1197.8 109.8 L1197.9 111.6 L1198 114.1 L1198.1 114.7 L1198.2 112.5 L1198.3 113.7 L1198.4 115.6 L1198.5 115.4 L1198.6 110 L1198.8 114.2 L1198.9 114.6 L1199 115.5 L1199.1 112.1 L1199.2 110.2 L1199.3 112.4 L1199.4 111.7 L1199.5 111.8 L1199.6 114.7 L1199.7 113.6 L1199.9 113.8 L1200 113.6 L1200.1 110 L1200.2 109.4 L1200.3 111.7 L1200.4 114.9 L1200.5 113.5 L1200.6 114.4 L1200.7 113.2 L1200.8 114.4 L1200.9 115.8 L1201.1 113.8 L1201.2 114.8 L1201.3 115.6 L1201.4 114 L1201.5 114.4 L1201.6 109.3 L1201.7 109 L1201.8 115.2 L1201.9 110.4 L1202 110.8 L1202.2 109.6 L1202.3 113.1 L1202.4 108.8 L1202.5 114.2 L1202.6 110.7 L1202.7 113.8 L1202.8 114.9 L1202.9 113.4 L1203 111.5 L1203.1 112.9 L1203.3 114.5 L1203.4 113.4 L1203.5 110.2 L1203.6 108.5 L1203.7 114.6 L1203.8 114.4 L1203.9 108.8 L1204 112.2 L1204.1 112.5 L1204.2 110.4 L1204.3 114.5 L1204.5 110 L1204.6 109.3 L1204.7 110.4 L1204.8 110.6 L1204.9 114.4 L1205 112.8 L1205.1 109 L1205.2 110.9 L1205.3 108.9 L1205.4 117.3 L1205.6 114.1 L1205.7 108.8 L1205.8 111.6 L1205.9 109.8 L1206 110.1 L1206.1 113.3 L1206.2 114.9 L1206.3 110 L1206.4 111.8 L1206.5 110.1 L1206.6 108.4 L1206.8 112.2 L1206.9 109 L1207 112.7 L1207.1 113.1 L1207.2 108.9 L1207.3 112 L1207.4 109.3 L1207.5 113.2 L1207.6 109.8 L1207.7 114 L1207.9 112.3 L1208 111.8 L1208.1 109.3 L1208.2 113.6 L1208.3 110.2 L1208.4 113.1 L1208.5 111 L1208.6 110.8 L1208.7 112.6 L1208.8 110 L1208.9 113 L1209.1 110.7 L1209.2 116.1 L1209.3 112.4 L1209.4 114.2 L1209.5 110.4 L1209.6 110 L1209.7 114.5 L1209.8 111.1 L1209.9 110.4 L1210 112.4 L1210.2 109.2 L1210.3 114.1 L1210.4 112.7 L1210.5 111.9 L1210.6 111.9 L1210.7 113 L1210.8 113.8 L1210.9 112.9 L1211 113.7 L1211.1 107.9 L1211.2 112.5 L1211.4 113.3 L1211.5 110.6 L1211.6 107.8 L1211.7 111 L1211.8 108.9 L1211.9 107.4 L1212 116.7 L1212.1 113 L1212.2 111.6 L1212.3 112.4 L1212.5 111.8 L1212.6 112.4 L1212.7 107.9 L1212.8 109.1 L1212.9 110.6 L1213 111.1 L1213.1 109.1 L1213.2 107.9 L1213.3 109.4 L1213.4 108.3 L1213.5 113.5 L1213.7 108.5 L1213.8 109.7 L1213.9 110.7 L1214 108.7 L1214.1 110.3 L1214.2 110.7 L1214.3 107.2 L1214.4 113.5 L1214.5 110.6 L1214.6 107.8 L1214.8 113.7 L1214.9 108.1 L1215 111.8 L1215.1 110.1 L1215.2 108.5 L1215.3 109.4 L1215.4 110.1 L1215.5 109.3 L1215.6 108.4 L1215.7 109.6 L1215.8 109.7 L1216 111.4 L1216.1 108 L1216.2 106.9 L1216.3 112.4 L1216.4 107 L1216.5 111 L1216.6 110.4 L1216.7 113.3 L1216.8 107.8 L1216.9 112.7 L1217.1 109.1 L1217.2 107.7 L1217.3 111 L1217.4 107.6 L1217.5 110.5 L1217.6 111.1 L1217.7 107.3 L1217.8 111.9 L1217.9 109.9 L1218 114.9 L1218.1 106.4 L1218.3 106.9 L1218.4 110.6 L1218.5 108.1 L1218.6 109.1 L1218.7 112.6 L1218.8 108.6 L1218.9 106.6 L1219 107.2 L1219.1 110.1 L1219.2 111.6 L1219.4 111.5 L1219.5 109.4 L1219.6 107.8 L1219.7 107 L1219.8 107.7 L1219.9 107.5 L1220 112.4 L1220.1 108.9 L1220.2 106.9 L1220.3 110.5 L1220.4 109.2 L1220.6 106.2 L1220.7 112.8 L1220.8 112.6 L1220.9 107.8 L1221 111.8 L1221.1 109.1 L1221.2 110.6 L1221.3 110.5 L1221.4 111 L1221.5 108.9 L1221.7 106.9 L1221.8 111.5 L1221.9 108.9 L1222 108.9 L1222.1 111.1 L1222.2 110.6 L1222.3 112.7 L1222.4 108.5 L1222.5 110.2 L1222.6 106.3 L1222.7 106.5 L1222.9 107.5 L1223 107.6 L1223.1 108.8 L1223.2 107.3 L1223.3 112.2 L1223.4 108.6 L1223.5 108.3 L1223.6 111.9 L1223.7 111.1 L1223.8 111 L1224 111.9 L1224.1 110.7 L1224.2 107.7 L1224.3 112.2 L1224.4 105.7 L1224.5 111.8 L1224.6 108.4 L1224.7 107.8 L1224.8 108.8 L1224.9 108.2 L1225 111.4 L1225.2 111 L1225.3 110.6 L1225.4 107 L1225.5 108.4 L1225.6 105.9 L1225.7 110.5 L1225.8 105.6 L1225.9 108.1 L1226 106.3 L1226.1 111.2 L1226.3 111.7 L1226.4 107.3 L1226.5 111.3 L1226.6 106.5 L1226.7 110.2 L1226.8 106.9 L1226.9 110.5 L1227 109.4 L1227.1 108.2 L1227.2 106.5 L1227.3 109.2 L1227.5 110.7 L1227.6 112.1 L1227.7 107.3 L1227.8 106.9 L1227.9 105.9 L1228 106.5 L1228.1 105.2 L1228.2 107.9 L1228.3 110.1 L1228.4 105.8 L1228.6 109.5 L1228.7 107 L1228.8 106.5 L1228.9 108.3 L1229 108 L1229.1 108 L1229.2 105.7 L1229.3 108.8 L1229.4 111.2 L1229.5 104.9 L1229.6 105.4 L1229.8 108.9 L1229.9 107 L1230 106.5 L1230.1 115.8 L1230.2 106.9 L1230.3 111.2 L1230.4 109 L1230.5 104.9 L1230.6 106.6 L1230.7 105.2 L1230.9 108.4 L1231 111 L1231.1 105 L1231.2 104.8 L1231.3 104.8 L1231.4 106.5 L1231.5 105.8 L1231.6 111.4 L1231.7 110 L1231.8 111.1 L1232 108.6 L1232.1 110.3 L1232.2 109.5 L1232.3 106.5 L1232.4 109.1 L1232.5 106.5 L1232.6 107.7 L1232.7 110.2 L1232.8 106 L1232.9 105.6 L1233 110.4 L1233.2 107.6 L1233.3 105.6 L1233.4 106.6 L1233.5 106.3 L1233.6 110.6 L1233.7 107.6 L1233.8 110.8 L1233.9 107.6 L1234 110.9 L1234.1 110.7 L1234.3 108.2 L1234.4 109.8 L1234.5 106.2 L1234.6 105 L1234.7 108.4 L1234.8 104.6 L1234.9 107.5 L1235 108.5 L1235.1 109.5 L1235.2 110.4 L1235.3 105.6 L1235.5 110.2 L1235.6 107.6 L1235.7 108.4 L1235.8 107.3 L1235.9 110 L1236 106.1 L1236.1 104.1 L1236.2 109.8 L1236.3 108.6 L1236.4 109 L1236.6 104.8 L1236.7 105.4 L1236.8 108.3 L1236.9 109.2 L1237 108.6 L1237.1 108.1 L1237.2 108.5 L1237.3 104.9 L1237.4 107.5 L1237.5 106.2 L1237.6 109 L1237.8 107.5 L1237.9 108.9 L1238 108.7 L1238.1 110.1 L1238.2 109.8 L1238.3 104.1 L1238.4 108.4 L1238.5 106.4 L1238.6 104.4 L1238.7 107.1 L1238.9 109.6 L1239 109.3 L1239.1 104.4 L1239.2 105.1 L1239.3 108.5 L1239.4 110.4 L1239.5 104.2 L1239.6 104.2 L1239.7 108.5 L1239.8 107.9 L1239.9 109.2 L1240.1 104.9 L1240.2 107 L1240.3 109.1 L1240.4 106.2 L1240.5 106.3 L1240.6 103.7 L1240.7 109.1 L1240.8 106.6 L1240.9 109.8 L1241 108 L1241.2 109.4 L1241.3 109.5 L1241.4 105.8 L1241.5 107.6 L1241.6 106.1 L1241.7 109.2 L1241.8 108.9 L1241.9 108 L1242 109.1 L1242.1 106.9 L1242.2 107.3 L1242.4 104.4 L1242.5 108.2 L1242.6 105.3 L1242.7 107.2 L1242.8 103.2 L1242.9 106 L1243 107.5 L1243.1 107.6 L1243.2 107.1 L1243.3 104.9 L1243.5 107.7 L1243.6 111.2 L1243.7 107.3 L1243.8 105.7 L1243.9 104.2 L1244 109.7 L1244.1 103.4 L1244.2 109.5 L1244.3 105.5 L1244.4 105 L1244.5 106.2 L1244.7 103.7 L1244.8 109.2 L1244.9 109.8 L1245 108.7 L1245.1 107 L1245.2 109.5 L1245.3 105.2 L1245.4 106.2 L1245.5 104.1 L1245.6 105.9 L1245.8 109.4 L1245.9 107.5 L1246 106.7 L1246.1 106.6 L1246.2 107.3 L1246.3 107.1 L1246.4 106 L1246.5 106.4 L1246.6 103.5 L1246.7 105.9 L1246.8 107.5 L1247 104.3 L1247.1 104.7 L1247.2 108.3 L1247.3 103.6 L1247.4 104 L1247.5 108.4 L1247.6 103.5 L1247.7 104.7 L1247.8 109 L1247.9 105.5 L1248.1 108.3 L1248.2 107.9 L1248.3 102.7 L1248.4 104.1 L1248.5 108.9 L1248.6 104.8 L1248.7 105.3 L1248.8 109.1 L1248.9 103.3 L1249 109.3 L1249.1 107 L1249.3 106.9 L1249.4 102.4 L1249.5 106.8 L1249.6 108.2 L1249.7 105.2 L1249.8 102.9 L1249.9 103.3 L1250 102.9 L1250.1 105.3 L1250.2 108.1 L1250.4 102.7 L1250.5 105.2 L1250.6 105.1 L1250.7 105.1 L1250.8 106 L1250.9 106 L1251 103.7 L1251.1 107.8 L1251.2 105.8 L1251.3 107.1 L1251.4 108.9 L1251.6 107.1 L1251.7 103.3 L1251.8 108.9 L1251.9 106.2 L1252 104.5 L1252.1 103.8 L1252.2 102.6 L1252.3 103.8 L1252.4 104.1 L1252.5 104.5 L1252.7 109 L1252.8 106.2 L1252.9 103.4 L1253 104.6 L1253.1 105 L1253.2 102.6 L1253.3 105.2 L1253.4 105.5 L1253.5 108.3 L1253.6 105 L1253.7 106.7 L1253.9 106.7 L1254 103.1 L1254.1 105.8 L1254.2 105 L1254.3 103 L1254.4 102 L1254.5 108.8 L1254.6 102.4 L1254.7 108 L1254.8 106 L1255 102.3 L1255.1 108.5 L1255.2 106.4 L1255.3 104.6 L1255.4 107.6 L1255.5 106.7 L1255.6 104.6 L1255.7 108.5 L1255.8 106.8 L1255.9 102.9 L1256 106.7 L1256.2 108.1 L1256.3 106.4 L1256.4 107.2 L1256.5 108.5 L1256.6 107.2 L1256.7 104.9 L1256.8 105.5 L1256.9 106.9 L1257 106 L1257.1 102 L1257.3 101.9 L1257.4 103.4 L1257.5 107.2 L1257.6 103 L1257.7 104.1 L1257.8 107.2 L1257.9 102.3 L1258 103.4 L1258.1 103.2 L1258.2 101.7 L1258.3 106.6 L1258.5 103.6 L1258.6 104.2 L1258.7 103.8 L1258.8 101.8 L1258.9 107.2 L1259 102.2 L1259.1 103.3 L1259.2 112 L1259.3 103.7 L1259.4 104.8 L1259.6 103.6 L1259.7 105.2 L1259.8 103.4 L1259.9 104.4 L1260 101.3 L1260.1 101.3 L1260.2 104.7 L1260.3 106.9 L1260.4 108.1 L1260.5 106.8 L1260.7 104.8 L1260.8 105.6 L1260.9 105.8 L1261 106.2 L1261.1 108 L1261.2 103.5 L1261.3 104.2 L1261.4 106.5 L1261.5 102.5 L1261.6 101.7 L1261.7 107.3 L1261.9 101.1 L1262 107.2 L1262.1 108.5 L1262.2 102.1 L1262.3 106.2 L1262.4 102.9 L1262.5 102.8 L1262.6 107.8 L1262.7 107.1 L1262.8 106.2 L1263 103.9 L1263.1 107.7 L1263.2 104.8 L1263.3 107.7 L1263.4 105.9 L1263.5 101.1 L1263.6 106.4 L1263.7 106.6 L1263.8 106.9 L1263.9 105.1 L1264 101 L1264.2 106.8 L1264.3 103.7 L1264.4 102.1 L1264.5 102.1 L1264.6 102.1 L1264.7 106.7 L1264.8 101.2 L1264.9 107.1 L1265 100.7 L1265.1 105.7 L1265.3 102.2 L1265.4 104.2 L1265.5 102.3 L1265.6 106.9 L1265.7 101.6 L1265.8 103.8 L1265.9 104.8 L1266 103.7 L1266.1 102 L1266.2 102.5 L1266.3 107 L1266.5 101.3 L1266.6 100.6 L1266.7 106.8 L1266.8 106.6 L1266.9 105.2 L1267 103.7 L1267.1 107.1 L1267.2 103.3 L1267.3 100.5 L1267.4 103.4 L1267.6 104.1 L1267.7 104.2 L1267.8 106.5 L1267.9 100.8 L1268 106.3 L1268.1 103.9 L1268.2 105.4 L1268.3 103.2 L1268.4 102.3 L1268.5 104.7 L1268.6 102.1 L1268.8 103.4 L1268.9 104.4 L1269 106 L1269.1 101.4 L1269.2 103.3 L1269.3 103.9 L1269.4 105.9 L1269.5 105.1 L1269.6 104.5 L1269.7 104.8 L1269.9 103.2 L1270 105.7 L1270.1 105.9 L1270.2 104 L1270.3 100.9 L1270.4 103 L1270.5 101.9 L1270.6 101.4 L1270.7 102.1 L1270.8 105.7 L1270.9 102.4 L1271.1 103 L1271.2 102.6 L1271.3 101.2 L1271.4 103.9 L1271.5 102.8 L1271.6 109.8 L1271.7 104.2 L1271.8 106.7 L1271.9 105.9 L1272 103.3 L1272.2 100 L1272.3 101.3 L1272.4 100.7 L1272.5 105 L1272.6 100.8 L1272.7 104.3 L1272.8 102 L1272.9 103.1 L1273 105 L1273.1 101.8 L1273.2 100.9 L1273.4 101.7 L1273.5 106.3 L1273.6 105.7 L1273.7 101.7 L1273.8 100.7 L1273.9 100.1 L1274 102 L1274.1 103.9 L1274.2 102.8 L1274.3 105.3 L1274.5 106.6 L1274.6 103.6 L1274.7 102 L1274.8 105.1 L1274.9 100.2 L1275 104.9 L1275.1 105.7 L1275.2 104.9 L1275.3 100.2 L1275.4 103.6 L1275.5 105.1 L1275.7 102.4 L1275.8 105.4 L1275.9 100.6 L1276 103.1 L1276.1 103.3 L1276.2 105.3 L1276.3 102.3 L1276.4 101.2 L1276.5 104.4 L1276.6 100.2 L1276.8 101.9 L1276.9 102.6 L1277 104.8 L1277.1 102.3 L1277.2 103.2 L1277.3 104 L1277.4 104 L1277.5 106 L1277.6 102.5 L1277.7 103.2 L1277.8 99.4 L1278 100.6 L1278.1 101 L1278.2 100.7 L1278.3 102.8 L1278.4 100.6 L1278.5 103.2 L1278.6 104.9 L1278.7 99.6 L1278.8 100.8 L1278.9 102.6 L1279.1 99.4 L1279.2 100.1 L1279.3 103.1 L1279.4 101.9 L1279.5 105.4 L1279.6 103 L1279.7 104.3 L1279.8 101.4 L1279.9 101.7 L1280 105 L1280.1 103.3 L1280.3 105.4 L1280.4 100.7 L1280.5 99.8 L1280.6 103.7 L1280.7 99.8 L1280.8 99.4 L1280.9 101.6 L1281 103.7 L1281.1 102.1 L1281.2 104.1 L1281.4 102 L1281.5 100.8 L1281.6 102.6 L1281.7 103.1 L1281.8 99.9 L1281.9 102.9 L1282 100 L1282.1 105.6 L1282.2 102.5 L1282.3 100.2 L1282.4 99 L1282.6 101.9 L1282.7 100.9 L1282.8 102.7 L1282.9 104.7 L1283 103.7 L1283.1 101.8 L1283.2 103.1 L1283.3 102.9 L1283.4 100.7 L1283.5 100.2 L1283.7 101.4 L1283.8 103.8 L1283.9 99.5 L1284 103 L1284.1 98.7 L1284.2 99.8 L1284.3 103.2 L1284.4 104.2 L1284.5 103.9 L1284.6 103.3 L1284.7 100.3 L1284.9 105.4 L1285 102.7 L1285.1 104.8 L1285.2 105 L1285.3 100.1 L1285.4 105.2 L1285.5 99 L1285.6 102.9 L1285.7 100.2 L1285.8 99 L1286 102.4 L1286.1 99.8 L1286.2 103.8 L1286.3 101.6 L1286.4 100.2 L1286.5 101.3 L1286.6 103.1 L1286.7 102.7 L1286.8 103.9 L1286.9 100.9 L1287 104.7 L1287.2 98.4 L1287.3 104.7 L1287.4 103.6 L1287.5 98.9 L1287.6 105.1 L1287.7 98.8 L1287.8 103.4 L1287.9 99.9 L1288 103 L1288.1 104 L1288.3 98.9 L1288.4 100.4 L1288.5 104.4 L1288.6 101.4 L1288.7 99.1 L1288.8 98.7 L1288.9 98.9 L1289 98.8 L1289.1 100.5 L1289.2 103.4 L1289.4 101.2 L1289.5 98.7 L1289.6 100.4 L1289.7 101.4 L1289.8 101.1 L1289.9 102.4 L1290 102.7 L1290.1 103.2 L1290.2 101.7 L1290.3 98.1 L1290.4 104.1 L1290.6 103.4 L1290.7 103 L1290.8 100.9 L1290.9 105 L1291 98.5 L1291.1 103 L1291.2 102 L1291.3 102.7 L1291.4 98.2 L1291.5 104.5 L1291.7 98 L1291.8 99 L1291.9 101.3 L1292 101.7 L1292.1 98.9 L1292.2 99.7 L1292.3 104.1 L1292.4 99.9 L1292.5 100.8 L1292.6 98.4 L1292.7 101.6 L1292.9 102.5 L1293 102.8 L1293.1 99.2 L1293.2 100.2 L1293.3 102.2 L1293.4 104.4 L1293.5 102.9 L1293.6 99.1 L1293.7 98 L1293.8 99.8 L1294 101.2 L1294.1 99.4 L1294.2 103 L1294.3 99.3 L1294.4 98.3 L1294.5 101.7 L1294.6 103.4 L1294.7 98.9 L1294.8 99.7 L1294.9 99.2 L1295 97.6 L1295.2 102.1 L1295.3 97.7 L1295.4 101.6 L1295.5 101.8 L1295.6 101 L1295.7 97.6 L1295.8 97.6 L1295.9 100.9 L1296 100.7 L1296.1 97.4 L1296.3 97.3 L1296.4 102.6 L1296.5 99.5 L1296.6 105 L1296.7 101.8 L1296.8 99 L1296.9 105.5 L1297 98.5 L1297.1 100 L1297.2 100.6 L1297.3 102.1 L1297.5 99.4 L1297.6 101.6 L1297.7 98.6 L1297.8 101.8 L1297.9 97.2 L1298 98.4 L1298.1 97.5 L1298.2 97.7 L1298.3 102.3 L1298.4 100.3 L1298.6 102.5 L1298.7 103.8 L1298.8 98.3 L1298.9 102.3 L1299 103.7 L1299.1 99.1 L1299.2 97.5 L1299.3 100.1 L1299.4 100.7 L1299.5 101.7 L1299.6 102.7 L1299.8 99 L1299.9 98 L1300 99.2 L1300.1 100.1 L1300.2 98.1 L1300.3 98.9 L1300.4 103 L1300.5 99.7 L1300.6 97.6 L1300.7 101.4 L1300.9 99.2 L1301 100.3 L1301.1 99.5 L1301.2 97.5 L1301.3 101.8 L1301.4 100.7 L1301.5 103.6 L1301.6 96.7 L1301.7 100.7 L1301.8 99.6 L1301.9 99.7 L1302.1 101.7 L1302.2 98.3 L1302.3 99.4 L1302.4 97.5 L1302.5 100.5 L1302.6 99.6 L1302.7 96.8 L1302.8 98.1 L1302.9 99.3 L1303 100.2 L1303.2 97.1 L1303.3 100.8 L1303.4 102.2 L1303.5 98.8 L1303.6 96.9 L1303.7 97.4 L1303.8 101.7 L1303.9 100.1 L1304 97.3 L1304.1 97.5 L1304.2 102.2 L1304.4 101.1 L1304.5 101.2 L1304.6 97.3 L1304.7 103.2 L1304.8 98.1 L1304.9 98.7 L1305 97.9 L1305.1 102.8 L1305.2 100.7 L1305.3 100.1 L1305.5 99.1 L1305.6 101.2 L1305.7 99.5 L1305.8 99.4 L1305.9 97.2 L1306 101.9 L1306.1 96.6 L1306.2 102.5 L1306.3 102.5 L1306.4 99.8 L1306.5 97.2 L1306.7 97.6 L1306.8 97 L1306.9 102.4 L1307 98.6 L1307.1 102.9 L1307.2 98.4 L1307.3 98.6 L1307.4 100.7 L1307.5 102.1 L1307.6 99.6 L1307.8 96.8 L1307.9 97.1 L1308 100.9 L1308.1 101.3 L1308.2 102.8 L1308.3 99.9 L1308.4 101.3 L1308.5 105.6 L1308.6 102.7 L1308.7 101.5 L1308.8 97.2 L1309 96.9 L1309.1 98 L1309.2 98.5 L1309.3 102.4 L1309.4 101.5 L1309.5 100.9 L1309.6 102 L1309.7 98.4 L1309.8 102.6 L1309.9 102 L1310.1 97 L1310.2 98.3 L1310.3 97.8 L1310.4 97 L1310.5 102.2 L1310.6 98.3 L1310.7 101.7 L1310.8 99.8 L1310.9 96 L1311 98.6 L1311.1 101 L1311.3 97.8 L1311.4 97.6 L1311.5 96.2 L1311.6 98.8 L1311.7 102.1 L1311.8 95.6 L1311.9 101.7 L1312 99.6 L1312.1 98.1 L1312.2 101.7 L1312.4 101.9 L1312.5 102.2 L1312.6 98.6 L1312.7 98.3 L1312.8 100 L1312.9 101.6 L1313 97.8 L1313.1 97.6 L1313.2 98.2 L1313.3 95.4 L1313.4 101.2 L1313.6 98.5 L1313.7 98.5 L1313.8 99.7 L1313.9 100.9 L1314 100.2 L1314.1 97.5 L1314.2 97.3 L1314.3 97.5 L1314.4 98.9 L1314.5 100.8 L1314.7 95.2 L1314.8 99.7 L1314.9 101 L1315 99.3 L1315.1 97.8 L1315.2 98.4 L1315.3 98.7 L1315.4 99.4 L1315.5 95.6 L1315.6 108 L1315.7 98.9 L1315.9 96.9 L1316 101.4 L1316.1 97.8 L1316.2 100.4 L1316.3 99.6 L1316.4 98.8 L1316.5 96.3 L1316.6 96.8 L1316.7 97.2 L1316.8 95.9 L1317 100.2 L1317.1 98 L1317.2 97.3 L1317.3 98.9 L1317.4 96.4 L1317.5 97.9 L1317.6 98.8 L1317.7 99.1 L1317.8 97.7 L1317.9 100 L1318.1 100.8 L1318.2 101.5 L1318.3 98.6 L1318.4 101.5 L1318.5 101.3 L1318.6 99.3 L1318.7 95.6 L1318.8 99.2 L1318.9 98.4 L1319 99.6 L1319.1 96.5 L1319.3 101.6 L1319.4 97 L1319.5 101.6 L1319.6 96.5 L1319.7 97.9 L1319.8 99.3 L1319.9 96.4 L1320 97.4 L1320.1 99.1 L1320.2 99.8 L1320.4 100.9 L1320.5 98.3 L1320.6 101.2 L1320.7 96.4 L1320.8 98.7 L1320.9 99.7 L1321 95 L1321.1 99.9 L1321.2 100.1 L1321.3 98.3 L1321.4 100.8 L1321.6 99.2 L1321.7 96.9 L1321.8 100 L1321.9 97.9 L1322 99.1 L1322.1 101.2 L1322.2 99.2 L1322.3 99.7 L1322.4 100 L1322.5 95.6 L1322.7 94.5 L1322.8 94.7 L1322.9 97.5 L1323 101 L1323.1 97.3 L1323.2 100.6 L1323.3 96.2 L1323.4 95.1 L1323.5 97 L1323.6 100 L1323.7 100.9 L1323.9 97.9 L1324 96.7 L1324.1 99.6 L1324.2 97 L1324.3 96.2 L1324.4 99.3 L1324.5 94.6 L1324.6 99.4 L1324.7 100.7 L1324.8 94.7 L1325 99.4 L1325.1 94.1 L1325.2 94.8 L1325.3 96 L1325.4 100.9 L1325.5 94.3 L1325.6 97.1 L1325.7 97 L1325.8 95.1 L1325.9 100.7 L1326 95.5 L1326.2 100.2 L1326.3 97.6 L1326.4 98.8 L1326.5 99 L1326.6 98.5 L1326.7 99.4 L1326.8 99.9 L1326.9 94.7 L1327 94.4 L1327.1 99.5 L1327.3 94.5 L1327.4 97.8 L1327.5 100.3 L1327.6 97.3 L1327.7 94.8 L1327.8 94.5 L1327.9 97.4 L1328 98.8 L1328.1 99.3 L1328.2 98.9 L1328.3 96.9 L1328.5 99.7 L1328.6 97.4 L1328.7 98.3 L1328.8 93.6 L1328.9 97 L1329 94.1 L1329.1 95 L1329.2 97.2 L1329.3 97.5 L1329.4 94 L1329.6 98.5 L1329.7 96.2 L1329.8 95 L1329.9 100.1 L1330 98 L1330.1 95.8 L1330.2 94.3 L1330.3 96.8 L1330.4 98.8 L1330.5 96.9 L1330.6 95.5 L1330.8 94.1 L1330.9 94.9 L1331 98.8 L1331.1 94.4 L1331.2 100.2 L1331.3 98.4 L1331.4 96.5 L1331.5 94.6 L1331.6 96.5 L1331.7 99.9 L1331.9 94 L1332 94.9 L1332.1 93.7 L1332.2 98.2 L1332.3 99.8 L1332.4 97.1 L1332.5 95.2 L1332.6 99.9 L1332.7 97.2 L1332.8 99.8 L1332.9 95.7 L1333.1 94.1 L1333.2 93.6 L1333.3 94.9 L1333.4 96.1 L1333.5 98.4 L1333.6 96.3 L1333.7 94.9 L1333.8 99.3 L1333.9 97 L1334 97.2 L1334.2 98.7 L1334.3 97.6 L1334.4 94.6 L1334.5 99.6 L1334.6 94 L1334.7 94 L1334.8 97.4 L1334.9 97 L1335 94.5 L1335.1 97.8 L1335.2 93.5 L1335.4 96.2 L1335.5 99.5 L1335.6 99.1 L1335.7 97 L1335.8 98.3 L1335.9 97.4 L1336 94.4 L1336.1 98.8 L1336.2 97 L1336.3 96.9 L1336.5 99.4 L1336.6 96.6 L1336.7 95 L1336.8 95.6 L1336.9 96.6 L1337 98.8 L1337.1 98.5 L1337.2 95.4 L1337.3 96 L1337.4 93 L1337.5 97.1 L1337.7 98.2 L1337.8 94 L1337.9 97 L1338 93.5 L1338.1 98.4 L1338.2 97.6 L1338.3 99.1 L1338.4 94.5 L1338.5 93.7 L1338.6 96.5 L1338.8 92.9 L1338.9 98.2 L1339 93.9 L1339.1 93.4 L1339.2 93.5 L1339.3 97.3 L1339.4 92.7 L1339.5 95.3 L1339.6 93.6 L1339.7 97.8 L1339.8 92.7 L1340 93.7 L1340.1 97.8 L1340.2 95.9 L1340.3 93.1 L1340.4 99.2 L1340.5 94.9 L1340.6 95.2 L1340.7 97.4 L1340.8 95.7 L1340.9 98 L1341.1 97.3 L1341.2 93.9 L1341.3 96.5 L1341.4 98.1 L1341.5 94.1 L1341.6 96.6 L1341.7 96.2 L1341.8 97 L1341.9 94.6 L1342 93.7 L1342.1 96.8 L1342.3 98 L1342.4 95.4 L1342.5 93 L1342.6 97.7 L1342.7 95.7 L1342.8 96.8 L1342.9 92.7 L1343 97.5 L1343.1 94.6 L1343.2 98.2 L1343.4 93.7 L1343.5 92 L1343.6 94.2 L1343.7 97 L1343.8 97 L1343.9 97.8 L1344 93.4 L1344.1 96 L1344.2 92.4 L1344.3 93.4 L1344.4 92.2 L1344.6 96.2 L1344.7 98.1 L1344.8 96 L1344.9 96 L1345 98.1 L1345.1 94.1 L1345.2 95.7 L1345.3 97.4 L1345.4 93.1 L1345.5 96.7 L1345.7 92.3 L1345.8 94.3 L1345.9 93 L1346 100.2 L1346.1 93.1 L1346.2 92.1 L1346.3 94.8 L1346.4 94.4 L1346.5 96.8 L1346.6 91.7 L1346.8 96.1 L1346.9 91.9 L1347 95 L1347.1 91.7 L1347.2 97.9 L1347.3 95 L1347.4 94.9 L1347.5 92 L1347.6 97 L1347.7 93.4 L1347.8 94.8 L1348 96.5 L1348.1 97 L1348.2 94.2 L1348.3 91.9 L1348.4 98.3 L1348.5 93.2 L1348.6 91.7 L1348.7 95.7 L1348.8 97.5 L1348.9 92 L1349.1 91.7 L1349.2 96.1 L1349.3 95.4 L1349.4 93.1 L1349.5 93.2 L1349.6 96.7 L1349.7 91.4 L1349.8 93 L1349.9 93.8 L1350 96.7 L1350.1 93.5 L1350.3 91.6 L1350.4 96.4 L1350.5 96 L1350.6 92.1 L1350.7 96.3 L1350.8 95.5 L1350.9 93.7 L1351 95.9 L1351.1 94.7 L1351.2 96.7 L1351.4 97.8 L1351.5 93.5 L1351.6 91.7 L1351.7 93.6 L1351.8 95.3 L1351.9 92.9 L1352 92.1 L1352.1 92.5 L1352.2 97 L1352.3 96 L1352.4 91.9 L1352.6 93.1 L1352.7 92.9 L1352.8 91.8 L1352.9 96.8 L1353 93 L1353.1 94.9 L1353.2 96 L1353.3 91.4 L1353.4 93.7 L1353.5 95.8 L1353.7 95.3 L1353.8 94.3 L1353.9 93.3 L1354 93.2 L1354.1 94.4 L1354.2 93.6 L1354.3 94.9 L1354.4 96.7 L1354.5 92 L1354.6 97.3 L1354.7 94.3 L1354.9 97.6 L1355 97.5 L1355.1 91.2 L1355.2 95.5 L1355.3 92.4 L1355.4 95.1 L1355.5 96.9 L1355.6 93.9 L1355.7 95.2 L1355.8 95.3 L1356 92 L1356.1 93.6 L1356.2 92.7 L1356.3 94 L1356.4 95.9 L1356.5 91.6 L1356.6 94.5 L1356.7 94.1 L1356.8 93.3 L1356.9 96.4 L1357 93 L1357.2 96.1 L1357.3 91 L1357.4 93.6 L1357.5 91.3 L1357.6 98.9 L1357.7 95.8 L1357.8 91.9 L1357.9 93 L1358 91.3 L1358.1 96.6 L1358.3 96.7 L1358.4 96.6 L1358.5 94.6 L1358.6 92.4 L1358.7 93.6 L1358.8 95" fill="none" stroke="#c8c840" stroke-width="0.8" stroke-opacity="1" stroke-linejoin="bevel"/>
<path d="M1074.1 168.8 L1074.2 174.6 L1074.3 167.2 L1074.4 166.6 L1074.5 167.6 L1074.6 166 L1074.8 169.6 L1074.9 163.9 L1075 172.9 L1075.1 170.1 L1075.2 161.4 L1075.3 166.2 L1075.4 161.5 L1075.5 162.6 L1075.6 163.8 L1075.7 163.8 L1075.9 163.6 L1076 167.9 L1076.1 160.9 L1076.2 159.9 L1076.3 164.5 L1076.4 167.1 L1076.5 166.6 L1076.6 165.9 L1076.7 157.2 L1076.8 166 L1076.9 162.8 L1077.1 164.9 L1077.2 159.8 L1077.3 164.2 L1077.4 163.4 L1077.5 161.8 L1077.6 162.9 L1077.7 156.4 L1077.8 155.4 L1077.9 162.1 L1078 153.7 L1078.2 163.8 L1078.3 154.9 L1078.4 159.6 L1078.5 157.3 L1078.6 156 L1078.7 154.1 L1078.8 160.9 L1078.9 162.3 L1079 160 L1079.1 158.3 L1079.2 159.4 L1079.4 157.2 L1079.5 157.3 L1079.6 161.3 L1079.7 153.7 L1079.8 152.8 L1079.9 161.4 L1080 161.2 L1080.1 155.4 L1080.2 159.1 L1080.3 158.3 L1080.5 160.6 L1080.6 150 L1080.7 159.7 L1080.8 154.7 L1080.9 153.9 L1081 156.7 L1081.1 155.7 L1081.2 153.3 L1081.3 151.4 L1081.4 158.9 L1081.5 157.5 L1081.7 148.7 L1081.8 152.2 L1081.9 156.4 L1082 157.6 L1082.1 158.4 L1082.2 149.6 L1082.3 157.3 L1082.4 154.7 L1082.5 147 L1082.6 148.5 L1082.8 148.1 L1082.9 146.6 L1083 153.8 L1083.1 149.1 L1083.2 153.5 L1083.3 146 L1083.4 155.3 L1083.5 153.1 L1083.6 153.9 L1083.7 151.6 L1083.8 149.7 L1084 146.3 L1084.1 155.2 L1084.2 145.4 L1084.3 149.7 L1084.4 145.7 L1084.5 144.4 L1084.6 151.3 L1084.7 153.5 L1084.8 148.1 L1084.9 152 L1085.1 152.6 L1085.2 148.5 L1085.3 151.3 L1085.4 145.2 L1085.5 145.8 L1085.6 143.7 L1085.7 141.3 L1085.8 141.9 L1085.9 149.9 L1086 151.6 L1086.1 141.2 L1086.3 149.1 L1086.4 149.6 L1086.5 148.3 L1086.6 145.9 L1086.7 145.6 L1086.8 148 L1086.9 142.3 L1087 148.3 L1087.1 141.4 L1087.2 139.3 L1087.4 150.1 L1087.5 139.7 L1087.6 140.8 L1087.7 139 L1087.8 138.3 L1087.9 139.5 L1088 149 L1088.1 146.1 L1088.2 142.5 L1088.3 137.5 L1088.5 147.3 L1088.6 143 L1088.7 147.3 L1088.8 143 L1088.9 137.7 L1089 137.5 L1089.1 146 L1089.2 139 L1089.3 138 L1089.4 141 L1089.5 139.1 L1089.7 139.2 L1089.8 145.3 L1089.9 141.3 L1090 147.5 L1090.1 136.5 L1090.2 138.8 L1090.3 145.8 L1090.4 140.3 L1090.5 144.2 L1090.6 140 L1090.8 139.6 L1090.9 145.3 L1091 138.3 L1091.1 141 L1091.2 141.1 L1091.3 134.7 L1091.4 138.6 L1091.5 136.8 L1091.6 133.9 L1091.7 142 L1091.8 140.6 L1092 137.6 L1092.1 138.5 L1092.2 133.8 L1092.3 138 L1092.4 143.2 L1092.5 133.5 L1092.6 140.7 L1092.7 141.1 L1092.8 135.6 L1092.9 136.1 L1093.1 134.7 L1093.2 139.2 L1093.3 136.7 L1093.4 133.8 L1093.5 135.6 L1093.6 134.9 L1093.7 143.7 L1093.8 139.1 L1093.9 137.5 L1094 137.5 L1094.1 138.4 L1094.3 143.2 L1094.4 136 L1094.5 132 L1094.6 133.4 L1094.7 131.2 L1094.8 133.4 L1094.9 138.1 L1095 133.9 L1095.1 140.7 L1095.2 142 L1095.4 132 L1095.5 140.1 L1095.6 138.3 L1095.7 142.7 L1095.8 132.5 L1095.9 139.2 L1096 134 L1096.1 132.3 L1096.2 133 L1096.3 141 L1096.4 135.4 L1096.6 134.8 L1096.7 139.9 L1096.8 139.7 L1096.9 140.1 L1097 129.6 L1097.1 141.1 L1097.2 137.3 L1097.3 139.8 L1097.4 138.6 L1097.5 139.6 L1097.7 139.4 L1097.8 136.5 L1097.9 130.3 L1098 136.8 L1098.1 129.1 L1098.2 147.7 L1098.3 131.9 L1098.4 131.9 L1098.5 137.9 L1098.6 138.7 L1098.7 138.9 L1098.9 135.5 L1099 137.2 L1099.1 129.6 L1099.2 132.1 L1099.3 137.2 L1099.4 133.3 L1099.5 134 L1099.6 137 L1099.7 130.4 L1099.8 137.9 L1100 136.3 L1100.1 128.5 L1100.2 132.5 L1100.3 138.2 L1100.4 130.6 L1100.5 127.6 L1100.6 129.4 L1100.7 133.7 L1100.8 128.4 L1100.9 127.8 L1101 128.8 L1101.2 136.7 L1101.3 138.4 L1101.4 128.6 L1101.5 133.5 L1101.6 134.9 L1101.7 127.7 L1101.8 137.1 L1101.9 135.5 L1102 134.7 L1102.1 132.3 L1102.3 135.8 L1102.4 136.2 L1102.5 129.9 L1102.6 129.2 L1102.7 137.9 L1102.8 132 L1102.9 131.1 L1103 137.2 L1103.1 134.6 L1103.2 134.9 L1103.3 135.5 L1103.5 135.8 L1103.6 134 L1103.7 137.6 L1103.8 135.1 L1103.9 135.5 L1104 135.5 L1104.1 126.4 L1104.2 137.3 L1104.3 134.6 L1104.4 126.7 L1104.6 134 L1104.7 133.8 L1104.8 131.3 L1104.9 129 L1105 131.7 L1105.1 127.3 L1105.2 129.9 L1105.3 132.5 L1105.4 133.6 L1105.5 131.5 L1105.6 135.5 L1105.8 135.5 L1105.9 135.6 L1106 131.9 L1106.1 127.9 L1106.2 125.5 L1106.3 131.6 L1106.4 130.9 L1106.5 124.9 L1106.6 126.5 L1106.7 135.9 L1106.9 133.4 L1107 135.1 L1107.1 128.4 L1107.2 129.6 L1107.3 131.3 L1107.4 129.2 L1107.5 124.9 L1107.6 129.9 L1107.7 132.1 L1107.8 128.5 L1107.9 134.9 L1108.1 135 L1108.2 124.6 L1108.3 129 L1108.4 131.1 L1108.5 129.4 L1108.6 135.3 L1108.7 127.5 L1108.8 134.3 L1108.9 127.9 L1109 134.1 L1109.2 125.1 L1109.3 133.6 L1109.4 133.4 L1109.5 130.2 L1109.6 127.2 L1109.7 128.2 L1109.8 126.7 L1109.9 126.8 L1110 129.5 L1110.1 129.5 L1110.2 128.9 L1110.4 133.4 L1110.5 125.9 L1110.6 132.3 L1110.7 138.5 L1110.8 127.9 L1110.9 124 L1111 132.6 L1111.1 131.5 L1111.2 128.7 L1111.3 133.9 L1111.5 126.1 L1111.6 131.3 L1111.7 130.4 L1111.8 127.4 L1111.9 131.8 L1112 124.2 L1112.1 126.4 L1112.2 128.5 L1112.3 133.7 L1112.4 131.4 L1112.5 127 L1112.7 129.8 L1112.8 124.3 L1112.9 127.1 L1113 133.5 L1113.1 125.7 L1113.2 123.7 L1113.3 133 L1113.4 124.9 L1113.5 129.1 L1113.6 125.4 L1113.8 133 L1113.9 130.8 L1114 131.3 L1114.1 123.5 L1114.2 127.9 L1114.3 131.8 L1114.4 125.5 L1114.5 123.4 L1114.6 131.7 L1114.7 128.9 L1114.8 128.7 L1115 124.2 L1115.1 123.4 L1115.2 127.5 L1115.3 129.1 L1115.4 130.5 L1115.5 132.3 L1115.6 127.7 L1115.7 129.5 L1115.8 125.3 L1115.9 131.7 L1116.1 125.6 L1116.2 122.1 L1116.3 124 L1116.4 123.2 L1116.5 128.7 L1116.6 123.3 L1116.7 126.6 L1116.8 125.2 L1116.9 130.3 L1117 124.7 L1117.2 124 L1117.3 125 L1117.4 123.5 L1117.5 128.6 L1117.6 127.1 L1117.7 129 L1117.8 122.5 L1117.9 130.1 L1118 127.2 L1118.1 131.9 L1118.2 132 L1118.4 121.2 L1118.5 127.7 L1118.6 123.8 L1118.7 128.7 L1118.8 122.5 L1118.9 127.2 L1119 129.3 L1119.1 127.2 L1119.2 124.2 L1119.3 129 L1119.5 131.1 L1119.6 123.8 L1119.7 121.9 L1119.8 125 L1119.9 125.2 L1120 125 L1120.1 131 L1120.2 123.2 L1120.3 121.2 L1120.4 120.7 L1120.5 125.8 L1120.7 123.4 L1120.8 125.8 L1120.9 128 L1121 123.9 L1121.1 121.8 L1121.2 130.3 L1121.3 122.3 L1121.4 123.7 L1121.5 120.5 L1121.6 126.9 L1121.8 122.8 L1121.9 128.3 L1122 124.8 L1122.1 129.1 L1122.2 123.7 L1122.3 128.6 L1122.4 120.8 L1122.5 123.9 L1122.6 123.5 L1122.7 124.4 L1122.8 122.3 L1123 123.1 L1123.1 130.5 L1123.2 120.7 L1123.3 125.2 L1123.4 129.6 L1123.5 124.8 L1123.6 124.6 L1123.7 127.7 L1123.8 128 L1123.9 121.8 L1124.1 127.2 L1124.2 126.1 L1124.3 122.1 L1124.4 124.8 L1124.5 130.2 L1124.6 121.7 L1124.7 128.1 L1124.8 129.6 L1124.9 125.3 L1125 121.1 L1125.1 124.5 L1125.3 127.8 L1125.4 126.4 L1125.5 128.4 L1125.6 124.7 L1125.7 119.3 L1125.8 119.6 L1125.9 127.8 L1126 124.9 L1126.1 128.9 L1126.2 128.2 L1126.4 126 L1126.5 125.4 L1126.6 127.4 L1126.7 120.8 L1126.8 123 L1126.9 125.9 L1127 124.5 L1127.1 120.7 L1127.2 122.4 L1127.3 120.3 L1127.4 127.8 L1127.6 120.8 L1127.7 125.7 L1127.8 120.6 L1127.9 120.1 L1128 119.2 L1128.1 122.5 L1128.2 127.6 L1128.3 128.4 L1128.4 124.4 L1128.5 127.8 L1128.7 125.5 L1128.8 128.8 L1128.9 120.7 L1129 121.2 L1129.1 121.3 L1129.2 127.2 L1129.3 128.4 L1129.4 126.6 L1129.5 128.6 L1129.6 118.4 L1129.7 120 L1129.9 119.9 L1130 121.8 L1130.1 122.2 L1130.2 122.5 L1130.3 119.9 L1130.4 123.7 L1130.5 125.1 L1130.6 126.8 L1130.7 119.7 L1130.8 128.5 L1131 120.8 L1131.1 123.2 L1131.2 127.5 L1131.3 119.6 L1131.4 122.4 L1131.5 121.7 L1131.6 118.8 L1131.7 118.3 L1131.8 120 L1131.9 123.3 L1132 121.1 L1132.2 119.9 L1132.3 127.7 L1132.4 122.9 L1132.5 120.6 L1132.6 128 L1132.7 125.2 L1132.8 121.3 L1132.9 126.5 L1133 118 L1133.1 120.9 L1133.3 127.6 L1133.4 123.1 L1133.5 118.5 L1133.6 118.4 L1133.7 127.3 L1133.8 121.4 L1133.9 126.7 L1134 120 L1134.1 123.5 L1134.2 119.8 L1134.3 126.2 L1134.5 125.6 L1134.6 127.4 L1134.7 122.4 L1134.8 125.2 L1134.9 118.2 L1135 123.6 L1135.1 124.9 L1135.2 124.9 L1135.3 120 L1135.4 117.2 L1135.6 123.5 L1135.7 124.9 L1135.8 122.6 L1135.9 118.8 L1136 121.2 L1136.1 119.3 L1136.2 126 L1136.3 124 L1136.4 123.2 L1136.5 124.3 L1136.6 133.8 L1136.8 126.8 L1136.9 116.9 L1137 117.2 L1137.1 137.6 L1137.2 120.6 L1137.3 124.3 L1137.4 120.6 L1137.5 124.9 L1137.6 124.4 L1137.7 119.6 L1137.9 124.1 L1138 116.8 L1138.1 117 L1138.2 121.8 L1138.3 125.9 L1138.4 126.7 L1138.5 116.9 L1138.6 119.8 L1138.7 117.7 L1138.8 125.5 L1138.9 120.4 L1139.1 119.5 L1139.2 120.8 L1139.3 120.2 L1139.4 121.6 L1139.5 117 L1139.6 117.1 L1139.7 118.9 L1139.8 117.4 L1139.9 126 L1140 117.6 L1140.2 125.2 L1140.3 119.1 L1140.4 126.2 L1140.5 117.5 L1140.6 121.8 L1140.7 123.1 L1140.8 116.2 L1140.9 121.5 L1141 120.9 L1141.1 124 L1141.2 119.6 L1141.4 120.8 L1141.5 116 L1141.6 122.8 L1141.7 125.6 L1141.8 123.6 L1141.9 129.8 L1142 123.3 L1142.1 118 L1142.2 125.2 L1142.3 116.4 L1142.5 120.4 L1142.6 123.9 L1142.7 122.9 L1142.8 117.9 L1142.9 118.4 L1143 120.9 L1143.1 119.2 L1143.2 116.8 L1143.3 118.1 L1143.4 122.8 L1143.5 119.9 L1143.7 120.4 L1143.8 116.4 L1143.9 115.4 L1144 124.4 L1144.1 123.7 L1144.2 120.1 L1144.3 121.7 L1144.4 121.9 L1144.5 119.6 L1144.6 116 L1144.8 115.2 L1144.9 122.5 L1145 123.2 L1145.1 115.6 L1145.2 123.1 L1145.3 115.1 L1145.4 124.2 L1145.5 119.9 L1145.6 119.8 L1145.7 124.8 L1145.9 122.2 L1146 120 L1146.1 123.2 L1146.2 119.2 L1146.3 117.5 L1146.4 122.7 L1146.5 122.8 L1146.6 120.7 L1146.7 117.3 L1146.8 124.4 L1146.9 122.6 L1147.1 117 L1147.2 120.9 L1147.3 120.2 L1147.4 114.8 L1147.5 121.1 L1147.6 115.2 L1147.7 121.5 L1147.8 120.6 L1147.9 123.1 L1148 117.1 L1148.2 119.9 L1148.3 121.4 L1148.4 114.6 L1148.5 116.1 L1148.6 120.7 L1148.7 122.6 L1148.8 118.3 L1148.9 123.5 L1149 123.9 L1149.1 117.9 L1149.2 117.6 L1149.4 120.4 L1149.5 120.3 L1149.6 122.9 L1149.7 115.8 L1149.8 122.9 L1149.9 118.5 L1150 116.7 L1150.1 117.6 L1150.2 115.8 L1150.3 116.6 L1150.5 121.2 L1150.6 117.2 L1150.7 122.4 L1150.8 120.2 L1150.9 117.5 L1151 117.5 L1151.1 119.3 L1151.2 119.4 L1151.3 116.5 L1151.4 113.6 L1151.5 119 L1151.7 116.6 L1151.8 121 L1151.9 122.1 L1152 116.7 L1152.1 116.8 L1152.2 123 L1152.3 121 L1152.4 120.9 L1152.5 115.5 L1152.6 122.3 L1152.8 118.9 L1152.9 118.6 L1153 115.4 L1153.1 119.9 L1153.2 120.8 L1153.3 117 L1153.4 120.5 L1153.5 119.8 L1153.6 115.6 L1153.7 119.6 L1153.8 114 L1154 117.8 L1154.1 117.8 L1154.2 120.1 L1154.3 120.2 L1154.4 118.4 L1154.5 120.6 L1154.6 113.9 L1154.7 118.7 L1154.8 121.2 L1154.9 113.2 L1155.1 120.4 L1155.2 117.5 L1155.3 119.1 L1155.4 112.7 L1155.5 116.4 L1155.6 121.6 L1155.7 113.8 L1155.8 114.4 L1155.9 116.2 L1156 117 L1156.1 112.7 L1156.3 113 L1156.4 118.1 L1156.5 112.2 L1156.6 114.5 L1156.7 114.8 L1156.8 114.5 L1156.9 121.2 L1157 114.1 L1157.1 118.4 L1157.2 113.9 L1157.4 121.1 L1157.5 119.3 L1157.6 114 L1157.7 117.5 L1157.8 117.3 L1157.9 111.9 L1158 120.4 L1158.1 114.3 L1158.2 118.7 L1158.3 112.7 L1158.4 116.3 L1158.6 115.4 L1158.7 118.7 L1158.8 114.4 L1158.9 112.7 L1159 114.2 L1159.1 112.1 L1159.2 121.3 L1159.3 114.9 L1159.4 120.3 L1159.5 116.4 L1159.7 120.6 L1159.8 116.2 L1159.9 113.2 L1160 113.7 L1160.1 115.4 L1160.2 112.5 L1160.3 117.7 L1160.4 111.9 L1160.5 115.9 L1160.6 116.6 L1160.7 120.6 L1160.9 115.3 L1161 119.8 L1161.1 116 L1161.2 117.1 L1161.3 119.3 L1161.4 116.3 L1161.5 120.4 L1161.6 119.7 L1161.7 114.8 L1161.8 118.2 L1162 112.5 L1162.1 113.2 L1162.2 119.5 L1162.3 113.7 L1162.4 119.9 L1162.5 112.4 L1162.6 115.5 L1162.7 112.6 L1162.8 117.8 L1162.9 119.9 L1163 113.7 L1163.2 112.3 L1163.3 119.8 L1163.4 117.2 L1163.5 116.5 L1163.6 117.5 L1163.7 110.6 L1163.8 111.5 L1163.9 118.8 L1164 113.8 L1164.1 117.7 L1164.3 119.1 L1164.4 119.6 L1164.5 120 L1164.6 119 L1164.7 113.1 L1164.8 117.9 L1164.9 117.3 L1165 114.2 L1165.1 118.3 L1165.2 114.4 L1165.3 111.8 L1165.5 115.8 L1165.6 111.3 L1165.7 119.3 L1165.8 111 L1165.9 112.9 L1166 113.7 L1166.1 111.1 L1166.2 113.9 L1166.3 114.3 L1166.4 110.1 L1166.6 110.6 L1166.7 114.7 L1166.8 112.7 L1166.9 118 L1167 110.1 L1167.1 118.8 L1167.2 110.8 L1167.3 110.2 L1167.4 114.6 L1167.5 118.6 L1167.6 115.5 L1167.8 111.4 L1167.9 115.3 L1168 114.5 L1168.1 110 L1168.2 114.8 L1168.3 117.3 L1168.4 117 L1168.5 112.6 L1168.6 112.2 L1168.7 120.2 L1168.9 114.7 L1169 110.1 L1169.1 110.9 L1169.2 110.5 L1169.3 115.5 L1169.4 115.1 L1169.5 117.9 L1169.6 111.7 L1169.7 112.7 L1169.8 118.8 L1169.9 112.2 L1170.1 115.2 L1170.2 110.8 L1170.3 116.6 L1170.4 110.2 L1170.5 117 L1170.6 112.2 L1170.7 115.5 L1170.8 116 L1170.9 111.1 L1171 111.5 L1171.2 109.2 L1171.3 112.9 L1171.4 112.8 L1171.5 114.3 L1171.6 110 L1171.7 111.3 L1171.8 111.9 L1171.9 115 L1172 111.5 L1172.1 115.8 L1172.2 113.7 L1172.4 115.9 L1172.5 115.9 L1172.6 110.9 L1172.7 116.1 L1172.8 112.4 L1172.9 116.4 L1173 113.6 L1173.1 116.2 L1173.2 113.6 L1173.3 109.3 L1173.5 114.7 L1173.6 108.9 L1173.7 117.9 L1173.8 116.4 L1173.9 109 L1174 115.6 L1174.1 112.6 L1174.2 114.5 L1174.3 114.5 L1174.4 110.9 L1174.6 116.1 L1174.7 108.2 L1174.8 117.7 L1174.9 114.4 L1175 117.1 L1175.1 109.9 L1175.2 116.4 L1175.3 110.4 L1175.4 116.3 L1175.5 115.1 L1175.6 116.6 L1175.8 114.4 L1175.9 108.9 L1176 108.6 L1176.1 114.3 L1176.2 115.2 L1176.3 116 L1176.4 114.4 L1176.5 117.1 L1176.6 110.5 L1176.7 110.9 L1176.9 108.2 L1177 115.8 L1177.1 109.9 L1177.2 114.5 L1177.3 113.9 L1177.4 114.7 L1177.5 112.4 L1177.6 108.3 L1177.7 115.8 L1177.8 116.7 L1177.9 108.4 L1178.1 124 L1178.2 113.4 L1178.3 115.2 L1178.4 117.9 L1178.5 115.1 L1178.6 111.6 L1178.7 113.8 L1178.8 107.7 L1178.9 110.9 L1179 111.4 L1179.2 107.2 L1179.3 115 L1179.4 114.7 L1179.5 111.4 L1179.6 109.7 L1179.7 107.9 L1179.8 116.4 L1179.9 108 L1180 109.9 L1180.1 110.3 L1180.2 116.1 L1180.4 107.3 L1180.5 107.5 L1180.6 109.7 L1180.7 111 L1180.8 114.1 L1180.9 109.2 L1181 110.6 L1181.1 114.7 L1181.2 109.4 L1181.3 108.9 L1181.5 114.7 L1181.6 113.7 L1181.7 115.9 L1181.8 114.6 L1181.9 113.1 L1182 107.2 L1182.1 107.5 L1182.2 108.9 L1182.3 114 L1182.4 109.7 L1182.5 106.9 L1182.7 115.9 L1182.8 110 L1182.9 106.8 L1183 113.8 L1183.1 113.3 L1183.2 109.3 L1183.3 107.4 L1183.4 113.5 L1183.5 106.8 L1183.6 113.4 L1183.8 111.2 L1183.9 115 L1184 109.5 L1184.1 115.1 L1184.2 112 L1184.3 109.2 L1184.4 112.6 L1184.5 109.8 L1184.6 117.2 L1184.7 108.2 L1184.8 111.4 L1185 110.1 L1185.1 109.5 L1185.2 106.2 L1185.3 114.7 L1185.4 108.5 L1185.5 115.3 L1185.6 107.9 L1185.7 105.9 L1185.8 115.2 L1185.9 112.2 L1186.1 118.7 L1186.2 109.7 L1186.3 105.7 L1186.4 113.3 L1186.5 125.7 L1186.6 109.9 L1186.7 106.5 L1186.8 108.7 L1186.9 114.7 L1187 105.7 L1187.1 109.2 L1187.3 108.2 L1187.4 112.8 L1187.5 113.2 L1187.6 110.3 L1187.7 112.4 L1187.8 114.8 L1187.9 108.2 L1188 110.5 L1188.1 113.6 L1188.2 106.2 L1188.4 112.8 L1188.5 108.1 L1188.6 107.6 L1188.7 106.9 L1188.8 109.8 L1188.9 111.1 L1189 108 L1189.1 110.2 L1189.2 106.4 L1189.3 111.9 L1189.4 109.5 L1189.6 105.8 L1189.7 110.2 L1189.8 111 L1189.9 108.5 L1190 110 L1190.1 110.3 L1190.2 109.5 L1190.3 105.9 L1190.4 105.2 L1190.5 108.4 L1190.7 111.3 L1190.8 112.8 L1190.9 109.8 L1191 109.6 L1191.1 111.4 L1191.2 107.8 L1191.3 113.6 L1191.4 109.4 L1191.5 110.5 L1191.6 113.5 L1191.7 107.4 L1191.9 110.4 L1192 107.9 L1192.1 113.7 L1192.2 111 L1192.3 105 L1192.4 111.5 L1192.5 106.4 L1192.6 110.1 L1192.7 110.8 L1192.8 111.2 L1193 112 L1193.1 109.7 L1193.2 115.7 L1193.3 104.6 L1193.4 109.9 L1193.5 110.4 L1193.6 113 L1193.7 108.2 L1193.8 105.1 L1193.9 109.7 L1194 118.1 L1194.2 109.7 L1194.3 104.7 L1194.4 105 L1194.5 109.7 L1194.6 111.2 L1194.7 110 L1194.8 107.1 L1194.9 110.1 L1195 112.4 L1195.1 112.1 L1195.3 112.1 L1195.4 108.8 L1195.5 113.1 L1195.6 107.4 L1195.7 113.4 L1195.8 105.2 L1195.9 104.5 L1196 105.6 L1196.1 109.7 L1196.2 112.4 L1196.3 105.3 L1196.5 109 L1196.6 104.1 L1196.7 107.6 L1196.8 111.1 L1196.9 111.3 L1197 111.1 L1197.1 109 L1197.2 104.1 L1197.3 110.2 L1197.4 110.9 L1197.6 107.3 L1197.7 113 L1197.8 110.6 L1197.9 108.9 L1198 104 L1198.1 103.8 L1198.2 108.4 L1198.3 108.6 L1198.4 109.4 L1198.5 109.7 L1198.6 113.4 L1198.8 109.9 L1198.9 105.6 L1199 106.7 L1199.1 107.2 L1199.2 106.4 L1199.3 112.3 L1199.4 104.9 L1199.5 105.2 L1199.6 108.9 L1199.7 105.8 L1199.9 106.4 L1200 108.3 L1200.1 110.9 L1200.2 111.3 L1200.3 108.2 L1200.4 111.6 L1200.5 106.7 L1200.6 104.7 L1200.7 108.4 L1200.8 110.6 L1200.9 103.2 L1201.1 108.3 L1201.2 104.3 L1201.3 109.5 L1201.4 112.3 L1201.5 110.6 L1201.6 110 L1201.7 108.9 L1201.8 111.1 L1201.9 109.7 L1202 107.6 L1202.2 106.3 L1202.3 105.6 L1202.4 110.3 L1202.5 103.6 L1202.6 107.2 L1202.7 109.8 L1202.8 107.4 L1202.9 106.9 L1203 105.4 L1203.1 104.4 L1203.3 111.5 L1203.4 104.1 L1203.5 105.8 L1203.6 103.9 L1203.7 104.6 L1203.8 107.8 L1203.9 105.2 L1204 104.2 L1204.1 110.2 L1204.2 106.8 L1204.3 108.8 L1204.5 107.8 L1204.6 105.9 L1204.7 110.7 L1204.8 105.6 L1204.9 106.7 L1205 102.9 L1205.1 111.7 L1205.2 108 L1205.3 113.8 L1205.4 111.2 L1205.6 111.5 L1205.7 110.9 L1205.8 109.4 L1205.9 110.8 L1206 110.1 L1206.1 109.2 L1206.2 105.5 L1206.3 107.6 L1206.4 106.3 L1206.5 109.1 L1206.6 109.8 L1206.8 105.6 L1206.9 105.9 L1207 107.3 L1207.1 102.5 L1207.2 108.8 L1207.3 103.8 L1207.4 104.4 L1207.5 107 L1207.6 108.6 L1207.7 105 L1207.9 107.2 L1208 104.2 L1208.1 103 L1208.2 106.2 L1208.3 105.5 L1208.4 108.6 L1208.5 102.4 L1208.6 103.1 L1208.7 103.2 L1208.8 107.2 L1208.9 107.2 L1209.1 111.1 L1209.2 104.6 L1209.3 109 L1209.4 109.2 L1209.5 108.8 L1209.6 104.4 L1209.7 109.4 L1209.8 109 L1209.9 108.5 L1210 106.1 L1210.2 107.8 L1210.3 106.6 L1210.4 109.8 L1210.5 111 L1210.6 104.5 L1210.7 109.9 L1210.8 103.1 L1210.9 102.3 L1211 108.5 L1211.1 103.6 L1211.2 102.1 L1211.4 103.7 L1211.5 110.9 L1211.6 102.8 L1211.7 105.3 L1211.8 110.8 L1211.9 101.8 L1212 109.9 L1212.1 103.1 L1212.2 109.2 L1212.3 101.5 L1212.5 101.4 L1212.6 104.2 L1212.7 103.3 L1212.8 105 L1212.9 105.9 L1213 101.8 L1213.1 107.1 L1213.2 110.3 L1213.3 108.3 L1213.4 107.5 L1213.5 106.7 L1213.7 102.6 L1213.8 104.4 L1213.9 107 L1214 104.2 L1214.1 104.7 L1214.2 104.4 L1214.3 108.2 L1214.4 106.7 L1214.5 102.5 L1214.6 108.3 L1214.8 105.4 L1214.9 102.8 L1215 106 L1215.1 108.8 L1215.2 106.2 L1215.3 104.7 L1215.4 101.4 L1215.5 105.2 L1215.6 117.6 L1215.7 101.8 L1215.8 109.2 L1216 103.6 L1216.1 107.7 L1216.2 108.8 L1216.3 108.8 L1216.4 107.1 L1216.5 106.3 L1216.6 104.7 L1216.7 107.2 L1216.8 106.5 L1216.9 106.8 L1217.1 103.2 L1217.2 101.1 L1217.3 101.1 L1217.4 101.2 L1217.5 103.9 L1217.6 105.7 L1217.7 107.6 L1217.8 103.6 L1217.9 109 L1218 102.7 L1218.1 108.7 L1218.3 107.1 L1218.4 102.4 L1218.5 102.9 L1218.6 103.4 L1218.7 102.8 L1218.8 109.2 L1218.9 102.1 L1219 104.8 L1219.1 102.7 L1219.2 106.6 L1219.4 107.8 L1219.5 109.9 L1219.6 106.2 L1219.7 101.6 L1219.8 104.5 L1219.9 101.6 L1220 105.5 L1220.1 106.7 L1220.2 105.7 L1220.3 104.1 L1220.4 105.8 L1220.6 101.3 L1220.7 102.6 L1220.8 109.3 L1220.9 101.7 L1221 100.3 L1221.1 106 L1221.2 106.1 L1221.3 102.3 L1221.4 105.4 L1221.5 109.3 L1221.7 108 L1221.8 102.6 L1221.9 106.7 L1222 105.4 L1222.1 103.4 L1222.2 106.6 L1222.3 103.4 L1222.4 102.1 L1222.5 103.1 L1222.6 107.5 L1222.7 102.8 L1222.9 101.3 L1223 107.1 L1223.1 101.3 L1223.2 102.1 L1223.3 108.3 L1223.4 105.1 L1223.5 100.3 L1223.6 105.7 L1223.7 104 L1223.8 103.3 L1224 103 L1224.1 107.1 L1224.2 101.8 L1224.3 108.9 L1224.4 106.5 L1224.5 100.7 L1224.6 107.4 L1224.7 106.5 L1224.8 103.3 L1224.9 103.4 L1225 108.9 L1225.2 104.9 L1225.3 103 L1225.4 107.9 L1225.5 105.6 L1225.6 104.4 L1225.7 106.7 L1225.8 100.9 L1225.9 100.1 L1226 104.4 L1226.1 107.4 L1226.3 102.1 L1226.4 101.2 L1226.5 101.9 L1226.6 100.3 L1226.7 102.1 L1226.8 107.6 L1226.9 108 L1227 104.3 L1227.1 101.4 L1227.2 103.5 L1227.3 108 L1227.5 107.5 L1227.6 106.2 L1227.7 102.3 L1227.8 105.5 L1227.9 102.7 L1228 103.4 L1228.1 104.1 L1228.2 107.6 L1228.3 102.7 L1228.4 104.8 L1228.6 106.4 L1228.7 101 L1228.8 103.5 L1228.9 100.5 L1229 105.6 L1229.1 99.2 L1229.2 104.8 L1229.3 107.9 L1229.4 100.1 L1229.5 99.6 L1229.6 104.7 L1229.8 102.2 L1229.9 101 L1230 102.2 L1230.1 106.1 L1230.2 104.1 L1230.3 108.1 L1230.4 104.5 L1230.5 103.7 L1230.6 101.1 L1230.7 103.2 L1230.9 100.5 L1231 104.2 L1231.1 102 L1231.2 106.4 L1231.3 100.9 L1231.4 99.4 L1231.5 107.7 L1231.6 102.3 L1231.7 103.6 L1231.8 101.4 L1232 107.5 L1232.1 105.4 L1232.2 98.9 L1232.3 99.3 L1232.4 103.4 L1232.5 105.4 L1232.6 103.6 L1232.7 104.9 L1232.8 102.2 L1232.9 102.8 L1233 100.9 L1233.2 103.6 L1233.3 102.5 L1233.4 99.8 L1233.5 103.9 L1233.6 105.1 L1233.7 99.4 L1233.8 99.3 L1233.9 98.7 L1234 104.9 L1234.1 105.9 L1234.3 99.4 L1234.4 107.7 L1234.5 106.3 L1234.6 101.4 L1234.7 104.9 L1234.8 102.1 L1234.9 98.9 L1235 101.5 L1235.1 101.3 L1235.2 100.8 L1235.3 103 L1235.5 102.5 L1235.6 102.3 L1235.7 103.4 L1235.8 103.4 L1235.9 98.8 L1236 106.1 L1236.1 103.3 L1236.2 99 L1236.3 99.1 L1236.4 105.8 L1236.6 105.1 L1236.7 102.3 L1236.8 105.7 L1236.9 99.6 L1237 107.3 L1237.1 101.6 L1237.2 104.5 L1237.3 103.1 L1237.4 105.2 L1237.5 101.5 L1237.6 100.4 L1237.8 99.5 L1237.9 102.4 L1238 105.2 L1238.1 101.3 L1238.2 104.5 L1238.3 106.6 L1238.4 99.7 L1238.5 99 L1238.6 104.2 L1238.7 106.7 L1238.9 104.9 L1239 99.2 L1239.1 99.4 L1239.2 102.4 L1239.3 97.9 L1239.4 100.7 L1239.5 101.1 L1239.6 104.6 L1239.7 102.5 L1239.8 103.7 L1239.9 100.9 L1240.1 101.5 L1240.2 98.6 L1240.3 105.3 L1240.4 100.3 L1240.5 100.1 L1240.6 106.1 L1240.7 102.8 L1240.8 105.9 L1240.9 99.2 L1241 104.9 L1241.2 98.1 L1241.3 105.2 L1241.4 99.8 L1241.5 102.5 L1241.6 104.1 L1241.7 102 L1241.8 105 L1241.9 103.4 L1242 103 L1242.1 106.1 L1242.2 102.4 L1242.4 106.4 L1242.5 106.4 L1242.6 103.3 L1242.7 101 L1242.8 104.8 L1242.9 104 L1243 105.4 L1243.1 103.1 L1243.2 105.8 L1243.3 102.4 L1243.5 105.7 L1243.6 101.6 L1243.7 99.9 L1243.8 104.6 L1243.9 97.7 L1244 99.5 L1244.1 104.6 L1244.2 105.7 L1244.3 101.3 L1244.4 103.7 L1244.5 106.3 L1244.7 100.6 L1244.8 104.5 L1244.9 98.6 L1245 102.5 L1245.1 104.3 L1245.2 100.2 L1245.3 105.3 L1245.4 99.8 L1245.5 100.6 L1245.6 98.4 L1245.8 100 L1245.9 104.9 L1246 101.5 L1246.1 101.3 L1246.2 102.3 L1246.3 100.6 L1246.4 102.5 L1246.5 103.3 L1246.6 98.7 L1246.7 101.3 L1246.8 99 L1247 97 L1247.1 103.2 L1247.2 105.9 L1247.3 104.5 L1247.4 101.2 L1247.5 98.8 L1247.6 105.4 L1247.7 101.9 L1247.8 104.8 L1247.9 99.8 L1248.1 102.8 L1248.2 103.9 L1248.3 103.9 L1248.4 99.8 L1248.5 105.4 L1248.6 103.3 L1248.7 98.7 L1248.8 98.4 L1248.9 103.5 L1249 98.5 L1249.1 99 L1249.3 101.3 L1249.4 98.7 L1249.5 98.2 L1249.6 99.8 L1249.7 99.4 L1249.8 99.5 L1249.9 103.6 L1250 97.9 L1250.1 100.6 L1250.2 103.3 L1250.4 101.4 L1250.5 96.7 L1250.6 96.7 L1250.7 103.7 L1250.8 102.6 L1250.9 102 L1251 99.4 L1251.1 99.5 L1251.2 100.1 L1251.3 101.3 L1251.4 103.1 L1251.6 98.4 L1251.7 100.2 L1251.8 102.6 L1251.9 101.2 L1252 98.8 L1252.1 97.2 L1252.2 102 L1252.3 105.2 L1252.4 102.6 L1252.5 105.1 L1252.7 102.6 L1252.8 103.1 L1252.9 104.4 L1253 104.5 L1253.1 102.8 L1253.2 104.1 L1253.3 101.1 L1253.4 96.7 L1253.5 97 L1253.6 100.5 L1253.7 96.6 L1253.9 96.1 L1254 99.8 L1254.1 98.1 L1254.2 96.4 L1254.3 103.7 L1254.4 100.5 L1254.5 104.7 L1254.6 104.3 L1254.7 100.1 L1254.8 98.2 L1255 99 L1255.1 104.6 L1255.2 102.8 L1255.3 100.2 L1255.4 102.8 L1255.5 102.9 L1255.6 100.3 L1255.7 97.1 L1255.8 104.2 L1255.9 100.5 L1256 102.3 L1256.2 97.3 L1256.3 100.3 L1256.4 98.6 L1256.5 97.2 L1256.6 104.7 L1256.7 96.9 L1256.8 103 L1256.9 99.1 L1257 104.4 L1257.1 101.9 L1257.3 97.1 L1257.4 98.1 L1257.5 98.9 L1257.6 103.1 L1257.7 98.9 L1257.8 103.7 L1257.9 97.5 L1258 102.4 L1258.1 95.9 L1258.2 101.6 L1258.3 100.2 L1258.5 104.3 L1258.6 97.2 L1258.7 98.2 L1258.8 102.4 L1258.9 95.7 L1259 97 L1259.1 103.3 L1259.2 102.2 L1259.3 100.1 L1259.4 101.3 L1259.6 99.3 L1259.7 97.5 L1259.8 95.8 L1259.9 104.4 L1260 98.9 L1260.1 101.6 L1260.2 101.9 L1260.3 102.4 L1260.4 97.9 L1260.5 102.5 L1260.7 98.6 L1260.8 99.7 L1260.9 101.4 L1261 104.1 L1261.1 98.6 L1261.2 97.9 L1261.3 101.7 L1261.4 95.3 L1261.5 99.2 L1261.6 104 L1261.7 100.1 L1261.9 96.6 L1262 98.2 L1262.1 97.1 L1262.2 101.5 L1262.3 102.9 L1262.4 97.8 L1262.5 104.3 L1262.6 98.8 L1262.7 96.5 L1262.8 101.5 L1263 106.4 L1263.1 104.1 L1263.2 102 L1263.3 101 L1263.4 101.6 L1263.5 99 L1263.6 102.9 L1263.7 101.8 L1263.8 99.2 L1263.9 97.5 L1264 96.7 L1264.2 100.8 L1264.3 102.5 L1264.4 97.9 L1264.5 98.3 L1264.6 96.6 L1264.7 95.9 L1264.8 97.4 L1264.9 101.2 L1265 98.6 L1265.1 98.4 L1265.3 101.9 L1265.4 99.8 L1265.5 101.7 L1265.6 103.2 L1265.7 101 L1265.8 99.2 L1265.9 95 L1266 95.3 L1266.1 101.6 L1266.2 95.2 L1266.3 99.7 L1266.5 96 L1266.6 102.2 L1266.7 100.9 L1266.8 97 L1266.9 101.5 L1267 99.4 L1267.1 97.5 L1267.2 99.3 L1267.3 103.2 L1267.4 96.1 L1267.6 102.1 L1267.7 94.7 L1267.8 95.5 L1267.9 95.6 L1268 98.8 L1268.1 103 L1268.2 95.6 L1268.3 96.4 L1268.4 99.2 L1268.5 96.3 L1268.6 99.2 L1268.8 96.7 L1268.9 94.3 L1269 96.9 L1269.1 95 L1269.2 101.6 L1269.3 96.5 L1269.4 96.6 L1269.5 94.3 L1269.6 98.8 L1269.7 94.4 L1269.9 99.4 L1270 101.2 L1270.1 100.4 L1270.2 101.6 L1270.3 99.1 L1270.4 96.1 L1270.5 101.7 L1270.6 98.9 L1270.7 103 L1270.8 101.8 L1270.9 97 L1271.1 102.3 L1271.2 101.5 L1271.3 101 L1271.4 102.5 L1271.5 101.9 L1271.6 100.1 L1271.7 100.5 L1271.8 97.4 L1271.9 101.4 L1272 100.3 L1272.2 97.4 L1272.3 97.6 L1272.4 99.7 L1272.5 97.3 L1272.6 103.1 L1272.7 97.4 L1272.8 95 L1272.9 94.5 L1273 98.6 L1273.1 97.1 L1273.2 100.3 L1273.4 95.1 L1273.5 101.4 L1273.6 97 L1273.7 101.5 L1273.8 102.1 L1273.9 99.5 L1274 101.6 L1274.1 99.1 L1274.2 100.5 L1274.3 102.2 L1274.5 93.8 L1274.6 100.2 L1274.7 99.4 L1274.8 100 L1274.9 94.9 L1275 93.9 L1275.1 96.3 L1275.2 97.7 L1275.3 96.9 L1275.4 96.9 L1275.5 95.9 L1275.7 98.5 L1275.8 95.5 L1275.9 101.4 L1276 104.8 L1276.1 101.3 L1276.2 97.6 L1276.3 95.9 L1276.4 99.2 L1276.5 102 L1276.6 97.5 L1276.8 100.2 L1276.9 95 L1277 94.3 L1277.1 97.4 L1277.2 98.9 L1277.3 99.9 L1277.4 96.6 L1277.5 95.1 L1277.6 100.9 L1277.7 99.7 L1277.8 97.1 L1278 99.3 L1278.1 97.1 L1278.2 101.7 L1278.3 98.6 L1278.4 99.9 L1278.5 102.1 L1278.6 100.9 L1278.7 99.2 L1278.8 98.2 L1278.9 99.5 L1279.1 95.4 L1279.2 96.8 L1279.3 99.3 L1279.4 96 L1279.5 96.9 L1279.6 99.8 L1279.7 98.9 L1279.8 99.1 L1279.9 94 L1280 97.8 L1280.1 93.6 L1280.3 93.8 L1280.4 104.6 L1280.5 98.5 L1280.6 96.5 L1280.7 97.3 L1280.8 99.7 L1280.9 93.6 L1281 97.5 L1281.1 97 L1281.2 94.8 L1281.4 98.6 L1281.5 100.1 L1281.6 97.1 L1281.7 99.6 L1281.8 100.4 L1281.9 100.8 L1282 101.3 L1282.1 98.5 L1282.2 99.1 L1282.3 97.6 L1282.4 93.6 L1282.6 100.2 L1282.7 101.5 L1282.8 101.5 L1282.9 101.6 L1283 101.5 L1283.1 96.1 L1283.2 93.1 L1283.3 94 L1283.4 93 L1283.5 95.1 L1283.7 95.2 L1283.8 94.4 L1283.9 98.4 L1284 98.9 L1284.1 99 L1284.2 100.9 L1284.3 99.1 L1284.4 95.1 L1284.5 95.7 L1284.6 96.2 L1284.7 98.3 L1284.9 94.7 L1285 100.6 L1285.1 94.2 L1285.2 98.3 L1285.3 98.1 L1285.4 97.2 L1285.5 106.8 L1285.6 97.7 L1285.7 98.9 L1285.8 100.4 L1286 95.1 L1286.1 97.4 L1286.2 95.5 L1286.3 93.3 L1286.4 96 L1286.5 98.5 L1286.6 95.6 L1286.7 95.5 L1286.8 97.4 L1286.9 93.2 L1287 96 L1287.2 93.6 L1287.3 92.6 L1287.4 97.9 L1287.5 96.5 L1287.6 92.9 L1287.7 93.4 L1287.8 94.9 L1287.9 97.6 L1288 95.7 L1288.1 92.3 L1288.3 99.7 L1288.4 98.7 L1288.5 94.3 L1288.6 101 L1288.7 97.2 L1288.8 92.8 L1288.9 96.4 L1289 94.2 L1289.1 99.4 L1289.2 98.9 L1289.4 96.1 L1289.5 94 L1289.6 100.5 L1289.7 95.9 L1289.8 94 L1289.9 99.8 L1290 99.8 L1290.1 93.8 L1290.2 95.1 L1290.3 92.4 L1290.4 92.2 L1290.6 98.7 L1290.7 98.2 L1290.8 98.3 L1290.9 94.3 L1291 92.9 L1291.1 98.7 L1291.2 93.5 L1291.3 99.7 L1291.4 97.2 L1291.5 96 L1291.7 92.1 L1291.8 95.7 L1291.9 97.5 L1292 98.7 L1292.1 98.5 L1292.2 97.9 L1292.3 98.2 L1292.4 99.4 L1292.5 100.1 L1292.6 98.6 L1292.7 93.5 L1292.9 93.4 L1293 99 L1293.1 95.5 L1293.2 95.3 L1293.3 94.7 L1293.4 95.7 L1293.5 95.6 L1293.6 93.9 L1293.7 99.4 L1293.8 94.6 L1294 94.3 L1294.1 97.6 L1294.2 91.8 L1294.3 92.4 L1294.4 98.2 L1294.5 96.3 L1294.6 94.2 L1294.7 97.6 L1294.8 93.7 L1294.9 97.5 L1295 100 L1295.2 95.1 L1295.3 97.1 L1295.4 94.1 L1295.5 93.1 L1295.6 97.5 L1295.7 95.1 L1295.8 97.2 L1295.9 98.9 L1296 94.3 L1296.1 92.9 L1296.3 91.4 L1296.4 92.8 L1296.5 91.5 L1296.6 92.3 L1296.7 96.1 L1296.8 94.4 L1296.9 91.9 L1297 93.4 L1297.1 91.2 L1297.2 97.3 L1297.3 98.5 L1297.5 94.9 L1297.6 97.7 L1297.7 99.6 L1297.8 93 L1297.9 92.6 L1298 93 L1298.1 94.2 L1298.2 91.9 L1298.3 91.5 L1298.4 99.4 L1298.6 96.3 L1298.7 92 L1298.8 98 L1298.9 95.4 L1299 96.3 L1299.1 98.9 L1299.2 91.3 L1299.3 91.3 L1299.4 92.2 L1299.5 95.4 L1299.6 98.2 L1299.8 94.6 L1299.9 93.7 L1300 93.6 L1300.1 91.2 L1300.2 90.8 L1300.3 95.7 L1300.4 95.2 L1300.5 92.6 L1300.6 92.4 L1300.7 93.7 L1300.9 98 L1301 92.4 L1301.1 95.6 L1301.2 94 L1301.3 96.4 L1301.4 92.3 L1301.5 93.9 L1301.6 91.2 L1301.7 97.2 L1301.8 93.2 L1301.9 97.9 L1302.1 99.1 L1302.2 97.7 L1302.3 97.5 L1302.4 95.2 L1302.5 98.1 L1302.6 91.9 L1302.7 92.6 L1302.8 92 L1302.9 94.3 L1303 94.5 L1303.2 92.9 L1303.3 94.4 L1303.4 91.6 L1303.5 92.8 L1303.6 93.9 L1303.7 92.4 L1303.8 93.8 L1303.9 90.4 L1304 98.5 L1304.1 97 L1304.2 90.9 L1304.4 97.9 L1304.5 90.8 L1304.6 94 L1304.7 93.4 L1304.8 90.9 L1304.9 93.4 L1305 91.1 L1305.1 94.9 L1305.2 96.6 L1305.3 96.6 L1305.5 90.5 L1305.6 94.5 L1305.7 93.7 L1305.8 93.6 L1305.9 93.5 L1306 97.2 L1306.1 96 L1306.2 90.2 L1306.3 91.8 L1306.4 97.7 L1306.5 91 L1306.7 95 L1306.8 90.3 L1306.9 97.8 L1307 97 L1307.1 96.9 L1307.2 93.6 L1307.3 98 L1307.4 94.9 L1307.5 93.5 L1307.6 98.5 L1307.8 90.1 L1307.9 97.6 L1308 93.8 L1308.1 95.9 L1308.2 95.2 L1308.3 90.3 L1308.4 94.7 L1308.5 91.7 L1308.6 91.2 L1308.7 94.6 L1308.8 96 L1309 91.6 L1309.1 96.7 L1309.2 94.5 L1309.3 97.4 L1309.4 96.8 L1309.5 95.7 L1309.6 98.1 L1309.7 94.8 L1309.8 90.8 L1309.9 95.6 L1310.1 97.9 L1310.2 94.4 L1310.3 90.1 L1310.4 96.1 L1310.5 94.2 L1310.6 95.4 L1310.7 94.4 L1310.8 96.8 L1310.9 104.2 L1311 93.5 L1311.1 90.8 L1311.3 97.2 L1311.4 98.1 L1311.5 97.8 L1311.6 97.2 L1311.7 91.2 L1311.8 97.2 L1311.9 91.4 L1312 95.5 L1312.1 92.3 L1312.2 97.3 L1312.4 97.8 L1312.5 92.8 L1312.6 96.5 L1312.7 94.7 L1312.8 93 L1312.9 90.1 L1313 91.3 L1313.1 92.2 L1313.2 90.2 L1313.3 95.1 L1313.4 92.4 L1313.6 96.7 L1313.7 97 L1313.8 95.4 L1313.9 92.3 L1314 96.1 L1314.1 96.1 L1314.2 95.4 L1314.3 92.8 L1314.4 92.6 L1314.5 90.8 L1314.7 94.4 L1314.8 96.2 L1314.9 96.5 L1315 92.4 L1315.1 92.5 L1315.2 91.6 L1315.3 89.3 L1315.4 95.6 L1315.5 97.6 L1315.6 93.4 L1315.7 91.3 L1315.9 94.4 L1316 92.1 L1316.1 93.9 L1316.2 93.5 L1316.3 97.7 L1316.4 97 L1316.5 93.1 L1316.6 101.2 L1316.7 92.4 L1316.8 96.1 L1317 91.6 L1317.1 91.4 L1317.2 91.9 L1317.3 89.2 L1317.4 95.1 L1317.5 89 L1317.6 89.3 L1317.7 89.1 L1317.8 90.1 L1317.9 90.2 L1318.1 93.2 L1318.2 91.2 L1318.3 92.4 L1318.4 93.1 L1318.5 93.5 L1318.6 95.8 L1318.7 94.1 L1318.8 95.7 L1318.9 92.4 L1319 92.8 L1319.1 92.3 L1319.3 93.3 L1319.4 92.8 L1319.5 89.9 L1319.6 95.8 L1319.7 96.9 L1319.8 93 L1319.9 96.3 L1320 97 L1320.1 91.8 L1320.2 90.1 L1320.4 88.7 L1320.5 92.9 L1320.6 96.2 L1320.7 90.2 L1320.8 93.9 L1320.9 93.8 L1321 95.9 L1321.1 93.5 L1321.2 88.7 L1321.3 90.1 L1321.4 96.1 L1321.6 93.5 L1321.7 94.7 L1321.8 88.3 L1321.9 93.9 L1322 91.4 L1322.1 96.1 L1322.2 93.1 L1322.3 92.5 L1322.4 89.9 L1322.5 90.8 L1322.7 90.1 L1322.8 89.3 L1322.9 91.4 L1323 94.8 L1323.1 94.7 L1323.2 91.3 L1323.3 96 L1323.4 89.2 L1323.5 96 L1323.6 91.8 L1323.7 91.8 L1323.9 93.2 L1324 96.4 L1324.1 89.8 L1324.2 97.2 L1324.3 95.6 L1324.4 94.6 L1324.5 90.3 L1324.6 94 L1324.7 93.8 L1324.8 96.3 L1325 93.4 L1325.1 94.8 L1325.2 94.8 L1325.3 91.8 L1325.4 93 L1325.5 94.8 L1325.6 95.8 L1325.7 88.8 L1325.8 93.5 L1325.9 92.8 L1326 90 L1326.2 95.8 L1326.3 88.9 L1326.4 102 L1326.5 91.3 L1326.6 89 L1326.7 88.7 L1326.8 89.8 L1326.9 92.8 L1327 90.1 L1327.1 89.5 L1327.3 90.9 L1327.4 89 L1327.5 90.5 L1327.6 87.7 L1327.7 91.8 L1327.8 93.5 L1327.9 89.7 L1328 88.3 L1328.1 89.2 L1328.2 92.4 L1328.3 93.3 L1328.5 93.4 L1328.6 88.8 L1328.7 88.1 L1328.8 90.6 L1328.9 95.7 L1329 95.6 L1329.1 91.3 L1329.2 90.5 L1329.3 95.3 L1329.4 91.3 L1329.6 93.1 L1329.7 93.5 L1329.8 95.6 L1329.9 94.2 L1330 88 L1330.1 94.5 L1330.2 90.1 L1330.3 95.7 L1330.4 93.7 L1330.5 88.8 L1330.6 89.3 L1330.8 91.9 L1330.9 92.2 L1331 90.5 L1331.1 93.3 L1331.2 95.1 L1331.3 92.3 L1331.4 87.9 L1331.5 88.8 L1331.6 90.8 L1331.7 87.8 L1331.9 88.7 L1332 95 L1332.1 89.2 L1332.2 95.6 L1332.3 95.2 L1332.4 90.4 L1332.5 93.5 L1332.6 88.3 L1332.7 91.2 L1332.8 92.6 L1332.9 89.1 L1333.1 88.7 L1333.2 93.7 L1333.3 87.1 L1333.4 94.5 L1333.5 93 L1333.6 91.9 L1333.7 91.2 L1333.8 87.1 L1333.9 89.2 L1334 88.8 L1334.2 91.1 L1334.3 90.3 L1334.4 94.8 L1334.5 87.2 L1334.6 91.3 L1334.7 90.8 L1334.8 90.7 L1334.9 87.6 L1335 90.9 L1335.1 90.3 L1335.2 91.4 L1335.4 92.7 L1335.5 94.5 L1335.6 91.2 L1335.7 89.7 L1335.8 93.3 L1335.9 86.8 L1336 90 L1336.1 88.1 L1336.2 90.4 L1336.3 90.4 L1336.5 92.2 L1336.6 92.1 L1336.7 87.5 L1336.8 92.8 L1336.9 90.9 L1337 90.6 L1337.1 88.3 L1337.2 88.5 L1337.3 89.5 L1337.4 89.3 L1337.5 92.9 L1337.7 90.7 L1337.8 89.7 L1337.9 87.1 L1338 94.6 L1338.1 91.7 L1338.2 90.1 L1338.3 87.5 L1338.4 91 L1338.5 96.6 L1338.6 94.6 L1338.8 86.5 L1338.9 93.1 L1339 90.3 L1339.1 91 L1339.2 94.6 L1339.3 94.7 L1339.4 87.3 L1339.5 89 L1339.6 88.5 L1339.7 89.4 L1339.8 90.1 L1340 93.8 L1340.1 91.2 L1340.2 88.9 L1340.3 90.1 L1340.4 89.9 L1340.5 89.7 L1340.6 90.3 L1340.7 91.5 L1340.8 86.1 L1340.9 88.4 L1341.1 88.6 L1341.2 91.1 L1341.3 86.3 L1341.4 87.8 L1341.5 92.3 L1341.6 88.7 L1341.7 93.6 L1341.8 90.6 L1341.9 92.3 L1342 90.8 L1342.1 86.6 L1342.3 91.5 L1342.4 89.2 L1342.5 90.4 L1342.6 87.8 L1342.7 86.5 L1342.8 87.9 L1342.9 88.2 L1343 88.3 L1343.1 86.2 L1343.2 87.6 L1343.4 87.3 L1343.5 91.5 L1343.6 86.6 L1343.7 87 L1343.8 93.1 L1343.9 94.2 L1344 93.7 L1344.1 93.4 L1344.2 87.6 L1344.3 91 L1344.4 88.8 L1344.6 90.1 L1344.7 87.7 L1344.8 88.2 L1344.9 85.9 L1345 93.4 L1345.1 88.6 L1345.2 87.2 L1345.3 88.1 L1345.4 88.7 L1345.5 92.2 L1345.7 90.3 L1345.8 87 L1345.9 92.8 L1346 90.6 L1346.1 89.8 L1346.2 86.7 L1346.3 87.3 L1346.4 92.7 L1346.5 92.2 L1346.6 90.6 L1346.8 93.4 L1346.9 93.5 L1347 92.7 L1347.1 87.2 L1347.2 88.1 L1347.3 90.3 L1347.4 93.2 L1347.5 87.1 L1347.6 87.1 L1347.7 91 L1347.8 88.4 L1348 86.7 L1348.1 89.5 L1348.2 88.4 L1348.3 93.4 L1348.4 93 L1348.5 87.2 L1348.6 86 L1348.7 92 L1348.8 85.3 L1348.9 92.2 L1349.1 85.9 L1349.2 93.5 L1349.3 88.3 L1349.4 91 L1349.5 90.4 L1349.6 85.2 L1349.7 86.9 L1349.8 87.6 L1349.9 87.6 L1350 89.5 L1350.1 90.7 L1350.3 87.1 L1350.4 85.8 L1350.5 97.9 L1350.6 89.9 L1350.7 91 L1350.8 85.6 L1350.9 91.4 L1351 88.2 L1351.1 86.7 L1351.2 92.8 L1351.4 87.3 L1351.5 86.8 L1351.6 92.4 L1351.7 92.4 L1351.8 86.7 L1351.9 92.9 L1352 91.8 L1352.1 92.3 L1352.2 90 L1352.3 89.6 L1352.4 91.1 L1352.6 90.4 L1352.7 89.4 L1352.8 85.4 L1352.9 87.1 L1353 85.1 L1353.1 87.7 L1353.2 91.1 L1353.3 91.7 L1353.4 90.6 L1353.5 90 L1353.7 92.9 L1353.8 91.6 L1353.9 87 L1354 91.1 L1354.1 89.4 L1354.2 88.2 L1354.3 91.1 L1354.4 89.1 L1354.5 92.8 L1354.6 90.7 L1354.7 90.3 L1354.9 85.9 L1355 88.8 L1355.1 92.8 L1355.2 88.8 L1355.3 87.8 L1355.4 87.5 L1355.5 88.7 L1355.6 88.7 L1355.7 85.4 L1355.8 86.7 L1356 88.4 L1356.1 86.4 L1356.2 88.9 L1356.3 92.1 L1356.4 87.8 L1356.5 86.1 L1356.6 90.9 L1356.7 89 L1356.8 86.5 L1356.9 85.2 L1357 87.6 L1357.2 88.8 L1357.3 88.7 L1357.4 88.9 L1357.5 88.6 L1357.6 91.7 L1357.7 88.5 L1357.8 85.8 L1357.9 90.7 L1358 90.1 L1358.1 89.6 L1358.3 87.5 L1358.4 90.3 L1358.5 86.7 L1358.6 86.5 L1358.7 87.6 L1358.8 88.4" fill="none" stroke="#228b22" stroke-width="0.8" stroke-opacity="1" stroke-linejoin="bevel"/>
<path d="M1074.1 172.6 L1074.2 172 L1074.3 171.1 L1074.4 166 L1074.5 164 L1074.6 170.8 L1074.8 167.5 L1074.9 161.8 L1075 169.1 L1075.1 169.3 L1075.2 162.8 L1075.3 167 L1075.4 160.2 L1075.5 162.9 L1075.6 165.9 L1075.7 161.9 L1075.9 162.6 L1076 158.6 L1076.1 164.7 L1076.2 161.5 L1076.3 158.9 L1076.4 163.6 L1076.5 165.2 L1076.6 160.8 L1076.7 162.5 L1076.8 164.7 L1076.9 155.2 L1077.1 160.4 L1077.2 163.8 L1077.3 155.3 L1077.4 156.1 L1077.5 159.1 L1077.6 160.5 L1077.7 158.7 L1077.8 158.4 L1077.9 153.2 L1078 159.9 L1078.2 155.5 L1078.3 152.8 L1078.4 161.6 L1078.5 158.4 L1078.6 156.1 L1078.7 158.8 L1078.8 155.9 L1078.9 152.1 L1079 156.9 L1079.1 158.3 L1079.2 158.1 L1079.4 155.9 L1079.5 159.7 L1079.6 159.8 L1079.7 158.9 L1079.8 153.2 L1079.9 151.9 L1080 154.6 L1080.1 155.8 L1080.2 150.3 L1080.3 154.5 L1080.5 153 L1080.6 148 L1080.7 152.5 L1080.8 152.1 L1080.9 158.2 L1081 148 L1081.1 157.5 L1081.2 157.1 L1081.3 153.5 L1081.4 148.8 L1081.5 155.3 L1081.7 148.3 L1081.8 149.8 L1081.9 153.5 L1082 150.8 L1082.1 150.9 L1082.2 149 L1082.3 145.9 L1082.4 149.3 L1082.5 154.3 L1082.6 154.2 L1082.8 145.8 L1082.9 150.8 L1083 148.4 L1083.1 148.8 L1083.2 155.1 L1083.3 152.9 L1083.4 149.4 L1083.5 149.3 L1083.6 153.6 L1083.7 147.5 L1083.8 151.8 L1084 151 L1084.1 150.9 L1084.2 147.7 L1084.3 150 L1084.4 151.5 L1084.5 145.4 L1084.6 150.4 L1084.7 147.1 L1084.8 147.5 L1084.9 146.6 L1085.1 145.4 L1085.2 149.4 L1085.3 145.2 L1085.4 142.7 L1085.5 149.2 L1085.6 144.8 L1085.7 146.6 L1085.8 150.9 L1085.9 147 L1086 145.5 L1086.1 142.7 L1086.3 147.2 L1086.4 149.8 L1086.5 146.9 L1086.6 147.4 L1086.7 142.3 L1086.8 142 L1086.9 142.4 L1087 143.5 L1087.1 147.9 L1087.2 143.1 L1087.4 139.7 L1087.5 143.5 L1087.6 140.4 L1087.7 144.3 L1087.8 140.9 L1087.9 147.5 L1088 141.7 L1088.1 143.2 L1088.2 143 L1088.3 141 L1088.5 147.1 L1088.6 136.6 L1088.7 144.2 L1088.8 138.8 L1088.9 136.4 L1089 137.6 L1089.1 143.8 L1089.2 145.4 L1089.3 143.8 L1089.4 138.2 L1089.5 140.5 L1089.7 136.2 L1089.8 139.4 L1089.9 137.5 L1090 134.9 L1090.1 137.6 L1090.2 144.5 L1090.3 140 L1090.4 137.1 L1090.5 135.2 L1090.6 143.7 L1090.8 134.7 L1090.9 134.1 L1091 134.8 L1091.1 141.7 L1091.2 143.5 L1091.3 134.2 L1091.4 140.1 L1091.5 140.1 L1091.6 138.6 L1091.7 132.8 L1091.8 140.2 L1092 137.3 L1092.1 142.6 L1092.2 143.3 L1092.3 139.2 L1092.4 133.4 L1092.5 135.5 L1092.6 138.8 L1092.7 141.4 L1092.8 136.3 L1092.9 135.6 L1093.1 138.2 L1093.2 140.8 L1093.3 133.5 L1093.4 137.7 L1093.5 137.9 L1093.6 136.2 L1093.7 134.9 L1093.8 141.2 L1093.9 139.6 L1094 132.4 L1094.1 130.6 L1094.3 133.3 L1094.4 135 L1094.5 132.1 L1094.6 133.9 L1094.7 137.5 L1094.8 138.1 L1094.9 138.8 L1095 138.7 L1095.1 133.3 L1095.2 135.5 L1095.4 137.6 L1095.5 136.1 L1095.6 135.7 L1095.7 138.1 L1095.8 139.5 L1095.9 138.9 L1096 132 L1096.1 130.3 L1096.2 132.1 L1096.3 137.5 L1096.4 132.2 L1096.6 136.7 L1096.7 135 L1096.8 139.3 L1096.9 129.8 L1097 137.3 L1097.1 128.8 L1097.2 135.1 L1097.3 134 L1097.4 130.7 L1097.5 130.9 L1097.7 132.1 L1097.8 133.1 L1097.9 129.5 L1098 132.5 L1098.1 128.6 L1098.2 133 L1098.3 133.4 L1098.4 131.7 L1098.5 132.7 L1098.6 133.5 L1098.7 132.9 L1098.9 129.2 L1099 129.5 L1099.1 130 L1099.2 137.8 L1099.3 132.4 L1099.4 134.5 L1099.5 129.1 L1099.6 132.4 L1099.7 131.5 L1099.8 128.9 L1100 129 L1100.1 129.2 L1100.2 134.5 L1100.3 134.5 L1100.4 135.7 L1100.5 130 L1100.6 131.9 L1100.7 134.1 L1100.8 132.3 L1100.9 135.4 L1101 126.4 L1101.2 133.5 L1101.3 127.5 L1101.4 131.5 L1101.5 130.2 L1101.6 130.7 L1101.7 134.1 L1101.8 126.8 L1101.9 126.3 L1102 135.7 L1102.1 130.8 L1102.3 130 L1102.4 127.2 L1102.5 130.9 L1102.6 132.6 L1102.7 134.9 L1102.8 129.5 L1102.9 126.7 L1103 133.3 L1103.1 128.5 L1103.2 132.8 L1103.3 133.6 L1103.5 135.3 L1103.6 126.9 L1103.7 127.8 L1103.8 129.1 L1103.9 133.6 L1104 129.5 L1104.1 129.4 L1104.2 133.6 L1104.3 126 L1104.4 125.9 L1104.6 125.6 L1104.7 130 L1104.8 126.8 L1104.9 128.3 L1105 129.7 L1105.1 130 L1105.2 128.5 L1105.3 125.8 L1105.4 132.9 L1105.5 133.4 L1105.6 130.2 L1105.8 127.2 L1105.9 134.6 L1106 125.4 L1106.1 133.3 L1106.2 130.6 L1106.3 126.7 L1106.4 130.1 L1106.5 129.7 L1106.6 124 L1106.7 128.7 L1106.9 131.9 L1107 130.4 L1107.1 125.1 L1107.2 125.9 L1107.3 130.9 L1107.4 123.9 L1107.5 130.7 L1107.6 129.1 L1107.7 127.5 L1107.8 127.8 L1107.9 128.3 L1108.1 124.4 L1108.2 132.9 L1108.3 127.6 L1108.4 130.1 L1108.5 124.3 L1108.6 132.3 L1108.7 130.3 L1108.8 125.7 L1108.9 132.4 L1109 132.1 L1109.2 127.7 L1109.3 125.8 L1109.4 131.4 L1109.5 122.9 L1109.6 132.6 L1109.7 132.7 L1109.8 124.6 L1109.9 132.4 L1110 125.6 L1110.1 131 L1110.2 131.5 L1110.4 124.4 L1110.5 126 L1110.6 132.3 L1110.7 130.5 L1110.8 129.6 L1110.9 124.7 L1111 129.8 L1111.1 122.7 L1111.2 124.9 L1111.3 124.8 L1111.5 122.7 L1111.6 126.9 L1111.7 122.4 L1111.8 132.2 L1111.9 127 L1112 129.9 L1112.1 127.4 L1112.2 123.2 L1112.3 126.5 L1112.4 121.9 L1112.5 124.9 L1112.7 128.3 L1112.8 123.6 L1112.9 131.1 L1113 128.2 L1113.1 121.9 L1113.2 126 L1113.3 130.7 L1113.4 124.1 L1113.5 122.7 L1113.6 124.3 L1113.8 126.4 L1113.9 125.4 L1114 123.8 L1114.1 126.1 L1114.2 126.2 L1114.3 128.4 L1114.4 131.4 L1114.5 127.6 L1114.6 121.9 L1114.7 122.7 L1114.8 124.1 L1115 130.6 L1115.1 121.7 L1115.2 127.6 L1115.3 125.1 L1115.4 123.4 L1115.5 127.4 L1115.6 128.5 L1115.7 128.6 L1115.8 123 L1115.9 122.7 L1116.1 122.7 L1116.2 123 L1116.3 122.8 L1116.4 125.9 L1116.5 123.8 L1116.6 126.8 L1116.7 130.4 L1116.8 128.5 L1116.9 121.4 L1117 130 L1117.2 124.3 L1117.3 122.2 L1117.4 122.8 L1117.5 120.9 L1117.6 123.1 L1117.7 125 L1117.8 121.3 L1117.9 129.9 L1118 124.5 L1118.1 125.6 L1118.2 123.3 L1118.4 129.2 L1118.5 128.7 L1118.6 124.9 L1118.7 120 L1118.8 126.6 L1118.9 123.3 L1119 121.3 L1119.1 124.5 L1119.2 127.2 L1119.3 126.4 L1119.5 120.8 L1119.6 128.9 L1119.7 124.5 L1119.8 128.8 L1119.9 123.9 L1120 128.7 L1120.1 128 L1120.2 120 L1120.3 128.4 L1120.4 126.3 L1120.5 125.3 L1120.7 119.5 L1120.8 125.7 L1120.9 125.8 L1121 128 L1121.1 123.3 L1121.2 120 L1121.3 126.6 L1121.4 122.9 L1121.5 122.5 L1121.6 125.9 L1121.8 119.6 L1121.9 119.5 L1122 128.8 L1122.1 127.8 L1122.2 127 L1122.3 123.8 L1122.4 122.9 L1122.5 120.8 L1122.6 119.3 L1122.7 126.8 L1122.8 121.4 L1123 126.3 L1123.1 119.4 L1123.2 121.3 L1123.3 123 L1123.4 122.5 L1123.5 120.8 L1123.6 126.4 L1123.7 119.4 L1123.8 124.7 L1123.9 124.2 L1124.1 123.8 L1124.2 120.4 L1124.3 125 L1124.4 125.6 L1124.5 124.1 L1124.6 124.2 L1124.7 123.8 L1124.8 122.7 L1124.9 124.1 L1125 123.5 L1125.1 121.2 L1125.3 126.7 L1125.4 121.7 L1125.5 119.3 L1125.6 124.4 L1125.7 126.6 L1125.8 119.3 L1125.9 118.5 L1126 121.3 L1126.1 120.8 L1126.2 119.6 L1126.4 120.8 L1126.5 122.2 L1126.6 120.2 L1126.7 123.2 L1126.8 122 L1126.9 121.8 L1127 119 L1127.1 125.3 L1127.2 123.9 L1127.3 123.3 L1127.4 120.9 L1127.6 127.5 L1127.7 124.9 L1127.8 125.8 L1127.9 123.2 L1128 123.7 L1128.1 124.4 L1128.2 120.4 L1128.3 120.1 L1128.4 125.1 L1128.5 120.6 L1128.7 117.8 L1128.8 122 L1128.9 125.9 L1129 121.6 L1129.1 122.9 L1129.2 126.2 L1129.3 118.9 L1129.4 119.2 L1129.5 117.5 L1129.6 120.8 L1129.7 118.5 L1129.9 122.8 L1130 120.5 L1130.1 118.1 L1130.2 124.2 L1130.3 124.5 L1130.4 125.9 L1130.5 120.6 L1130.6 122.4 L1130.7 123.2 L1130.8 125.5 L1131 126.1 L1131.1 120.2 L1131.2 119.1 L1131.3 119.6 L1131.4 119.5 L1131.5 124.4 L1131.6 122.9 L1131.7 118 L1131.8 122.9 L1131.9 123.2 L1132 121.5 L1132.2 123.8 L1132.3 117.4 L1132.4 123.3 L1132.5 117.2 L1132.6 124.9 L1132.7 121.8 L1132.8 124.7 L1132.9 118 L1133 118.5 L1133.1 124.5 L1133.3 117.4 L1133.4 119.6 L1133.5 123.9 L1133.6 124.6 L1133.7 117.8 L1133.8 117 L1133.9 122.4 L1134 118.5 L1134.1 119.1 L1134.2 116.8 L1134.3 119.7 L1134.5 124 L1134.6 121.7 L1134.7 116.5 L1134.8 116.9 L1134.9 124.6 L1135 122.1 L1135.1 117.8 L1135.2 122 L1135.3 123.6 L1135.4 123.9 L1135.6 122.2 L1135.7 117.3 L1135.8 124 L1135.9 122.3 L1136 123.7 L1136.1 120.4 L1136.2 124.1 L1136.3 123.4 L1136.4 119 L1136.5 117.3 L1136.6 121.6 L1136.8 117.7 L1136.9 119 L1137 119.4 L1137.1 119.4 L1137.2 119 L1137.3 122.2 L1137.4 121.3 L1137.5 117.2 L1137.6 121.7 L1137.7 122.6 L1137.9 119.8 L1138 115.8 L1138.1 122.9 L1138.2 122.2 L1138.3 116 L1138.4 118 L1138.5 122.5 L1138.6 121.3 L1138.7 116.7 L1138.8 118.5 L1138.9 115.7 L1139.1 123.6 L1139.2 122.6 L1139.3 117.5 L1139.4 119.1 L1139.5 122.1 L1139.6 120.1 L1139.7 116 L1139.8 122.4 L1139.9 121.7 L1140 115.2 L1140.2 123 L1140.3 119.4 L1140.4 120.4 L1140.5 121.3 L1140.6 123.2 L1140.7 122.3 L1140.8 117.2 L1140.9 118.6 L1141 122.9 L1141.1 120.7 L1141.2 119.8 L1141.4 119.8 L1141.5 119.3 L1141.6 123.3 L1141.7 123.5 L1141.8 117.8 L1141.9 114.7 L1142 116.1 L1142.1 116.9 L1142.2 118.4 L1142.3 120.8 L1142.5 120.6 L1142.6 118.9 L1142.7 123 L1142.8 116.2 L1142.9 118.2 L1143 121.8 L1143.1 120.6 L1143.2 119.3 L1143.3 120.7 L1143.4 114.3 L1143.5 120.8 L1143.7 118.9 L1143.8 122 L1143.9 115.8 L1144 117.8 L1144.1 123.1 L1144.2 117 L1144.3 120.3 L1144.4 122.5 L1144.5 119 L1144.6 118.7 L1144.8 118.7 L1144.9 116.2 L1145 118.6 L1145.1 120.4 L1145.2 118.4 L1145.3 116.8 L1145.4 117.4 L1145.5 114.6 L1145.6 113.8 L1145.7 122.2 L1145.9 117.1 L1146 120.3 L1146.1 119.7 L1146.2 116.1 L1146.3 116.4 L1146.4 119.5 L1146.5 118.1 L1146.6 119.5 L1146.7 118.7 L1146.8 117.7 L1146.9 119.2 L1147.1 117.5 L1147.2 113.9 L1147.3 118.2 L1147.4 121.9 L1147.5 120 L1147.6 115.7 L1147.7 117.8 L1147.8 114.1 L1147.9 119.3 L1148 116.6 L1148.2 118.5 L1148.3 121.9 L1148.4 118.6 L1148.5 120.3 L1148.6 113.1 L1148.7 115.9 L1148.8 118.2 L1148.9 114.7 L1149 117.9 L1149.1 116 L1149.2 117.1 L1149.4 113.6 L1149.5 119.3 L1149.6 115.1 L1149.7 115.8 L1149.8 114.2 L1149.9 115 L1150 114 L1150.1 121.6 L1150.2 119.9 L1150.3 119.4 L1150.5 113.4 L1150.6 114.8 L1150.7 120.8 L1150.8 125.2 L1150.9 114.1 L1151 117.8 L1151.1 118.5 L1151.2 116.1 L1151.3 115.4 L1151.4 114.7 L1151.5 118.7 L1151.7 115.2 L1151.8 118.8 L1151.9 112.5 L1152 117 L1152.1 120.1 L1152.2 113.3 L1152.3 112.2 L1152.4 118.7 L1152.5 113.8 L1152.6 117.1 L1152.8 112.1 L1152.9 116.5 L1153 115.7 L1153.1 112.1 L1153.2 114.6 L1153.3 116 L1153.4 116.5 L1153.5 114.7 L1153.6 117.7 L1153.7 118.5 L1153.8 112.7 L1154 119.9 L1154.1 114.9 L1154.2 117.1 L1154.3 119.9 L1154.4 117.8 L1154.5 115.4 L1154.6 118.4 L1154.7 114.5 L1154.8 111.8 L1154.9 117.6 L1155.1 115 L1155.2 119.1 L1155.3 111.7 L1155.4 117.8 L1155.5 115.4 L1155.6 111.7 L1155.7 114.9 L1155.8 118.5 L1155.9 119.2 L1156 116.9 L1156.1 117.6 L1156.3 119.1 L1156.4 121.7 L1156.5 115.7 L1156.6 111.4 L1156.7 117 L1156.8 111.5 L1156.9 111.6 L1157 115.5 L1157.1 116.4 L1157.2 111.8 L1157.4 116.7 L1157.5 117.5 L1157.6 119.1 L1157.7 114.9 L1157.8 119.5 L1157.9 112.6 L1158 115.9 L1158.1 114.2 L1158.2 114 L1158.3 113 L1158.4 119.5 L1158.6 119.1 L1158.7 116.1 L1158.8 111.3 L1158.9 112.5 L1159 112 L1159.1 113.1 L1159.2 114.5 L1159.3 114 L1159.4 114.4 L1159.5 117.6 L1159.7 114.2 L1159.8 115 L1159.9 114.6 L1160 112.6 L1160.1 115.6 L1160.2 111.8 L1160.3 111.2 L1160.4 115.4 L1160.5 116.4 L1160.6 111.1 L1160.7 114.6 L1160.9 111.2 L1161 113.1 L1161.1 115.9 L1161.2 116 L1161.3 113.8 L1161.4 117.4 L1161.5 117.6 L1161.6 111.8 L1161.7 118.3 L1161.8 112 L1162 118 L1162.1 115.2 L1162.2 118.2 L1162.3 112.8 L1162.4 117.2 L1162.5 112.8 L1162.6 115.9 L1162.7 116.3 L1162.8 117 L1162.9 115.2 L1163 113.5 L1163.2 109.6 L1163.3 116 L1163.4 114.6 L1163.5 110.5 L1163.6 115.7 L1163.7 112.8 L1163.8 115.3 L1163.9 113.4 L1164 116.5 L1164.1 115.8 L1164.3 117.2 L1164.4 117.2 L1164.5 109.3 L1164.6 114.7 L1164.7 118 L1164.8 109.4 L1164.9 115.9 L1165 111.6 L1165.1 114.1 L1165.2 109.8 L1165.3 117.5 L1165.5 116.6 L1165.6 115.7 L1165.7 115.3 L1165.8 116.9 L1165.9 114 L1166 110.9 L1166.1 113.6 L1166.2 116.2 L1166.3 111.6 L1166.4 112.5 L1166.6 116.1 L1166.7 109.3 L1166.8 109.2 L1166.9 111.8 L1167 116.2 L1167.1 109.7 L1167.2 113.5 L1167.3 114.6 L1167.4 109.1 L1167.5 116.1 L1167.6 115.5 L1167.8 108.8 L1167.9 112.6 L1168 112.2 L1168.1 115.1 L1168.2 108.7 L1168.3 111.5 L1168.4 108.8 L1168.5 112.9 L1168.6 109 L1168.7 115.4 L1168.9 111.2 L1169 108.3 L1169.1 110.9 L1169.2 112.9 L1169.3 110 L1169.4 109.4 L1169.5 115 L1169.6 113.2 L1169.7 108.4 L1169.8 114.2 L1169.9 108.8 L1170.1 115 L1170.2 115.3 L1170.3 110.4 L1170.4 108 L1170.5 112.7 L1170.6 112.9 L1170.7 110.7 L1170.8 111.3 L1170.9 108 L1171 116.2 L1171.2 108.6 L1171.3 111.7 L1171.4 110 L1171.5 113.2 L1171.6 109.7 L1171.7 108.1 L1171.8 112.1 L1171.9 109.8 L1172 113.4 L1172.1 110.1 L1172.2 115.5 L1172.4 112.6 L1172.5 111.9 L1172.6 111.7 L1172.7 112.5 L1172.8 112.2 L1172.9 112 L1173 109 L1173.1 114.2 L1173.2 110.7 L1173.3 109.4 L1173.5 112.7 L1173.6 112.9 L1173.7 110.4 L1173.8 113.4 L1173.9 108.9 L1174 107.5 L1174.1 109 L1174.2 113.8 L1174.3 108.1 L1174.4 112.8 L1174.6 112 L1174.7 112.1 L1174.8 110.6 L1174.9 110.6 L1175 114.2 L1175.1 110.4 L1175.2 107.4 L1175.3 110.9 L1175.4 107.4 L1175.5 108.1 L1175.6 108.8 L1175.8 111.2 L1175.9 111.5 L1176 110.3 L1176.1 107.1 L1176.2 107.8 L1176.3 111.8 L1176.4 106.7 L1176.5 113.4 L1176.6 111.8 L1176.7 111.4 L1176.9 114.5 L1177 107.6 L1177.1 111.8 L1177.2 110.1 L1177.3 113.2 L1177.4 111.7 L1177.5 111.4 L1177.6 110 L1177.7 114.2 L1177.8 111.3 L1177.9 108.2 L1178.1 107.2 L1178.2 114.6 L1178.3 114.3 L1178.4 112.1 L1178.5 113.1 L1178.6 114.7 L1178.7 112.6 L1178.8 108.9 L1178.9 112.7 L1179 111.5 L1179.2 107.9 L1179.3 111 L1179.4 114.5 L1179.5 114.4 L1179.6 109.2 L1179.7 114.1 L1179.8 108 L1179.9 109 L1180 107.6 L1180.1 108.9 L1180.2 114.1 L1180.4 107.4 L1180.5 107.6 L1180.6 108.6 L1180.7 113.3 L1180.8 108.3 L1180.9 109 L1181 109.9 L1181.1 112.8 L1181.2 108.8 L1181.3 112 L1181.5 112.7 L1181.6 105.7 L1181.7 113.2 L1181.8 108.2 L1181.9 110 L1182 105.6 L1182.1 113.5 L1182.2 106.2 L1182.3 113.7 L1182.4 109.9 L1182.5 111.6 L1182.7 111.2 L1182.8 105.6 L1182.9 111.3 L1183 107.2 L1183.1 106 L1183.2 113.3 L1183.3 107.3 L1183.4 112.8 L1183.5 107.2 L1183.6 111.5 L1183.8 112.1 L1183.9 108.2 L1184 109.2 L1184.1 112.9 L1184.2 107.1 L1184.3 105.3 L1184.4 111.9 L1184.5 112.9 L1184.6 108.3 L1184.7 106.6 L1184.8 106.9 L1185 109.4 L1185.1 113.3 L1185.2 111.8 L1185.3 111.9 L1185.4 108.1 L1185.5 107.4 L1185.6 110.7 L1185.7 112.9 L1185.8 110.5 L1185.9 113.3 L1186.1 108.6 L1186.2 107.6 L1186.3 105.1 L1186.4 106.8 L1186.5 110.9 L1186.6 111.3 L1186.7 106.5 L1186.8 107.5 L1186.9 105.5 L1187 108.3 L1187.1 107.9 L1187.3 112.6 L1187.4 111.4 L1187.5 112.4 L1187.6 105.5 L1187.7 107.1 L1187.8 111.9 L1187.9 106.4 L1188 107.3 L1188.1 105.2 L1188.2 104.4 L1188.4 109.6 L1188.5 107.5 L1188.6 107.2 L1188.7 107.7 L1188.8 111 L1188.9 105 L1189 104.4 L1189.1 104.8 L1189.2 104.6 L1189.3 109.9 L1189.4 108.5 L1189.6 104.8 L1189.7 107.1 L1189.8 104.6 L1189.9 108.7 L1190 110.5 L1190.1 105.2 L1190.2 111.5 L1190.3 110.8 L1190.4 112.6 L1190.5 108.3 L1190.7 108.5 L1190.8 103.9 L1190.9 111.7 L1191 110.7 L1191.1 109.3 L1191.2 110.4 L1191.3 105.6 L1191.4 110.7 L1191.5 109.8 L1191.6 105.4 L1191.7 110.1 L1191.9 108.6 L1192 109.8 L1192.1 104.9 L1192.2 110.8 L1192.3 106.8 L1192.4 110.9 L1192.5 112.1 L1192.6 103.8 L1192.7 109.1 L1192.8 103.6 L1193 106.1 L1193.1 112 L1193.2 109.1 L1193.3 109.7 L1193.4 107.4 L1193.5 106.4 L1193.6 104.4 L1193.7 108.8 L1193.8 111.7 L1193.9 107.4 L1194 107.3 L1194.2 109.8 L1194.3 103.8 L1194.4 108.8 L1194.5 111.1 L1194.6 104.2 L1194.7 112.8 L1194.8 110.1 L1194.9 111 L1195 104 L1195.1 107.5 L1195.3 109.6 L1195.4 109.8 L1195.5 104.9 L1195.6 111.4 L1195.7 103.9 L1195.8 109 L1195.9 110.9 L1196 110.1 L1196.1 110.6 L1196.2 106.8 L1196.3 110.5 L1196.5 110.6 L1196.6 108 L1196.7 108.4 L1196.8 103.3 L1196.9 105.2 L1197 111.3 L1197.1 108.5 L1197.2 110.9 L1197.3 109.6 L1197.4 108.4 L1197.6 105.9 L1197.7 107.4 L1197.8 104.8 L1197.9 104.4 L1198 107.1 L1198.1 106.9 L1198.2 109.2 L1198.3 108.7 L1198.4 105.7 L1198.5 104.6 L1198.6 108.2 L1198.8 104.1 L1198.9 105 L1199 106.8 L1199.1 109 L1199.2 105.8 L1199.3 105.4 L1199.4 108.3 L1199.5 108.5 L1199.6 107.4 L1199.7 108.9 L1199.9 106 L1200 110.4 L1200.1 107.7 L1200.2 104.4 L1200.3 104.2 L1200.4 108.3 L1200.5 102.6 L1200.6 106.7 L1200.7 108 L1200.8 105.7 L1200.9 110.1 L1201.1 109.3 L1201.2 106.8 L1201.3 106.2 L1201.4 107.6 L1201.5 108.2 L1201.6 109.3 L1201.7 104.7 L1201.8 105 L1201.9 106.7 L1202 108.2 L1202.2 107.3 L1202.3 110.2 L1202.4 106.3 L1202.5 105.5 L1202.6 107.6 L1202.7 110.3 L1202.8 107.6 L1202.9 106.6 L1203 106.7 L1203.1 102 L1203.3 102 L1203.4 106.4 L1203.5 103.9 L1203.6 108.1 L1203.7 106.5 L1203.8 108.5 L1203.9 108 L1204 105.6 L1204.1 108.6 L1204.2 104.4 L1204.3 108.7 L1204.5 106.3 L1204.6 109.3 L1204.7 106.3 L1204.8 104.2 L1204.9 108.9 L1205 108.1 L1205.1 108.5 L1205.2 106.2 L1205.3 108.8 L1205.4 102.9 L1205.6 105.5 L1205.7 102.3 L1205.8 107.6 L1205.9 103.6 L1206 105 L1206.1 105.1 L1206.2 104.5 L1206.3 105 L1206.4 106.3 L1206.5 103.7 L1206.6 104.2 L1206.8 102.4 L1206.9 102.7 L1207 102.1 L1207.1 104.1 L1207.2 102.1 L1207.3 102.8 L1207.4 108.9 L1207.5 106.2 L1207.6 107 L1207.7 108.1 L1207.9 102.3 L1208 103.9 L1208.1 104.9 L1208.2 108.5 L1208.3 106.4 L1208.4 107.6 L1208.5 105.6 L1208.6 103.7 L1208.7 105.4 L1208.8 103.1 L1208.9 107.2 L1209.1 106.3 L1209.2 103.4 L1209.3 106.2 L1209.4 102.3 L1209.5 107.7 L1209.6 102.1 L1209.7 105.1 L1209.8 104.1 L1209.9 101.4 L1210 105 L1210.2 100.7 L1210.3 100.8 L1210.4 102.9 L1210.5 108.2 L1210.6 100.8 L1210.7 101.9 L1210.8 102.7 L1210.9 106.4 L1211 105.7 L1211.1 108.2 L1211.2 104.5 L1211.4 103.8 L1211.5 108.4 L1211.6 104.1 L1211.7 102.1 L1211.8 101.8 L1211.9 101.9 L1212 105 L1212.1 103.6 L1212.2 100.7 L1212.3 103.7 L1212.5 100.6 L1212.6 106.3 L1212.7 105.9 L1212.8 106.6 L1212.9 107.9 L1213 106 L1213.1 100.8 L1213.2 101.2 L1213.3 107 L1213.4 103.8 L1213.5 108 L1213.7 100.6 L1213.8 107.5 L1213.9 100.4 L1214 106.6 L1214.1 102.5 L1214.2 105.8 L1214.3 100.1 L1214.4 101.6 L1214.5 105.8 L1214.6 102.3 L1214.8 100.7 L1214.9 103.5 L1215 106 L1215.1 103.9 L1215.2 100.3 L1215.3 108.2 L1215.4 100.1 L1215.5 104.9 L1215.6 103.7 L1215.7 104.7 L1215.8 106.9 L1216 103.9 L1216.1 100.4 L1216.2 105.6 L1216.3 101.8 L1216.4 103.6 L1216.5 100.9 L1216.6 101 L1216.7 103.3 L1216.8 102.1 L1216.9 101.8 L1217.1 107.6 L1217.2 104.9 L1217.3 100.9 L1217.4 99.9 L1217.5 100 L1217.6 101.5 L1217.7 105.9 L1217.8 106.1 L1217.9 104.3 L1218 102.3 L1218.1 106.6 L1218.3 105.2 L1218.4 103.4 L1218.5 104.3 L1218.6 107 L1218.7 102.8 L1218.8 106.4 L1218.9 106.9 L1219 99.5 L1219.1 103.7 L1219.2 105.9 L1219.4 102.2 L1219.5 100.3 L1219.6 104.5 L1219.7 106.7 L1219.8 101.7 L1219.9 105.4 L1220 106.7 L1220.1 103.5 L1220.2 105.9 L1220.3 103.4 L1220.4 103.1 L1220.6 104.1 L1220.7 102.5 L1220.8 105.8 L1220.9 104.4 L1221 104.4 L1221.1 105.6 L1221.2 102.1 L1221.3 103.8 L1221.4 105.3 L1221.5 105.9 L1221.7 104.6 L1221.8 100.3 L1221.9 103.1 L1222 99.5 L1222.1 101 L1222.2 100 L1222.3 99.5 L1222.4 100.2 L1222.5 99.8 L1222.6 104.9 L1222.7 102.4 L1222.9 101.6 L1223 100.4 L1223.1 104.8 L1223.2 101.8 L1223.3 103.8 L1223.4 100.6 L1223.5 99.4 L1223.6 104.8 L1223.7 104.6 L1223.8 104.6 L1224 105.4 L1224.1 102.4 L1224.2 100.5 L1224.3 106.2 L1224.4 102.4 L1224.5 105.7 L1224.6 99.3 L1224.7 98.7 L1224.8 99.5 L1224.9 106.3 L1225 104.2 L1225.2 104.3 L1225.3 105.4 L1225.4 106.7 L1225.5 102.2 L1225.6 99.3 L1225.7 104.6 L1225.8 105.4 L1225.9 104.2 L1226 100 L1226.1 104.4 L1226.3 102.9 L1226.4 104.6 L1226.5 103.9 L1226.6 106.1 L1226.7 100.4 L1226.8 101.4 L1226.9 98.6 L1227 103.7 L1227.1 101.8 L1227.2 105.7 L1227.3 99.4 L1227.5 103.4 L1227.6 105.6 L1227.7 102.2 L1227.8 103.3 L1227.9 106.2 L1228 105.4 L1228.1 98.2 L1228.2 103.1 L1228.3 100.9 L1228.4 101.9 L1228.6 100.2 L1228.7 106.3 L1228.8 103.5 L1228.9 101.1 L1229 103.6 L1229.1 99.3 L1229.2 105.2 L1229.3 105.4 L1229.4 103.6 L1229.5 99.3 L1229.6 103.7 L1229.8 97.9 L1229.9 98.7 L1230 101.7 L1230.1 99.6 L1230.2 103.3 L1230.3 103.6 L1230.4 102.1 L1230.5 99.5 L1230.6 106.1 L1230.7 104.4 L1230.9 105.6 L1231 98.8 L1231.1 98.3 L1231.2 98 L1231.3 103 L1231.4 104.8 L1231.5 100.9 L1231.6 106 L1231.7 104 L1231.8 99.7 L1232 104 L1232.1 101.1 L1232.2 98.7 L1232.3 97.6 L1232.4 98.3 L1232.5 99 L1232.6 103.1 L1232.7 100 L1232.8 99.1 L1232.9 101.3 L1233 98 L1233.2 102.6 L1233.3 99.5 L1233.4 102.1 L1233.5 101.9 L1233.6 104.1 L1233.7 99.9 L1233.8 104.2 L1233.9 97.8 L1234 105.7 L1234.1 99.7 L1234.3 97.5 L1234.4 100.1 L1234.5 103.8 L1234.6 98.9 L1234.7 98.5 L1234.8 103.8 L1234.9 103.3 L1235 100.7 L1235.1 104.4 L1235.2 103.3 L1235.3 97.6 L1235.5 99.3 L1235.6 101.7 L1235.7 99.9 L1235.8 99.3 L1235.9 100.5 L1236 99 L1236.1 105.3 L1236.2 104.1 L1236.3 104.1 L1236.4 104.9 L1236.6 100.1 L1236.7 102.9 L1236.8 101.3 L1236.9 98.8 L1237 99.9 L1237.1 100.7 L1237.2 97.2 L1237.3 101.3 L1237.4 98.4 L1237.5 103.6 L1237.6 97.5 L1237.8 101.5 L1237.9 99.8 L1238 104.2 L1238.1 99.3 L1238.2 103.4 L1238.3 97.1 L1238.4 99 L1238.5 97.6 L1238.6 98.3 L1238.7 101.5 L1238.9 104.1 L1239 96.8 L1239.1 98.6 L1239.2 103 L1239.3 99.6 L1239.4 96.8 L1239.5 101.4 L1239.6 99.5 L1239.7 104.9 L1239.8 97.9 L1239.9 102.1 L1240.1 101.2 L1240.2 104.6 L1240.3 104.1 L1240.4 101.2 L1240.5 98.4 L1240.6 102.1 L1240.7 96.7 L1240.8 100.3 L1240.9 101.5 L1241 100 L1241.2 102.2 L1241.3 98.4 L1241.4 102 L1241.5 98.9 L1241.6 104.4 L1241.7 101.3 L1241.8 99 L1241.9 99.7 L1242 96.8 L1242.1 101.2 L1242.2 97 L1242.4 98.3 L1242.5 100.1 L1242.6 103.6 L1242.7 98 L1242.8 103.9 L1242.9 99.7 L1243 97.1 L1243.1 102.1 L1243.2 97.2 L1243.3 97.9 L1243.5 104.4 L1243.6 100 L1243.7 102.8 L1243.8 101.3 L1243.9 98.3 L1244 98.9 L1244.1 96.9 L1244.2 96.3 L1244.3 98 L1244.4 96.3 L1244.5 102.1 L1244.7 103.6 L1244.8 101.6 L1244.9 99.7 L1245 100.1 L1245.1 101.5 L1245.2 98.2 L1245.3 100.6 L1245.4 103.5 L1245.5 102 L1245.6 97.7 L1245.8 101.8 L1245.9 98 L1246 101.5 L1246.1 96.6 L1246.2 102.9 L1246.3 101.2 L1246.4 101.4 L1246.5 101.6 L1246.6 98.6 L1246.7 96.4 L1246.8 102.3 L1247 102.2 L1247.1 98.5 L1247.2 102.4 L1247.3 99.2 L1247.4 99.4 L1247.5 99.8 L1247.6 98.9 L1247.7 98.9 L1247.8 103.3 L1247.9 96 L1248.1 98.7 L1248.2 101 L1248.3 101.4 L1248.4 97.8 L1248.5 100.1 L1248.6 98.4 L1248.7 102.1 L1248.8 101.4 L1248.9 95.7 L1249 98.5 L1249.1 102.5 L1249.3 101 L1249.4 103.4 L1249.5 101.5 L1249.6 96.8 L1249.7 96.8 L1249.8 103.5 L1249.9 96.1 L1250 97.3 L1250.1 99.7 L1250.2 98.9 L1250.4 97.1 L1250.5 100.8 L1250.6 101.8 L1250.7 100.9 L1250.8 103.6 L1250.9 99.9 L1251 95.6 L1251.1 101.6 L1251.2 100.2 L1251.3 96.8 L1251.4 99.3 L1251.6 95.3 L1251.7 98.7 L1251.8 99 L1251.9 102.4 L1252 96.7 L1252.1 96.5 L1252.2 95.7 L1252.3 102.4 L1252.4 98.3 L1252.5 100.4 L1252.7 102.5 L1252.8 101.5 L1252.9 96 L1253 97.9 L1253.1 96 L1253.2 95.1 L1253.3 95.6 L1253.4 98.1 L1253.5 101.7 L1253.6 96.4 L1253.7 95.7 L1253.9 99.2 L1254 96.4 L1254.1 98.5 L1254.2 96.6 L1254.3 98.1 L1254.4 99.9 L1254.5 102.5 L1254.6 100.9 L1254.7 96 L1254.8 97.6 L1255 97.5 L1255.1 100.4 L1255.2 99.4 L1255.3 103 L1255.4 100.6 L1255.5 101.8 L1255.6 95.2 L1255.7 102.5 L1255.8 96.4 L1255.9 99.3 L1256 98.2 L1256.2 101.8 L1256.3 101.2 L1256.4 97.6 L1256.5 94.7 L1256.6 101.1 L1256.7 99.7 L1256.8 101.7 L1256.9 97.4 L1257 102 L1257.1 100.2 L1257.3 102.1 L1257.4 97.3 L1257.5 98.3 L1257.6 99.6 L1257.7 99.3 L1257.8 99.7 L1257.9 96.8 L1258 94.8 L1258.1 95.5 L1258.2 101.4 L1258.3 95.3 L1258.5 101.2 L1258.6 101.6 L1258.7 94.5 L1258.8 96.1 L1258.9 98.4 L1259 101 L1259.1 98.7 L1259.2 95.7 L1259.3 95.2 L1259.4 96.4 L1259.6 97.4 L1259.7 106.4 L1259.8 97.5 L1259.9 99.6 L1260 101.8 L1260.1 96.8 L1260.2 95.7 L1260.3 94.2 L1260.4 99.3 L1260.5 100.3 L1260.7 98.2 L1260.8 97.5 L1260.9 94.5 L1261 97.9 L1261.1 100.4 L1261.2 96.8 L1261.3 101.8 L1261.4 94.7 L1261.5 98.3 L1261.6 99.8 L1261.7 94.6 L1261.9 100.4 L1262 97.5 L1262.1 96.9 L1262.2 98 L1262.3 100.9 L1262.4 99.1 L1262.5 98.7 L1262.6 101.6 L1262.7 96.5 L1262.8 98.3 L1263 97 L1263.1 97.8 L1263.2 100.8 L1263.3 95 L1263.4 105.4 L1263.5 100.2 L1263.6 95 L1263.7 96 L1263.8 96.8 L1263.9 94.7 L1264 96.2 L1264.2 99.2 L1264.3 96.5 L1264.4 96.8 L1264.5 98.5 L1264.6 100.4 L1264.7 98.4 L1264.8 94.2 L1264.9 97.5 L1265 94.1 L1265.1 94.5 L1265.3 95.9 L1265.4 94.3 L1265.5 95.7 L1265.6 95.9 L1265.7 94.9 L1265.8 100.4 L1265.9 99 L1266 94.7 L1266.1 99.9 L1266.2 94.5 L1266.3 94 L1266.5 99.8 L1266.6 95.5 L1266.7 94.2 L1266.8 95.4 L1266.9 97.9 L1267 99.8 L1267.1 99.6 L1267.2 101 L1267.3 100.1 L1267.4 100.8 L1267.6 96.2 L1267.7 98.5 L1267.8 94.1 L1267.9 96.1 L1268 96.8 L1268.1 100.5 L1268.2 101 L1268.3 98.2 L1268.4 97.3 L1268.5 99 L1268.6 99 L1268.8 96.1 L1268.9 100.8 L1269 97.8 L1269.1 99.9 L1269.2 96.2 L1269.3 98.6 L1269.4 96.8 L1269.5 98.3 L1269.6 99.6 L1269.7 93.3 L1269.9 93.7 L1270 94.8 L1270.1 99.1 L1270.2 96.2 L1270.3 100.9 L1270.4 95.1 L1270.5 94.3 L1270.6 96.1 L1270.7 97.3 L1270.8 99.9 L1270.9 101 L1271.1 95 L1271.2 93.9 L1271.3 98.4 L1271.4 98 L1271.5 100.5 L1271.6 93.9 L1271.7 100.3 L1271.8 98.6 L1271.9 97 L1272 99.5 L1272.2 98.3 L1272.3 99.6 L1272.4 96.9 L1272.5 94.1 L1272.6 97.3 L1272.7 94.1 L1272.8 98.8 L1272.9 99.6 L1273 99.2 L1273.1 94.8 L1273.2 99.7 L1273.4 94.5 L1273.5 96.6 L1273.6 97.5 L1273.7 100 L1273.8 97.9 L1273.9 96.2 L1274 92.6 L1274.1 92.7 L1274.2 99.9 L1274.3 99.8 L1274.5 97.9 L1274.6 98.3 L1274.7 95.5 L1274.8 96.9 L1274.9 99.6 L1275 93.1 L1275.1 95.8 L1275.2 99.5 L1275.3 97.7 L1275.4 97.7 L1275.5 93.1 L1275.7 95.9 L1275.8 94.9 L1275.9 94 L1276 96.9 L1276.1 93.7 L1276.2 99.2 L1276.3 95.7 L1276.4 97.5 L1276.5 94.5 L1276.6 93.7 L1276.8 100 L1276.9 95.4 L1277 98 L1277.1 95.4 L1277.2 98.1 L1277.3 100.1 L1277.4 97 L1277.5 96.1 L1277.6 94.8 L1277.7 92.5 L1277.8 97.2 L1278 94.3 L1278.1 92.9 L1278.2 99.7 L1278.3 100.1 L1278.4 93.7 L1278.5 98.1 L1278.6 98.7 L1278.7 94.5 L1278.8 97.7 L1278.9 92.3 L1279.1 93.5 L1279.2 96.5 L1279.3 95.5 L1279.4 93 L1279.5 95.8 L1279.6 97.5 L1279.7 94 L1279.8 93.1 L1279.9 92.2 L1280 97.8 L1280.1 93.8 L1280.3 96 L1280.4 94.6 L1280.5 95.7 L1280.6 99.8 L1280.7 98.9 L1280.8 97.3 L1280.9 95.5 L1281 95 L1281.1 99.7 L1281.2 91.9 L1281.4 97.5 L1281.5 98.8 L1281.6 95.2 L1281.7 93.1 L1281.8 92.5 L1281.9 98.9 L1282 95.6 L1282.1 95.7 L1282.2 98.7 L1282.3 97.6 L1282.4 92.3 L1282.6 93 L1282.7 99.1 L1282.8 97.7 L1282.9 96.7 L1283 98.1 L1283.1 98.4 L1283.2 92.1 L1283.3 93.2 L1283.4 98.6 L1283.5 93.9 L1283.7 97.1 L1283.8 92.9 L1283.9 93.4 L1284 93.8 L1284.1 99 L1284.2 97.9 L1284.3 95 L1284.4 96.3 L1284.5 93.1 L1284.6 92.5 L1284.7 95 L1284.9 95.3 L1285 99.4 L1285.1 94 L1285.2 97.9 L1285.3 96.7 L1285.4 92.9 L1285.5 94.4 L1285.6 93.5 L1285.7 96.1 L1285.8 91.4 L1286 95.6 L1286.1 98.3 L1286.2 96.2 L1286.3 93.8 L1286.4 96.5 L1286.5 94.1 L1286.6 96.2 L1286.7 98.8 L1286.8 94.8 L1286.9 97.9 L1287 94 L1287.2 98.6 L1287.3 93.5 L1287.4 99 L1287.5 92.5 L1287.6 92.9 L1287.7 95.9 L1287.8 94.3 L1287.9 91.9 L1288 93.5 L1288.1 92.7 L1288.3 91.3 L1288.4 92.3 L1288.5 98.6 L1288.6 95.3 L1288.7 96.4 L1288.8 91.3 L1288.9 93.8 L1289 95.4 L1289.1 95.6 L1289.2 98.4 L1289.4 96.2 L1289.5 98.4 L1289.6 96 L1289.7 92.9 L1289.8 91.4 L1289.9 98.5 L1290 91.3 L1290.1 93.4 L1290.2 94.3 L1290.3 95.2 L1290.4 97.1 L1290.6 94.7 L1290.7 98 L1290.8 94.5 L1290.9 94.5 L1291 98.4 L1291.1 97.6 L1291.2 93.8 L1291.3 94.7 L1291.4 96.6 L1291.5 92.9 L1291.7 95.6 L1291.8 92.2 L1291.9 96.6 L1292 97.9 L1292.1 93.6 L1292.2 90.7 L1292.3 94.6 L1292.4 102.1 L1292.5 98.3 L1292.6 95.7 L1292.7 97.3 L1292.9 95 L1293 92 L1293.1 95.5 L1293.2 93.6 L1293.3 98.4 L1293.4 98 L1293.5 98.4 L1293.6 97 L1293.7 96.5 L1293.8 94.1 L1294 94.1 L1294.1 98.2 L1294.2 97.3 L1294.3 93 L1294.4 92.4 L1294.5 94.6 L1294.6 92.2 L1294.7 97.1 L1294.8 98 L1294.9 93 L1295 97 L1295.2 95.5 L1295.3 94.3 L1295.4 90.5 L1295.5 94 L1295.6 92.2 L1295.7 90.7 L1295.8 93.8 L1295.9 90.2 L1296 97.6 L1296.1 90.6 L1296.3 94.2 L1296.4 97.3 L1296.5 90.7 L1296.6 92.4 L1296.7 94.6 L1296.8 91.4 L1296.9 95.5 L1297 91 L1297.1 92.1 L1297.2 97.1 L1297.3 97.9 L1297.5 92.2 L1297.6 96.5 L1297.7 92.5 L1297.8 91.4 L1297.9 90.7 L1298 97 L1298.1 93.2 L1298.2 95.6 L1298.3 97.7 L1298.4 96.9 L1298.6 97.5 L1298.7 97.4 L1298.8 92 L1298.9 95 L1299 97.4 L1299.1 93.1 L1299.2 97.6 L1299.3 93.2 L1299.4 96.2 L1299.5 97.6 L1299.6 94.9 L1299.8 96 L1299.9 97.2 L1300 96.9 L1300.1 95.6 L1300.2 96.5 L1300.3 96.2 L1300.4 91.6 L1300.5 95.1 L1300.6 92.4 L1300.7 91.5 L1300.9 93.3 L1301 97.5 L1301.1 90.1 L1301.2 94.3 L1301.3 90.1 L1301.4 96.8 L1301.5 94.5 L1301.6 97.5 L1301.7 95.3 L1301.8 90.8 L1301.9 96.3 L1302.1 89.9 L1302.2 90.9 L1302.3 93.3 L1302.4 91.3 L1302.5 94.1 L1302.6 95.1 L1302.7 93.1 L1302.8 92 L1302.9 90 L1303 91.7 L1303.2 95.1 L1303.3 90.4 L1303.4 90 L1303.5 92 L1303.6 90.3 L1303.7 90 L1303.8 93.7 L1303.9 95.5 L1304 90.1 L1304.1 96.2 L1304.2 89.9 L1304.4 89.7 L1304.5 96.2 L1304.6 91.9 L1304.7 95.2 L1304.8 92.2 L1304.9 90 L1305 93.4 L1305.1 95 L1305.2 93.6 L1305.3 91.5 L1305.5 94.9 L1305.6 96.2 L1305.7 94.5 L1305.8 96.2 L1305.9 93.1 L1306 93.4 L1306.1 95.3 L1306.2 90 L1306.3 93.8 L1306.4 92.7 L1306.5 91.3 L1306.7 95.1 L1306.8 91.7 L1306.9 95.8 L1307 93.3 L1307.1 96.6 L1307.2 93 L1307.3 90 L1307.4 92.8 L1307.5 90.4 L1307.6 90.3 L1307.8 95 L1307.9 91.4 L1308 91.7 L1308.1 96.4 L1308.2 89.4 L1308.3 92.1 L1308.4 96 L1308.5 93.4 L1308.6 90.8 L1308.7 90.5 L1308.8 92.9 L1309 94.9 L1309.1 95.8 L1309.2 90.9 L1309.3 94.5 L1309.4 89.3 L1309.5 93.5 L1309.6 89.3 L1309.7 93.6 L1309.8 94.6 L1309.9 89 L1310.1 94.6 L1310.2 91 L1310.3 94.8 L1310.4 92.6 L1310.5 89.9 L1310.6 89.2 L1310.7 89.2 L1310.8 94.3 L1310.9 91.6 L1311 92.6 L1311.1 90.4 L1311.3 89 L1311.4 91 L1311.5 95.7 L1311.6 90.6 L1311.7 90.2 L1311.8 94.4 L1311.9 90.2 L1312 90.8 L1312.1 96.7 L1312.2 95.9 L1312.4 89.5 L1312.5 88.6 L1312.6 90.3 L1312.7 91.9 L1312.8 91 L1312.9 95 L1313 96 L1313.1 88.9 L1313.2 94.6 L1313.3 89.7 L1313.4 93.4 L1313.6 91.2 L1313.7 89.7 L1313.8 92.7 L1313.9 92.4 L1314 95 L1314.1 88.6 L1314.2 94.5 L1314.3 94.7 L1314.4 93.7 L1314.5 92.5 L1314.7 88 L1314.8 89.9 L1314.9 93.4 L1315 91.6 L1315.1 92.7 L1315.2 91.3 L1315.3 92.7 L1315.4 93.2 L1315.5 91.9 L1315.6 92.8 L1315.7 94.8 L1315.9 94.5 L1316 93.5 L1316.1 92.4 L1316.2 89 L1316.3 91.8 L1316.4 92.1 L1316.5 92.2 L1316.6 92 L1316.7 90.5 L1316.8 87.7 L1317 92.1 L1317.1 95.3 L1317.2 92.5 L1317.3 88 L1317.4 88.9 L1317.5 89.6 L1317.6 88.1 L1317.7 88.9 L1317.8 89.2 L1317.9 90.5 L1318.1 89 L1318.2 92.2 L1318.3 95.1 L1318.4 94.3 L1318.5 88.3 L1318.6 88.5 L1318.7 90 L1318.8 91 L1318.9 95.2 L1319 95 L1319.1 91 L1319.3 89 L1319.4 91.1 L1319.5 90.8 L1319.6 89.5 L1319.7 94.8 L1319.8 91.8 L1319.9 92.6 L1320 94.1 L1320.1 88 L1320.2 90.8 L1320.4 92.9 L1320.5 91.1 L1320.6 93.8 L1320.7 90 L1320.8 92.6 L1320.9 94.6 L1321 93.7 L1321.1 90.1 L1321.2 93.1 L1321.3 91.6 L1321.4 91.4 L1321.6 94.1 L1321.7 94.1 L1321.8 93 L1321.9 89.5 L1322 91.4 L1322.1 93.7 L1322.2 87.3 L1322.3 88.5 L1322.4 91.1 L1322.5 87.3 L1322.7 87.5 L1322.8 90 L1322.9 92.8 L1323 91.4 L1323.1 91.5 L1323.2 90.7 L1323.3 92.5 L1323.4 88 L1323.5 88 L1323.6 93.5 L1323.7 88.3 L1323.9 89.4 L1324 91.2 L1324.1 88.6 L1324.2 87.4 L1324.3 94.2 L1324.4 88.1 L1324.5 93.1 L1324.6 93.3 L1324.7 91.4 L1324.8 93.8 L1325 87.6 L1325.1 94 L1325.2 91.6 L1325.3 88 L1325.4 87.8 L1325.5 94 L1325.6 88.4 L1325.7 87.5 L1325.8 91.5 L1325.9 91.7 L1326 87.3 L1326.2 94 L1326.3 91.5 L1326.4 88.1 L1326.5 87.3 L1326.6 90.1 L1326.7 90.3 L1326.8 91.4 L1326.9 93.2 L1327 93.2 L1327.1 90.3 L1327.3 91.7 L1327.4 90.7 L1327.5 88.3 L1327.6 88.8 L1327.7 93.4 L1327.8 91.8 L1327.9 92.9 L1328 89.1 L1328.1 90 L1328.2 91.9 L1328.3 93.2 L1328.5 86.7 L1328.6 89.3 L1328.7 88.7 L1328.8 93.3 L1328.9 88.2 L1329 91 L1329.1 93.6 L1329.2 92.7 L1329.3 91 L1329.4 86.7 L1329.6 90.7 L1329.7 87.6 L1329.8 91.3 L1329.9 89.5 L1330 87.1 L1330.1 87.9 L1330.2 93.4 L1330.3 92.6 L1330.4 92.6 L1330.5 89.8 L1330.6 88.9 L1330.8 91 L1330.9 93.4 L1331 87.5 L1331.1 88.1 L1331.2 88 L1331.3 86.1 L1331.4 86.7 L1331.5 91.4 L1331.6 90.4 L1331.7 91.7 L1331.9 90 L1332 93.3 L1332.1 88.9 L1332.2 88.5 L1332.3 91.3 L1332.4 89.5 L1332.5 86.8 L1332.6 90.4 L1332.7 90.3 L1332.8 86.1 L1332.9 87.9 L1333.1 86.7 L1333.2 89 L1333.3 93.2 L1333.4 91 L1333.5 87.5 L1333.6 90.8 L1333.7 88.5 L1333.8 87.1 L1333.9 91 L1334 89.1 L1334.2 90 L1334.3 86.1 L1334.4 85.9 L1334.5 92.5 L1334.6 86 L1334.7 87.3 L1334.8 86.9 L1334.9 87.7 L1335 90 L1335.1 88.2 L1335.2 86.9 L1335.4 87.1 L1335.5 91 L1335.6 87.1 L1335.7 91.3 L1335.8 88.2 L1335.9 88.9 L1336 86.1 L1336.1 87.9 L1336.2 88.8 L1336.3 85.7 L1336.5 89.3 L1336.6 88.6 L1336.7 91.2 L1336.8 90.4 L1336.9 89.4 L1337 92.3 L1337.1 87.5 L1337.2 90.3 L1337.3 91.2 L1337.4 89.4 L1337.5 91 L1337.7 89.7 L1337.8 89.6 L1337.9 89.4 L1338 92.9 L1338.1 85.6 L1338.2 91.7 L1338.3 89.1 L1338.4 86.5 L1338.5 88.1 L1338.6 92.1 L1338.8 88.3 L1338.9 87.7 L1339 87.7 L1339.1 92.9 L1339.2 92.5 L1339.3 89.8 L1339.4 85.2 L1339.5 86.8 L1339.6 89.2 L1339.7 85.2 L1339.8 85.6 L1340 91.5 L1340.1 89.2 L1340.2 90.7 L1340.3 90.8 L1340.4 88 L1340.5 87 L1340.6 91.4 L1340.7 88.6 L1340.8 90.8 L1340.9 90.1 L1341.1 90 L1341.2 92 L1341.3 92.6 L1341.4 85.6 L1341.5 88.2 L1341.6 90.1 L1341.7 86 L1341.8 88.5 L1341.9 88.5 L1342 89.6 L1342.1 90.9 L1342.3 86.7 L1342.4 91.6 L1342.5 85.6 L1342.6 92 L1342.7 89 L1342.8 87.4 L1342.9 85.1 L1343 89.9 L1343.1 84.8 L1343.2 90.1 L1343.4 87.3 L1343.5 89.8 L1343.6 88.7 L1343.7 90.5 L1343.8 87.1 L1343.9 86.6 L1344 85.9 L1344.1 86.6 L1344.2 91.8 L1344.3 91.7 L1344.4 87.3 L1344.6 91 L1344.7 91.2 L1344.8 89.6 L1344.9 89.2 L1345 89.7 L1345.1 85.9 L1345.2 88.3 L1345.3 87.5 L1345.4 84.9 L1345.5 91.6 L1345.7 87.6 L1345.8 85.4 L1345.9 87.1 L1346 87.9 L1346.1 86.1 L1346.2 86.8 L1346.3 88 L1346.4 85.6 L1346.5 91.8 L1346.6 84.8 L1346.8 87.2 L1346.9 85.4 L1347 92 L1347.1 91.3 L1347.2 87 L1347.3 85.2 L1347.4 85.7 L1347.5 90.8 L1347.6 88.8 L1347.7 85 L1347.8 88.9 L1348 86.3 L1348.1 89.5 L1348.2 91.5 L1348.3 85.6 L1348.4 85 L1348.5 87.7 L1348.6 87.4 L1348.7 84.1 L1348.8 84.4 L1348.9 84.4 L1349.1 90 L1349.2 84.9 L1349.3 84.3 L1349.4 91.3 L1349.5 84.7 L1349.6 90.6 L1349.7 84.8 L1349.8 90.5 L1349.9 90.4 L1350 89.4 L1350.1 89.9 L1350.3 85.6 L1350.4 91.2 L1350.5 90.9 L1350.6 89.9 L1350.7 85.3 L1350.8 89.3 L1350.9 90.1 L1351 89.2 L1351.1 85.9 L1351.2 83.9 L1351.4 84.4 L1351.5 91.1 L1351.6 83.9 L1351.7 88.9 L1351.8 90.4 L1351.9 91.4 L1352 87.1 L1352.1 89.4 L1352.2 91.3 L1352.3 89 L1352.4 84.2 L1352.6 87 L1352.7 86.5 L1352.8 86.5 L1352.9 83.9 L1353 86.3 L1353.1 85.4 L1353.2 87.9 L1353.3 89.7 L1353.4 85.8 L1353.5 88.9 L1353.7 85.4 L1353.8 90.3 L1353.9 86 L1354 86 L1354.1 89.2 L1354.2 89.9 L1354.3 84.4 L1354.4 89.8 L1354.5 88.9 L1354.6 87.3 L1354.7 88.7 L1354.9 86.6 L1355 83.7 L1355.1 88.2 L1355.2 84.3 L1355.3 90 L1355.4 84.9 L1355.5 88.4 L1355.6 84 L1355.7 90 L1355.8 90.7 L1356 88.9 L1356.1 84 L1356.2 84.4 L1356.3 84.7 L1356.4 90.7 L1356.5 84.9 L1356.6 84.8 L1356.7 84.9 L1356.8 86.7 L1356.9 83.5 L1357 86.2 L1357.2 90.4 L1357.3 87.6 L1357.4 84.3 L1357.5 85.2 L1357.6 90.7 L1357.7 90 L1357.8 89.5 L1357.9 84.2 L1358 88.6 L1358.1 85.5 L1358.3 87.2 L1358.4 86.2 L1358.5 83.9 L1358.6 88.8 L1358.7 86.4 L1358.8 86.7" fill="none" stroke="#1a3c96" stroke-width="0.8" stroke-opacity="1" stroke-linejoin="bevel"/>
<path d="M1074.1 167.7 L1074.7 164.4 L1075.2 162.4 L1075.8 157.7 L1076.4 158.6 L1077 159 L1077.5 155.1 L1078.1 152.5 L1078.7 155.8 L1079.2 153.4 L1079.8 150 L1080.4 151.7 L1080.9 152.7 L1081.5 147.6 L1082.1 150.3 L1082.7 148.6 L1083.2 145.1 L1083.8 144 L1084.4 147.3 L1084.9 143.1 L1085.5 142.7 L1086.1 143 L1086.7 141 L1087.2 137.7 L1087.8 138.4 L1088.4 138.8 L1088.9 139.6 L1089.5 138.1 L1090.1 136.5 L1090.6 134.6 L1091.2 137.3 L1091.8 133.5 L1092.4 135.9 L1092.9 134.1 L1093.5 133.9 L1094.1 132.5 L1094.6 131 L1095.2 130.3 L1095.8 132.4 L1096.4 130 L1096.9 128.2 L1097.5 128.8 L1098.1 132.3 L1098.6 130.9 L1099.2 129.8 L1099.8 128.6 L1100.3 130.5 L1100.9 127.3 L1101.5 129 L1102.1 125.4 L1102.6 128.5 L1103.2 130 L1103.8 128.4 L1104.3 124.8 L1104.9 127.3 L1105.5 125.6 L1106.1 128.5 L1106.6 123.6 L1107.2 123.3 L1107.8 123.5 L1108.3 124.6 L1108.9 127.2 L1109.5 125.3 L1110 125.6 L1110.6 122.2 L1111.2 122.7 L1111.8 123.6 L1112.3 124.7 L1112.9 125.1 L1113.5 124 L1114 122.3 L1114.6 121.6 L1115.2 122.7 L1115.7 121.7 L1116.3 124 L1116.9 124.5 L1117.5 123.9 L1118 120.3 L1118.6 123.5 L1119.2 119.4 L1119.7 119.9 L1120.3 122.6 L1120.9 120.5 L1121.5 122.9 L1122 122 L1122.6 121.6 L1123.2 121.3 L1123.7 122.7 L1124.3 122.1 L1124.9 118 L1125.4 122.6 L1126 119.7 L1126.6 118.9 L1127.2 121.6 L1127.7 121.7 L1128.3 120.8 L1128.9 120.4 L1129.4 116.8 L1130 118 L1130.6 120.4 L1131.2 121.2 L1131.7 117.6 L1132.3 119.8 L1132.9 116.5 L1133.4 119.4 L1134 117.4 L1134.6 116 L1135.1 116.3 L1135.7 118 L1136.3 117.5 L1136.9 118.3 L1137.4 116.6 L1138 117.6 L1138.6 116.5 L1139.1 118.2 L1139.7 114.5 L1140.3 117.1 L1140.9 116.9 L1141.4 114.3 L1142 117.5 L1142.6 116.7 L1143.1 118 L1143.7 114.4 L1144.3 115.3 L1144.8 117.2 L1145.4 117.4 L1146 116.1 L1146.6 114.4 L1147.1 116 L1147.7 114.6 L1148.3 114.8 L1148.8 115.3 L1149.4 116.3 L1150 112 L1150.6 115 L1151.1 115.8 L1151.7 113.2 L1152.3 112.5 L1152.8 113.8 L1153.4 111.3 L1154 114.6 L1154.5 113 L1155.1 113.7 L1155.7 114.1 L1156.3 110.5 L1156.8 111.1 L1157.4 112 L1158 112.8 L1158.5 111.5 L1159.1 111 L1159.7 109.7 L1160.3 111.4 L1160.8 113.5 L1161.4 109.3 L1162 111.8 L1162.5 109.9 L1163.1 113.1 L1163.7 112.3 L1164.2 109.5 L1164.8 112.7 L1165.4 109.7 L1166 111.2 L1166.5 109.2 L1167.1 109.2 L1167.7 108 L1168.2 108.9 L1168.8 109.3 L1169.4 107.5 L1170 107.3 L1170.5 107.2 L1171.1 110.9 L1171.7 108.7 L1172.2 110.8 L1172.8 108.7 L1173.4 109 L1173.9 108 L1174.5 109.7 L1175.1 107.6 L1175.7 109.6 L1176.2 107.6 L1176.8 106.3 L1177.4 107.5 L1177.9 105.7 L1178.5 107.1 L1179.1 107 L1179.7 108.3 L1180.2 109.4 L1180.8 105.6 L1181.4 107.5 L1181.9 108.4 L1182.5 107.6 L1183.1 105.5 L1183.6 106.2 L1184.2 108.3 L1184.8 106.4 L1185.4 107 L1185.9 105.2 L1186.5 107.3 L1187.1 106.1 L1187.6 107 L1188.2 104.7 L1188.8 104.4 L1189.3 104 L1189.9 105.7 L1190.5 103.4 L1191.1 104.4 L1191.6 105.7 L1192.2 103.9 L1192.8 103.7 L1193.3 103.5 L1193.9 104.5 L1194.5 105.6 L1195.1 103.3 L1195.6 104.4 L1196.2 106.3 L1196.8 104.1 L1197.3 103 L1197.9 105.3 L1198.5 105.5 L1199 104.7 L1199.6 102.8 L1200.2 103.5 L1200.8 102.6 L1201.3 105.1 L1201.9 101.1 L1202.5 104.7 L1203 102 L1203.6 101.4 L1204.2 104.3 L1204.8 104 L1205.3 100.6 L1205.9 101.7 L1206.5 100.7 L1207 103.4 L1207.6 104 L1208.2 101.3 L1208.7 101.5 L1209.3 100 L1209.9 100.2 L1210.5 100 L1211 102.7 L1211.6 100.4 L1212.2 101.4 L1212.7 100.5 L1213.3 101.5 L1213.9 101.6 L1214.5 100.6 L1215 100.1 L1215.6 102.8 L1216.2 102.8 L1216.7 100.8 L1217.3 100.4 L1217.9 100.8 L1218.4 100.8 L1219 102.5 L1219.6 100.2 L1220.2 99.8 L1220.7 102.3 L1221.3 100.9 L1221.9 98.6 L1222.4 100.3 L1223 101.4 L1223.6 100.2 L1224.2 98.9 L1224.7 99.2 L1225.3 100.7 L1225.9 99.9 L1226.4 97.5 L1227 98.7 L1227.6 100.4 L1228.1 97.5 L1228.7 98.8 L1229.3 99.4 L1229.9 98.3 L1230.4 99.8 L1231 97.1 L1231.6 100.7 L1232.1 99.9 L1232.7 100.3 L1233.3 98.8 L1233.9 98.4 L1234.4 97.7 L1235 96.8 L1235.6 98.4 L1236.1 97.5 L1236.7 99.8 L1237.3 96.7 L1237.8 96.2 L1238.4 99.2 L1239 100 L1239.6 97.6 L1240.1 99.4 L1240.7 98.6 L1241.3 98.9 L1241.8 98 L1242.4 97.5 L1243 98 L1243.6 98.6 L1244.1 99.2 L1244.7 98.9 L1245.3 98.1 L1245.8 98.9 L1246.4 95 L1247 94.9 L1247.5 95.8 L1248.1 94.7 L1248.7 97 L1249.3 95.4 L1249.8 98.1 L1250.4 94.8 L1251 97.6 L1251.5 94.5 L1252.1 98.1 L1252.7 95.6 L1253.2 95.2 L1253.8 95.3 L1254.4 96.9 L1255 97.4 L1255.5 96.6 L1256.1 94.3 L1256.7 95.2 L1257.2 95.6 L1257.8 94.6 L1258.4 97.3 L1259 96.3 L1259.5 96.2 L1260.1 94.3 L1260.7 95.4 L1261.2 94.1 L1261.8 94.4 L1262.4 96.2 L1262.9 93.9 L1263.5 95.6 L1264.1 93.8 L1264.7 96 L1265.2 93.3 L1265.8 96.2 L1266.4 92.7 L1266.9 93.3 L1267.5 95.1 L1268.1 93.8 L1268.7 92.9 L1269.2 92.8 L1269.8 94.3 L1270.4 93.3 L1270.9 95.7 L1271.5 95 L1272.1 93.9 L1272.6 94.5 L1273.2 92.6 L1273.8 93.4 L1274.4 94.9 L1274.9 95.2 L1275.5 92.1 L1276.1 92.7 L1276.6 94.5 L1277.2 92.4 L1277.8 92.6 L1278.4 91.6 L1278.9 94.5 L1279.5 91.5 L1280.1 93.7 L1280.6 91.3 L1281.2 91.9 L1281.8 94.5 L1282.3 91.2 L1282.9 93.8 L1283.5 91.5 L1284.1 93.8 L1284.6 91.8 L1285.2 92.6 L1285.8 93.6 L1286.3 90.6 L1286.9 91.7 L1287.5 93.8 L1288.1 91.1 L1288.6 92.3 L1289.2 93.6 L1289.8 92.7 L1290.3 93.5 L1290.9 92 L1291.5 92.4 L1292 89.9 L1292.6 93.3 L1293.2 91.2 L1293.8 91.6 L1294.3 91.5 L1294.9 90.6 L1295.5 93.1 L1296 91.8 L1296.6 91.2 L1297.2 89.6 L1297.8 91.9 L1298.3 91.5 L1298.9 92.6 L1299.5 91 L1300 90 L1300.6 91.1 L1301.2 89.2 L1301.7 89.4 L1302.3 90.7 L1302.9 90.9 L1303.5 92.1 L1304 88.4 L1304.6 91.6 L1305.2 89.7 L1305.7 88.1 L1306.3 89.5 L1306.9 90.3 L1307.5 89.3 L1308 89.1 L1308.6 90.9 L1309.2 89.3 L1309.7 91.3 L1310.3 88.5 L1310.9 87.8 L1311.4 89.2 L1312 90.2 L1312.6 88.6 L1313.2 88.1 L1313.7 89.3 L1314.3 90.2 L1314.9 89.2 L1315.4 89.2 L1316 88.3 L1316.6 89.3 L1317.2 89.6 L1317.7 86.9 L1318.3 90.4 L1318.9 88.1 L1319.4 88.2 L1320 88.3 L1320.6 89.1 L1321.1 88 L1321.7 88.5 L1322.3 87.2 L1322.9 87 L1323.4 87.9 L1324 86.3 L1324.6 86 L1325.1 88.5 L1325.7 86.2 L1326.3 88 L1326.8 89.1 L1327.4 88.7 L1328 85.8 L1328.6 87.1 L1329.1 87.4 L1329.7 86.5 L1330.3 86.6 L1330.8 88.8 L1331.4 85.6 L1332 88.2 L1332.6 87.9 L1333.1 85.5 L1333.7 86.2 L1334.3 86.7 L1334.8 88.1 L1335.4 84.5 L1336 87.9 L1336.5 84.6 L1337.1 85.5 L1337.7 84.3 L1338.3 88 L1338.8 87.9 L1339.4 85.8 L1340 86.8 L1340.5 84.2 L1341.1 86 L1341.7 85.2 L1342.3 85.9 L1342.8 84.9 L1343.4 86.2 L1344 85.4 L1344.5 85.4 L1345.1 85.3 L1345.7 84.7 L1346.2 85.3 L1346.8 86 L1347.4 85.6 L1348 83.7 L1348.5 85.6 L1349.1 83.8 L1349.7 85.4 L1350.2 85.7 L1350.8 85.3 L1351.4 85.8 L1352 84.3 L1352.5 86.4 L1353.1 86 L1353.7 84.5 L1354.2 83.6 L1354.8 86 L1355.4 84.5 L1355.9 82.8 L1356.5 83.8 L1357.1 82.6 L1357.7 83.9 L1358.2 83 L1358.8 82.5" fill="none" stroke="#2a8a2a" stroke-width="0.6" stroke-opacity="0.8" stroke-linejoin="bevel"/>
<path d="M1321.3 96 L1321.3 120.5" stroke="#228b22" stroke-width="0.9"/>
<path d="M1073.6 225V221.5M1073.6 27.3V30.8M1109.31 225V221.5M1109.31 27.3V30.8M1145.02 225V221.5M1145.02 27.3V30.8M1180.74 225V221.5M1180.74 27.3V30.8M1216.45 225V221.5M1216.45 27.3V30.8M1252.16 225V221.5M1252.16 27.3V30.8M1287.88 225V221.5M1287.88 27.3V30.8M1323.59 225V221.5M1323.59 27.3V30.8M1359.3 225V221.5M1359.3 27.3V30.8M1073.6 225H1077.1M1359.3 225H1355.8M1073.6 185.46H1077.1M1359.3 185.46H1355.8M1073.6 145.92H1077.1M1359.3 145.92H1355.8M1073.6 106.38H1077.1M1359.3 106.38H1355.8M1073.6 66.84H1077.1M1359.3 66.84H1355.8M1073.6 27.3H1077.1M1359.3 27.3H1355.8" stroke="#505050" stroke-width="0.9" fill="none"/>
<rect x="1073.6" y="27.3" width="285.7" height="197.7" fill="none" stroke="#505050" stroke-width="1.05"/>
<text x="1073.6" y="237.2" font-family='"Liberation Serif",serif' font-size="12" text-anchor="middle" fill="#555" >0</text>
<text x="1109.31" y="237.2" font-family='"Liberation Serif",serif' font-size="12" text-anchor="middle" fill="#555" >500</text>
<text x="1145.02" y="237.2" font-family='"Liberation Serif",serif' font-size="12" text-anchor="middle" fill="#555" >1000</text>
<text x="1180.74" y="237.2" font-family='"Liberation Serif",serif' font-size="12" text-anchor="middle" fill="#555" >1500</text>
<text x="1216.45" y="237.2" font-family='"Liberation Serif",serif' font-size="12" text-anchor="middle" fill="#555" >2000</text>
<text x="1252.16" y="237.2" font-family='"Liberation Serif",serif' font-size="12" text-anchor="middle" fill="#555" >2500</text>
<text x="1287.88" y="237.2" font-family='"Liberation Serif",serif' font-size="12" text-anchor="middle" fill="#555" >3000</text>
<text x="1323.59" y="237.2" font-family='"Liberation Serif",serif' font-size="12" text-anchor="middle" fill="#555" >3500</text>
<text x="1359.3" y="237.2" font-family='"Liberation Serif",serif' font-size="12" text-anchor="middle" fill="#555" >4000</text>
<text x="1070" y="228.2" font-family='"Liberation Serif",serif' font-size="12.8" text-anchor="end" fill="#555" >0</text>
<text x="1070" y="188.66" font-family='"Liberation Serif",serif' font-size="12.8" text-anchor="end" fill="#555" >20</text>
<text x="1070" y="149.12" font-family='"Liberation Serif",serif' font-size="12.8" text-anchor="end" fill="#555" >40</text>
<text x="1070" y="109.58" font-family='"Liberation Serif",serif' font-size="12.8" text-anchor="end" fill="#555" >60</text>
<text x="1070" y="70.04" font-family='"Liberation Serif",serif' font-size="12.8" text-anchor="end" fill="#555" >80</text>
<text x="1070" y="30.5" font-family='"Liberation Serif",serif' font-size="12.8" text-anchor="end" fill="#555" >100</text>
<text x="1145.2" y="24.1" font-family='"Liberation Sans",sans-serif' font-size="16.09" textLength="141.92" lengthAdjust="spacingAndGlyphs" fill="#111" >Accuracy v/s iteration</text>
<text x="1167.31" y="253.7" font-family='"Liberation Sans",sans-serif' font-size="16.67" textLength="93.88" lengthAdjust="spacingAndGlyphs" fill="#111" >Iteration (*50)</text>
<text x="1046.5" y="156" font-family='"Liberation Sans",sans-serif' font-size="15.94" textLength="60.54" lengthAdjust="spacingAndGlyphs" fill="#111" transform="rotate(-90 1046.5 156)">Accuracy</text>
<text x="153.68" y="306.5" font-family='"Liberation Serif",serif' font-size="30" textLength="34.93" lengthAdjust="spacingAndGlyphs" fill="#111" >(a)</text>
<text x="506.68" y="306.5" font-family='"Liberation Serif",serif' font-size="30" textLength="36.71" lengthAdjust="spacingAndGlyphs" fill="#111" >(b)</text>
<text x="850.68" y="306.5" font-family='"Liberation Serif",serif' font-size="30" textLength="35.15" lengthAdjust="spacingAndGlyphs" fill="#111" >(c)</text>
<text x="1184.29" y="306.5" font-family='"Liberation Serif",serif' font-size="30" textLength="36.49" lengthAdjust="spacingAndGlyphs" fill="#111" >(d)</text>
<text x="752.49" y="358.1" font-family='"Liberation Sans",sans-serif' font-size="26.38" textLength="61.04" lengthAdjust="spacingAndGlyphs" fill="#111" >ReLU</text>
<text x="919.66" y="358.1" font-family='"Liberation Sans",sans-serif' font-size="26.38" textLength="58.17" lengthAdjust="spacingAndGlyphs" fill="#111" >Tanh</text>
<text x="1066.33" y="358.1" font-family='"Liberation Sans",sans-serif' font-size="26.38" textLength="69.43" lengthAdjust="spacingAndGlyphs" fill="#111" >Swish</text>
<text x="1220.87" y="358.1" font-family='"Liberation Sans",sans-serif' font-size="26.38" textLength="44.45" lengthAdjust="spacingAndGlyphs" fill="#111" >ELU</text>
<line x1="834.9" y1="348.4" x2="900.5" y2="348.4" stroke="#dd7535" stroke-width="2.3"/>
<line x1="986.1" y1="348.4" x2="1052.3" y2="348.4" stroke="#6cab48" stroke-width="2.3"/>
<line x1="1142" y1="348.4" x2="1208" y2="348.4" stroke="#f2d06a" stroke-width="2.3"/>
<line x1="1288" y1="348.4" x2="1354" y2="348.4" stroke="#3c62b4" stroke-width="2.3"/>
</svg></body></html>
